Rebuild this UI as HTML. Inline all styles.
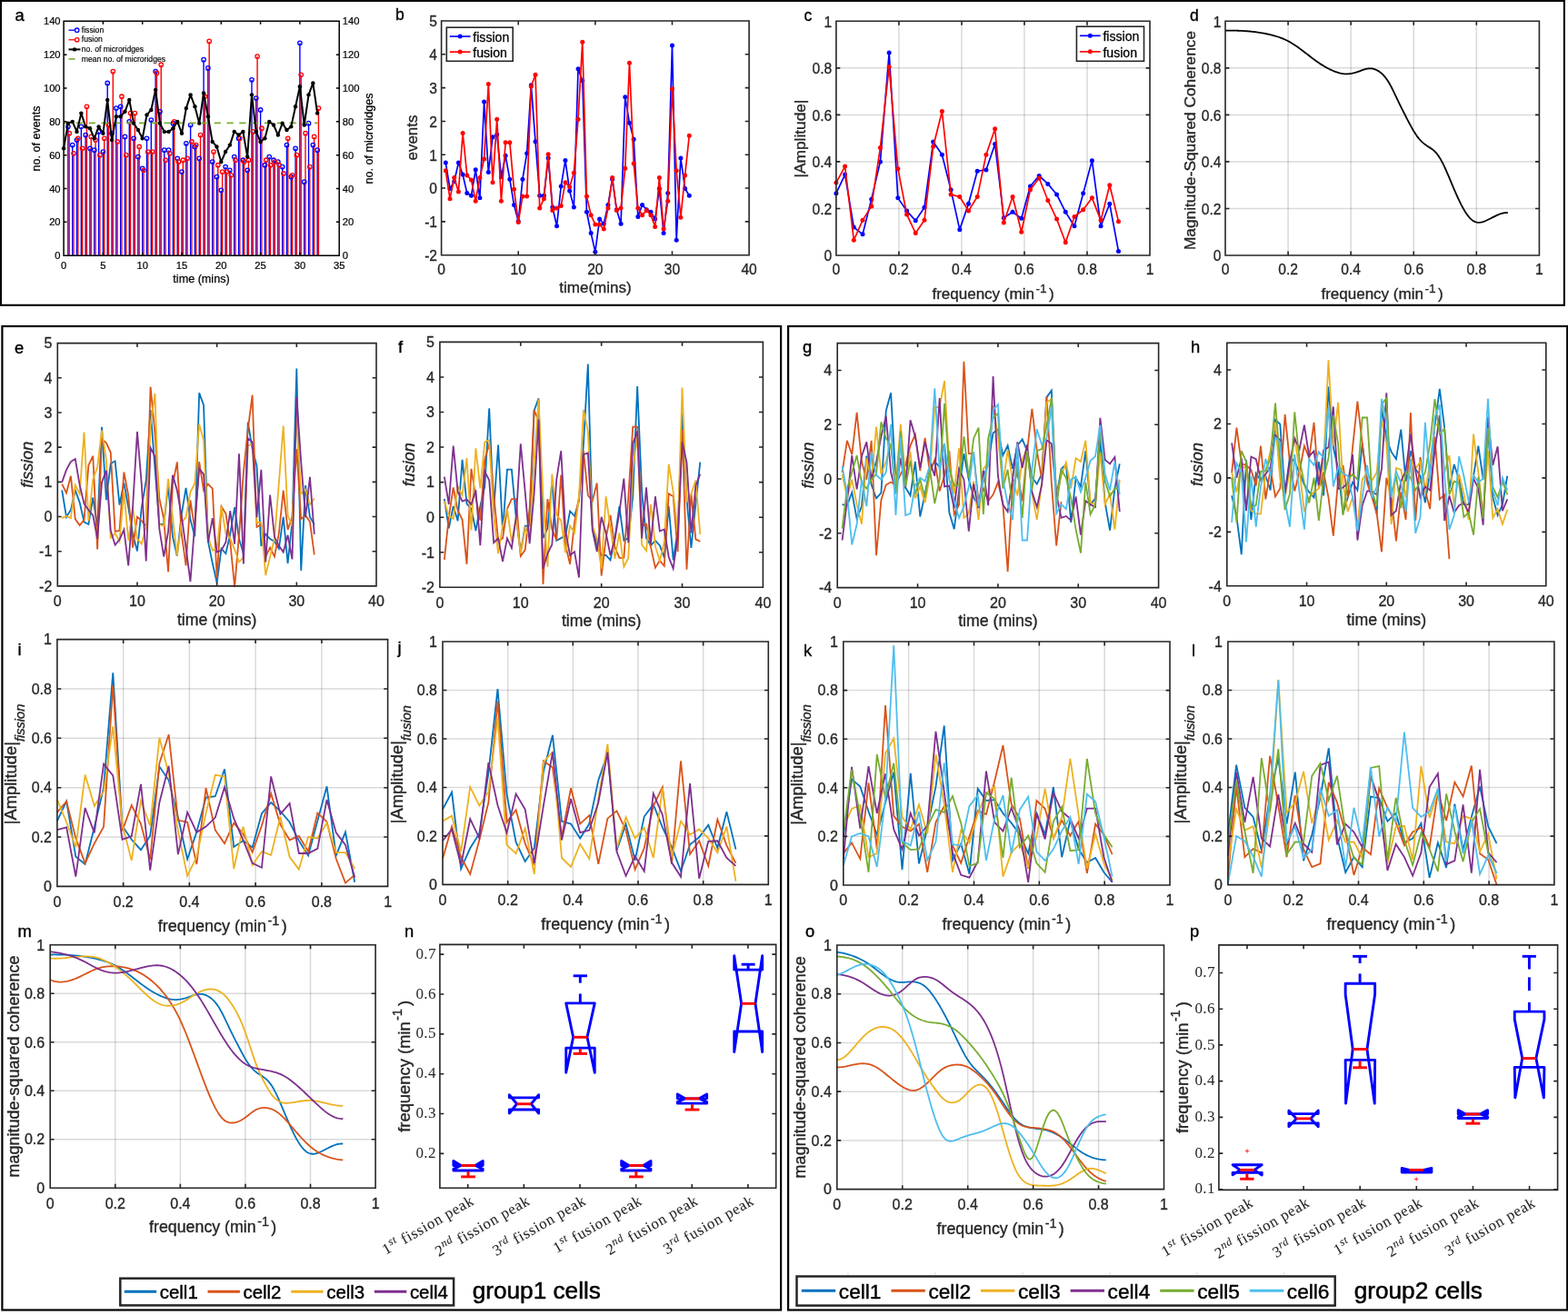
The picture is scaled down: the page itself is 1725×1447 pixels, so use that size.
<!DOCTYPE html>
<html lang="en">
<head>
<meta charset="utf-8">
<title>Figure</title>
<style>
html,body{margin:0;padding:0;background:#fff;}
body{width:1725px;height:1447px;overflow:hidden;}
svg{display:block;}
svg text{stroke-linejoin:round;}
</style>
</head>
<body>
<svg width="1725" height="1447" viewBox="0 0 1725 1447" font-family='"Liberation Sans", sans-serif'>
<rect x="0.95" y="0.9" width="1719.9" height="334.9" fill="none" stroke="#000" stroke-width="2.1"/>
<rect x="2.4" y="359" width="856.7" height="1082.5" fill="none" stroke="#000" stroke-width="2.2"/>
<rect x="867.1" y="359" width="857.1" height="1082.5" fill="none" stroke="#000" stroke-width="2.2"/>
<path d="M74.91 281.2V139.66M79.72 281.2V159.92M84.53 281.2V154.39M89.34 281.2V139.66M94.16 281.2V148.87M98.97 281.2V163.6M103.78 281.2V165.44M108.59 281.2V145.18M113.4 281.2V167.29M118.21 281.2V91.76M123.02 281.2V147.02M127.83 281.2V119.39M132.64 281.2V117.55M137.46 281.2V150.71M142.27 281.2V134.13M147.08 281.2V152.55M151.89 281.2V172.81M156.7 281.2V185.71M161.51 281.2V152.55M166.32 281.2V132.29M171.13 281.2V78.86M175.94 281.2V123.08M180.76 281.2V165.44M185.57 281.2V165.44M190.38 281.2V135.97M195.19 281.2V174.66M200 281.2V189.39M204.81 281.2V158.08M209.62 281.2V137.81M214.43 281.2V161.76M219.24 281.2V174.66M224.06 281.2V65.97M228.87 281.2V75.18M233.68 281.2V178.34M238.49 281.2V194.92M243.3 281.2V209.66M248.11 281.2V183.87M252.92 281.2V187.55M257.73 281.2V172.81M262.54 281.2V152.55M267.36 281.2V176.5M272.17 281.2V187.55M276.98 281.2V88.08M281.79 281.2V108.34M286.6 281.2V121.23M291.41 281.2V182.02M296.22 281.2V172.81M301.03 281.2V176.5M305.84 281.2V178.34M310.66 281.2V183.87M315.47 281.2V159.92M320.28 281.2V194.92M325.09 281.2V163.6M329.9 281.2V47.55M334.71 281.2V200.45M339.52 281.2V135.97M344.33 281.2V159.92M349.14 281.2V165.44" stroke="#0000ff" stroke-width="1.4" fill="none"/>
<path d="M76.21 281.2V147.02M81.02 281.2V169.13M85.83 281.2V152.55M90.64 281.2V163.6M95.46 281.2V117.55M100.27 281.2V150.71M105.08 281.2V154.39M109.89 281.2V170.97M114.7 281.2V152.55M119.51 281.2V137.81M124.32 281.2V78.86M129.13 281.2V156.23M133.94 281.2V106.5M138.76 281.2V170.97M143.57 281.2V124.92M148.38 281.2V124.92M153.19 281.2V161.76M158 281.2V187.55M162.81 281.2V167.29M167.62 281.2V167.29M172.43 281.2V80.71M177.24 281.2V71.5M182.06 281.2V176.5M186.87 281.2V169.13M191.68 281.2V134.13M196.49 281.2V178.34M201.3 281.2V176.5M206.11 281.2V174.66M210.92 281.2V156.23M215.73 281.2V159.92M220.54 281.2V148.87M225.36 281.2V106.5M230.17 281.2V45.71M234.98 281.2V167.29M239.79 281.2V182.02M244.6 281.2V189.39M249.41 281.2V189.39M254.22 281.2V193.08M259.03 281.2V176.5M263.84 281.2V152.55M268.66 281.2V178.34M273.47 281.2V176.5M278.28 281.2V145.18M283.09 281.2V62.29M287.9 281.2V141.5M292.71 281.2V176.5M297.52 281.2V182.02M302.33 281.2V178.34M307.14 281.2V182.02M311.96 281.2V191.24M316.77 281.2V152.55M321.58 281.2V193.08M326.39 281.2V170.97M331.2 281.2V82.55M336.01 281.2V147.02M340.82 281.2V183.87M345.63 281.2V150.71M350.44 281.2V119.39" stroke="#ff0000" stroke-width="1.4" fill="none"/>
<circle cx="74.91" cy="139.35" r="2.2" fill="none" stroke="#0000ff" stroke-width="1.3"/>
<circle cx="79.72" cy="159.62" r="2.2" fill="none" stroke="#0000ff" stroke-width="1.3"/>
<circle cx="84.53" cy="154.09" r="2.2" fill="none" stroke="#0000ff" stroke-width="1.3"/>
<circle cx="89.34" cy="139.35" r="2.2" fill="none" stroke="#0000ff" stroke-width="1.3"/>
<circle cx="94.16" cy="148.57" r="2.2" fill="none" stroke="#0000ff" stroke-width="1.3"/>
<circle cx="98.97" cy="163.3" r="2.2" fill="none" stroke="#0000ff" stroke-width="1.3"/>
<circle cx="103.78" cy="165.14" r="2.2" fill="none" stroke="#0000ff" stroke-width="1.3"/>
<circle cx="108.59" cy="144.88" r="2.2" fill="none" stroke="#0000ff" stroke-width="1.3"/>
<circle cx="113.4" cy="166.99" r="2.2" fill="none" stroke="#0000ff" stroke-width="1.3"/>
<circle cx="118.21" cy="91.46" r="2.2" fill="none" stroke="#0000ff" stroke-width="1.3"/>
<circle cx="123.02" cy="146.72" r="2.2" fill="none" stroke="#0000ff" stroke-width="1.3"/>
<circle cx="127.83" cy="119.09" r="2.2" fill="none" stroke="#0000ff" stroke-width="1.3"/>
<circle cx="132.64" cy="117.25" r="2.2" fill="none" stroke="#0000ff" stroke-width="1.3"/>
<circle cx="137.46" cy="150.41" r="2.2" fill="none" stroke="#0000ff" stroke-width="1.3"/>
<circle cx="142.27" cy="133.83" r="2.2" fill="none" stroke="#0000ff" stroke-width="1.3"/>
<circle cx="147.08" cy="152.25" r="2.2" fill="none" stroke="#0000ff" stroke-width="1.3"/>
<circle cx="151.89" cy="172.51" r="2.2" fill="none" stroke="#0000ff" stroke-width="1.3"/>
<circle cx="156.7" cy="185.41" r="2.2" fill="none" stroke="#0000ff" stroke-width="1.3"/>
<circle cx="161.51" cy="152.25" r="2.2" fill="none" stroke="#0000ff" stroke-width="1.3"/>
<circle cx="166.32" cy="131.99" r="2.2" fill="none" stroke="#0000ff" stroke-width="1.3"/>
<circle cx="171.13" cy="78.56" r="2.2" fill="none" stroke="#0000ff" stroke-width="1.3"/>
<circle cx="175.94" cy="122.78" r="2.2" fill="none" stroke="#0000ff" stroke-width="1.3"/>
<circle cx="180.76" cy="165.14" r="2.2" fill="none" stroke="#0000ff" stroke-width="1.3"/>
<circle cx="185.57" cy="165.14" r="2.2" fill="none" stroke="#0000ff" stroke-width="1.3"/>
<circle cx="190.38" cy="135.67" r="2.2" fill="none" stroke="#0000ff" stroke-width="1.3"/>
<circle cx="195.19" cy="174.36" r="2.2" fill="none" stroke="#0000ff" stroke-width="1.3"/>
<circle cx="200" cy="189.09" r="2.2" fill="none" stroke="#0000ff" stroke-width="1.3"/>
<circle cx="204.81" cy="157.78" r="2.2" fill="none" stroke="#0000ff" stroke-width="1.3"/>
<circle cx="209.62" cy="137.51" r="2.2" fill="none" stroke="#0000ff" stroke-width="1.3"/>
<circle cx="214.43" cy="161.46" r="2.2" fill="none" stroke="#0000ff" stroke-width="1.3"/>
<circle cx="219.24" cy="174.36" r="2.2" fill="none" stroke="#0000ff" stroke-width="1.3"/>
<circle cx="224.06" cy="65.67" r="2.2" fill="none" stroke="#0000ff" stroke-width="1.3"/>
<circle cx="228.87" cy="74.88" r="2.2" fill="none" stroke="#0000ff" stroke-width="1.3"/>
<circle cx="233.68" cy="178.04" r="2.2" fill="none" stroke="#0000ff" stroke-width="1.3"/>
<circle cx="238.49" cy="194.62" r="2.2" fill="none" stroke="#0000ff" stroke-width="1.3"/>
<circle cx="243.3" cy="209.36" r="2.2" fill="none" stroke="#0000ff" stroke-width="1.3"/>
<circle cx="248.11" cy="183.57" r="2.2" fill="none" stroke="#0000ff" stroke-width="1.3"/>
<circle cx="252.92" cy="187.25" r="2.2" fill="none" stroke="#0000ff" stroke-width="1.3"/>
<circle cx="257.73" cy="172.51" r="2.2" fill="none" stroke="#0000ff" stroke-width="1.3"/>
<circle cx="262.54" cy="152.25" r="2.2" fill="none" stroke="#0000ff" stroke-width="1.3"/>
<circle cx="267.36" cy="176.2" r="2.2" fill="none" stroke="#0000ff" stroke-width="1.3"/>
<circle cx="272.17" cy="187.25" r="2.2" fill="none" stroke="#0000ff" stroke-width="1.3"/>
<circle cx="276.98" cy="87.78" r="2.2" fill="none" stroke="#0000ff" stroke-width="1.3"/>
<circle cx="281.79" cy="108.04" r="2.2" fill="none" stroke="#0000ff" stroke-width="1.3"/>
<circle cx="286.6" cy="120.93" r="2.2" fill="none" stroke="#0000ff" stroke-width="1.3"/>
<circle cx="291.41" cy="181.72" r="2.2" fill="none" stroke="#0000ff" stroke-width="1.3"/>
<circle cx="296.22" cy="172.51" r="2.2" fill="none" stroke="#0000ff" stroke-width="1.3"/>
<circle cx="301.03" cy="176.2" r="2.2" fill="none" stroke="#0000ff" stroke-width="1.3"/>
<circle cx="305.84" cy="178.04" r="2.2" fill="none" stroke="#0000ff" stroke-width="1.3"/>
<circle cx="310.66" cy="183.57" r="2.2" fill="none" stroke="#0000ff" stroke-width="1.3"/>
<circle cx="315.47" cy="159.62" r="2.2" fill="none" stroke="#0000ff" stroke-width="1.3"/>
<circle cx="320.28" cy="194.62" r="2.2" fill="none" stroke="#0000ff" stroke-width="1.3"/>
<circle cx="325.09" cy="163.3" r="2.2" fill="none" stroke="#0000ff" stroke-width="1.3"/>
<circle cx="329.9" cy="47.25" r="2.2" fill="none" stroke="#0000ff" stroke-width="1.3"/>
<circle cx="334.71" cy="200.15" r="2.2" fill="none" stroke="#0000ff" stroke-width="1.3"/>
<circle cx="339.52" cy="135.67" r="2.2" fill="none" stroke="#0000ff" stroke-width="1.3"/>
<circle cx="344.33" cy="159.62" r="2.2" fill="none" stroke="#0000ff" stroke-width="1.3"/>
<circle cx="349.14" cy="165.14" r="2.2" fill="none" stroke="#0000ff" stroke-width="1.3"/>
<circle cx="76.21" cy="146.72" r="2.2" fill="none" stroke="#ff0000" stroke-width="1.3"/>
<circle cx="81.02" cy="168.83" r="2.2" fill="none" stroke="#ff0000" stroke-width="1.3"/>
<circle cx="85.83" cy="152.25" r="2.2" fill="none" stroke="#ff0000" stroke-width="1.3"/>
<circle cx="90.64" cy="163.3" r="2.2" fill="none" stroke="#ff0000" stroke-width="1.3"/>
<circle cx="95.46" cy="117.25" r="2.2" fill="none" stroke="#ff0000" stroke-width="1.3"/>
<circle cx="100.27" cy="150.41" r="2.2" fill="none" stroke="#ff0000" stroke-width="1.3"/>
<circle cx="105.08" cy="154.09" r="2.2" fill="none" stroke="#ff0000" stroke-width="1.3"/>
<circle cx="109.89" cy="170.67" r="2.2" fill="none" stroke="#ff0000" stroke-width="1.3"/>
<circle cx="114.7" cy="152.25" r="2.2" fill="none" stroke="#ff0000" stroke-width="1.3"/>
<circle cx="119.51" cy="137.51" r="2.2" fill="none" stroke="#ff0000" stroke-width="1.3"/>
<circle cx="124.32" cy="78.56" r="2.2" fill="none" stroke="#ff0000" stroke-width="1.3"/>
<circle cx="129.13" cy="155.93" r="2.2" fill="none" stroke="#ff0000" stroke-width="1.3"/>
<circle cx="133.94" cy="106.2" r="2.2" fill="none" stroke="#ff0000" stroke-width="1.3"/>
<circle cx="138.76" cy="170.67" r="2.2" fill="none" stroke="#ff0000" stroke-width="1.3"/>
<circle cx="143.57" cy="124.62" r="2.2" fill="none" stroke="#ff0000" stroke-width="1.3"/>
<circle cx="148.38" cy="124.62" r="2.2" fill="none" stroke="#ff0000" stroke-width="1.3"/>
<circle cx="153.19" cy="161.46" r="2.2" fill="none" stroke="#ff0000" stroke-width="1.3"/>
<circle cx="158" cy="187.25" r="2.2" fill="none" stroke="#ff0000" stroke-width="1.3"/>
<circle cx="162.81" cy="166.99" r="2.2" fill="none" stroke="#ff0000" stroke-width="1.3"/>
<circle cx="167.62" cy="166.99" r="2.2" fill="none" stroke="#ff0000" stroke-width="1.3"/>
<circle cx="172.43" cy="80.41" r="2.2" fill="none" stroke="#ff0000" stroke-width="1.3"/>
<circle cx="177.24" cy="71.2" r="2.2" fill="none" stroke="#ff0000" stroke-width="1.3"/>
<circle cx="182.06" cy="176.2" r="2.2" fill="none" stroke="#ff0000" stroke-width="1.3"/>
<circle cx="186.87" cy="168.83" r="2.2" fill="none" stroke="#ff0000" stroke-width="1.3"/>
<circle cx="191.68" cy="133.83" r="2.2" fill="none" stroke="#ff0000" stroke-width="1.3"/>
<circle cx="196.49" cy="178.04" r="2.2" fill="none" stroke="#ff0000" stroke-width="1.3"/>
<circle cx="201.3" cy="176.2" r="2.2" fill="none" stroke="#ff0000" stroke-width="1.3"/>
<circle cx="206.11" cy="174.36" r="2.2" fill="none" stroke="#ff0000" stroke-width="1.3"/>
<circle cx="210.92" cy="155.93" r="2.2" fill="none" stroke="#ff0000" stroke-width="1.3"/>
<circle cx="215.73" cy="159.62" r="2.2" fill="none" stroke="#ff0000" stroke-width="1.3"/>
<circle cx="220.54" cy="148.57" r="2.2" fill="none" stroke="#ff0000" stroke-width="1.3"/>
<circle cx="225.36" cy="106.2" r="2.2" fill="none" stroke="#ff0000" stroke-width="1.3"/>
<circle cx="230.17" cy="45.41" r="2.2" fill="none" stroke="#ff0000" stroke-width="1.3"/>
<circle cx="234.98" cy="166.99" r="2.2" fill="none" stroke="#ff0000" stroke-width="1.3"/>
<circle cx="239.79" cy="181.72" r="2.2" fill="none" stroke="#ff0000" stroke-width="1.3"/>
<circle cx="244.6" cy="189.09" r="2.2" fill="none" stroke="#ff0000" stroke-width="1.3"/>
<circle cx="249.41" cy="189.09" r="2.2" fill="none" stroke="#ff0000" stroke-width="1.3"/>
<circle cx="254.22" cy="192.78" r="2.2" fill="none" stroke="#ff0000" stroke-width="1.3"/>
<circle cx="259.03" cy="176.2" r="2.2" fill="none" stroke="#ff0000" stroke-width="1.3"/>
<circle cx="263.84" cy="152.25" r="2.2" fill="none" stroke="#ff0000" stroke-width="1.3"/>
<circle cx="268.66" cy="178.04" r="2.2" fill="none" stroke="#ff0000" stroke-width="1.3"/>
<circle cx="273.47" cy="176.2" r="2.2" fill="none" stroke="#ff0000" stroke-width="1.3"/>
<circle cx="278.28" cy="144.88" r="2.2" fill="none" stroke="#ff0000" stroke-width="1.3"/>
<circle cx="283.09" cy="61.99" r="2.2" fill="none" stroke="#ff0000" stroke-width="1.3"/>
<circle cx="287.9" cy="141.2" r="2.2" fill="none" stroke="#ff0000" stroke-width="1.3"/>
<circle cx="292.71" cy="176.2" r="2.2" fill="none" stroke="#ff0000" stroke-width="1.3"/>
<circle cx="297.52" cy="181.72" r="2.2" fill="none" stroke="#ff0000" stroke-width="1.3"/>
<circle cx="302.33" cy="178.04" r="2.2" fill="none" stroke="#ff0000" stroke-width="1.3"/>
<circle cx="307.14" cy="181.72" r="2.2" fill="none" stroke="#ff0000" stroke-width="1.3"/>
<circle cx="311.96" cy="190.94" r="2.2" fill="none" stroke="#ff0000" stroke-width="1.3"/>
<circle cx="316.77" cy="152.25" r="2.2" fill="none" stroke="#ff0000" stroke-width="1.3"/>
<circle cx="321.58" cy="192.78" r="2.2" fill="none" stroke="#ff0000" stroke-width="1.3"/>
<circle cx="326.39" cy="170.67" r="2.2" fill="none" stroke="#ff0000" stroke-width="1.3"/>
<circle cx="331.2" cy="82.25" r="2.2" fill="none" stroke="#ff0000" stroke-width="1.3"/>
<circle cx="336.01" cy="146.72" r="2.2" fill="none" stroke="#ff0000" stroke-width="1.3"/>
<circle cx="340.82" cy="183.57" r="2.2" fill="none" stroke="#ff0000" stroke-width="1.3"/>
<circle cx="345.63" cy="150.41" r="2.2" fill="none" stroke="#ff0000" stroke-width="1.3"/>
<circle cx="350.44" cy="119.09" r="2.2" fill="none" stroke="#ff0000" stroke-width="1.3"/>
<polyline points="70.1,135.3 349.82,135.3" fill="none" stroke="#77ac30" stroke-width="1.7" stroke-linejoin="round" stroke-dasharray="7.2 6.6"/>
<polyline points="70.1,163.3 74.91,135.67 79.72,133.83 84.53,144.88 89.34,124.62 94.16,139.35 98.97,141.2 103.78,152.25 108.59,139.35 113.4,146.72 118.21,109.88 123.02,154.09 127.83,128.3 132.64,128.3 137.46,122.78 142.27,109.88 147.08,135.67 151.89,143.04 156.7,152.25 161.51,126.46 166.32,120.93 171.13,98.83 175.94,135.67 180.76,144.88 185.57,144.88 190.38,141.2 195.19,133.83 200,146.72 204.81,119.09 209.62,104.35 214.43,117.25 219.24,135.67 224.06,102.51 228.87,128.3 233.68,155.93 238.49,161.46 243.3,178.04 248.11,166.99 252.92,159.62 257.73,144.88 262.54,148.57 267.36,144.88 272.17,172.51 276.98,104.35 281.79,144.88 286.6,155.93 291.41,152.25 296.22,133.83 301.03,137.51 305.84,148.57 310.66,135.67 315.47,143.04 320.28,139.35 325.09,117.25 329.9,95.14 334.71,137.51 339.52,104.35 344.33,91.46 349.14,124.62" fill="none" stroke="#000" stroke-width="2.0" stroke-linejoin="round"/>
<circle cx="70.1" cy="163.3" r="2.2" fill="#000"/>
<circle cx="74.91" cy="135.67" r="2.2" fill="#000"/>
<circle cx="79.72" cy="133.83" r="2.2" fill="#000"/>
<circle cx="84.53" cy="144.88" r="2.2" fill="#000"/>
<circle cx="89.34" cy="124.62" r="2.2" fill="#000"/>
<circle cx="94.16" cy="139.35" r="2.2" fill="#000"/>
<circle cx="98.97" cy="141.2" r="2.2" fill="#000"/>
<circle cx="103.78" cy="152.25" r="2.2" fill="#000"/>
<circle cx="108.59" cy="139.35" r="2.2" fill="#000"/>
<circle cx="113.4" cy="146.72" r="2.2" fill="#000"/>
<circle cx="118.21" cy="109.88" r="2.2" fill="#000"/>
<circle cx="123.02" cy="154.09" r="2.2" fill="#000"/>
<circle cx="127.83" cy="128.3" r="2.2" fill="#000"/>
<circle cx="132.64" cy="128.3" r="2.2" fill="#000"/>
<circle cx="137.46" cy="122.78" r="2.2" fill="#000"/>
<circle cx="142.27" cy="109.88" r="2.2" fill="#000"/>
<circle cx="147.08" cy="135.67" r="2.2" fill="#000"/>
<circle cx="151.89" cy="143.04" r="2.2" fill="#000"/>
<circle cx="156.7" cy="152.25" r="2.2" fill="#000"/>
<circle cx="161.51" cy="126.46" r="2.2" fill="#000"/>
<circle cx="166.32" cy="120.93" r="2.2" fill="#000"/>
<circle cx="171.13" cy="98.83" r="2.2" fill="#000"/>
<circle cx="175.94" cy="135.67" r="2.2" fill="#000"/>
<circle cx="180.76" cy="144.88" r="2.2" fill="#000"/>
<circle cx="185.57" cy="144.88" r="2.2" fill="#000"/>
<circle cx="190.38" cy="141.2" r="2.2" fill="#000"/>
<circle cx="195.19" cy="133.83" r="2.2" fill="#000"/>
<circle cx="200" cy="146.72" r="2.2" fill="#000"/>
<circle cx="204.81" cy="119.09" r="2.2" fill="#000"/>
<circle cx="209.62" cy="104.35" r="2.2" fill="#000"/>
<circle cx="214.43" cy="117.25" r="2.2" fill="#000"/>
<circle cx="219.24" cy="135.67" r="2.2" fill="#000"/>
<circle cx="224.06" cy="102.51" r="2.2" fill="#000"/>
<circle cx="228.87" cy="128.3" r="2.2" fill="#000"/>
<circle cx="233.68" cy="155.93" r="2.2" fill="#000"/>
<circle cx="238.49" cy="161.46" r="2.2" fill="#000"/>
<circle cx="243.3" cy="178.04" r="2.2" fill="#000"/>
<circle cx="248.11" cy="166.99" r="2.2" fill="#000"/>
<circle cx="252.92" cy="159.62" r="2.2" fill="#000"/>
<circle cx="257.73" cy="144.88" r="2.2" fill="#000"/>
<circle cx="262.54" cy="148.57" r="2.2" fill="#000"/>
<circle cx="267.36" cy="144.88" r="2.2" fill="#000"/>
<circle cx="272.17" cy="172.51" r="2.2" fill="#000"/>
<circle cx="276.98" cy="104.35" r="2.2" fill="#000"/>
<circle cx="281.79" cy="144.88" r="2.2" fill="#000"/>
<circle cx="286.6" cy="155.93" r="2.2" fill="#000"/>
<circle cx="291.41" cy="152.25" r="2.2" fill="#000"/>
<circle cx="296.22" cy="133.83" r="2.2" fill="#000"/>
<circle cx="301.03" cy="137.51" r="2.2" fill="#000"/>
<circle cx="305.84" cy="148.57" r="2.2" fill="#000"/>
<circle cx="310.66" cy="135.67" r="2.2" fill="#000"/>
<circle cx="315.47" cy="143.04" r="2.2" fill="#000"/>
<circle cx="320.28" cy="139.35" r="2.2" fill="#000"/>
<circle cx="325.09" cy="117.25" r="2.2" fill="#000"/>
<circle cx="329.9" cy="95.14" r="2.2" fill="#000"/>
<circle cx="334.71" cy="137.51" r="2.2" fill="#000"/>
<circle cx="339.52" cy="104.35" r="2.2" fill="#000"/>
<circle cx="344.33" cy="91.46" r="2.2" fill="#000"/>
<circle cx="349.14" cy="124.62" r="2.2" fill="#000"/>
<path d="M70.1 23.3H373.2V281.2H70.1ZM70.1 281.2v-3.4M70.1 23.3v3.4M113.4 281.2v-3.4M113.4 23.3v3.4M156.7 281.2v-3.4M156.7 23.3v3.4M200 281.2v-3.4M200 23.3v3.4M243.3 281.2v-3.4M243.3 23.3v3.4M286.6 281.2v-3.4M286.6 23.3v3.4M329.9 281.2v-3.4M329.9 23.3v3.4M373.2 281.2v-3.4M373.2 23.3v3.4M70.1 281.2h3.4M70.1 244.36h3.4M70.1 207.51h3.4M70.1 170.67h3.4M70.1 133.83h3.4M70.1 96.99h3.4M70.1 60.14h3.4M70.1 23.3h3.4M373.2 281.2h-3.4M373.2 244.36h-3.4M373.2 207.51h-3.4M373.2 170.67h-3.4M373.2 133.83h-3.4M373.2 96.99h-3.4M373.2 60.14h-3.4M373.2 23.3h-3.4" stroke="#000" stroke-width="1.5" fill="none" stroke-linejoin="miter"/>
<text x="70.1" y="295.6" font-size="11.2" text-anchor="middle" fill="#000" stroke="#000" stroke-width="0.22">0</text>
<text x="113.4" y="295.6" font-size="11.2" text-anchor="middle" fill="#000" stroke="#000" stroke-width="0.22">5</text>
<text x="156.7" y="295.6" font-size="11.2" text-anchor="middle" fill="#000" stroke="#000" stroke-width="0.22">10</text>
<text x="200" y="295.6" font-size="11.2" text-anchor="middle" fill="#000" stroke="#000" stroke-width="0.22">15</text>
<text x="243.3" y="295.6" font-size="11.2" text-anchor="middle" fill="#000" stroke="#000" stroke-width="0.22">20</text>
<text x="286.6" y="295.6" font-size="11.2" text-anchor="middle" fill="#000" stroke="#000" stroke-width="0.22">25</text>
<text x="329.9" y="295.6" font-size="11.2" text-anchor="middle" fill="#000" stroke="#000" stroke-width="0.22">30</text>
<text x="373.2" y="295.6" font-size="11.2" text-anchor="middle" fill="#000" stroke="#000" stroke-width="0.22">35</text>
<text x="66.6" y="285.23" font-size="11.2" text-anchor="end" fill="#000" stroke="#000" stroke-width="0.22">0</text>
<text x="66.6" y="248.39" font-size="11.2" text-anchor="end" fill="#000" stroke="#000" stroke-width="0.22">20</text>
<text x="66.6" y="211.55" font-size="11.2" text-anchor="end" fill="#000" stroke="#000" stroke-width="0.22">40</text>
<text x="66.6" y="174.7" font-size="11.2" text-anchor="end" fill="#000" stroke="#000" stroke-width="0.22">60</text>
<text x="66.6" y="137.86" font-size="11.2" text-anchor="end" fill="#000" stroke="#000" stroke-width="0.22">80</text>
<text x="66.6" y="101.02" font-size="11.2" text-anchor="end" fill="#000" stroke="#000" stroke-width="0.22">100</text>
<text x="66.6" y="64.17" font-size="11.2" text-anchor="end" fill="#000" stroke="#000" stroke-width="0.22">120</text>
<text x="66.6" y="27.33" font-size="11.2" text-anchor="end" fill="#000" stroke="#000" stroke-width="0.22">140</text>
<text x="376.7" y="285.23" font-size="11.2" text-anchor="start" fill="#000" stroke="#000" stroke-width="0.22">0</text>
<text x="376.7" y="248.39" font-size="11.2" text-anchor="start" fill="#000" stroke="#000" stroke-width="0.22">20</text>
<text x="376.7" y="211.55" font-size="11.2" text-anchor="start" fill="#000" stroke="#000" stroke-width="0.22">40</text>
<text x="376.7" y="174.7" font-size="11.2" text-anchor="start" fill="#000" stroke="#000" stroke-width="0.22">60</text>
<text x="376.7" y="137.86" font-size="11.2" text-anchor="start" fill="#000" stroke="#000" stroke-width="0.22">80</text>
<text x="376.7" y="101.02" font-size="11.2" text-anchor="start" fill="#000" stroke="#000" stroke-width="0.22">100</text>
<text x="376.7" y="64.17" font-size="11.2" text-anchor="start" fill="#000" stroke="#000" stroke-width="0.22">120</text>
<text x="376.7" y="27.33" font-size="11.2" text-anchor="start" fill="#000" stroke="#000" stroke-width="0.22">140</text>
<text x="221.5" y="311" font-size="12.6" text-anchor="middle" fill="#000" stroke="#000" stroke-width="0.25">time (mins)</text>
<text transform="translate(43.5 152.5) rotate(-90)" font-size="12.6" text-anchor="middle" fill="#000" stroke="#000" stroke-width="0.25">no. of events</text>
<text transform="translate(410 152.5) rotate(-90)" font-size="12.6" text-anchor="middle" fill="#000" stroke="#000" stroke-width="0.25">no. of microridges</text>
<text x="16.5" y="22.8" font-size="18.4" text-anchor="start" fill="#000" stroke="#000" stroke-width="0.37">a</text>
<path d="M75.5 33.2H82.5" stroke="#0000ff" stroke-width="1.3"/>
<circle cx="84.7" cy="33.2" r="2.2" fill="none" stroke="#0000ff" stroke-width="1.3"/>
<text x="89.8" y="35.8" font-size="8.6" text-anchor="start" fill="#000" stroke="#000" stroke-width="0.17">fission</text>
<path d="M75.5 43.8H82.5" stroke="#ff0000" stroke-width="1.3"/>
<circle cx="84.7" cy="43.8" r="2.2" fill="none" stroke="#ff0000" stroke-width="1.3"/>
<text x="89.8" y="46.4" font-size="8.6" text-anchor="start" fill="#000" stroke="#000" stroke-width="0.17">fusion</text>
<path d="M75.5 54.4H88.5" stroke="#000" stroke-width="2"/>
<circle cx="82" cy="54.4" r="2.2" fill="#000"/>
<text x="89.8" y="57" font-size="8.6" text-anchor="start" fill="#000" stroke="#000" stroke-width="0.17">no. of microridges</text>
<path d="M75.5 65H82.5" stroke="#77ac30" stroke-width="1.6"/>
<text x="89.8" y="67.6" font-size="8.6" text-anchor="start" fill="#000" stroke="#000" stroke-width="0.17">mean no. of microridges</text>
<polyline points="490.3,179.06 495,207.46 499.7,199.71 504.41,179.06 509.11,191.97 513.81,212.62 518.51,215.2 523.21,186.81 527.91,217.79 532.61,111.94 537.32,189.39 542.02,150.66 546.72,148.08 551.42,194.55 556.12,171.32 560.82,197.13 565.52,225.53 570.23,243.6 574.93,197.13 579.63,168.73 584.33,93.87 589.03,155.83 593.73,215.2 598.43,215.2 603.13,173.9 607.84,228.11 612.54,248.77 617.24,204.88 621.94,176.48 626.64,210.04 631.34,228.11 636.04,75.79 640.75,88.7 645.45,233.28 650.15,256.51 654.85,277.16 659.55,241.02 664.25,246.18 668.95,225.53 673.66,197.13 678.36,230.69 683.06,246.18 687.76,106.77 692.46,135.17 697.16,153.24 701.86,238.44 706.57,225.53 711.27,230.69 715.97,233.28 720.67,241.02 725.37,207.46 730.07,256.51 734.77,212.62 739.48,49.98 744.18,264.25 748.88,173.9 753.58,207.46 758.28,215.2" fill="none" stroke="#0000ff" stroke-width="1.7" stroke-linejoin="round"/>
<circle cx="490.3" cy="179.06" r="2.5" fill="#0000ff"/>
<circle cx="495" cy="207.46" r="2.5" fill="#0000ff"/>
<circle cx="499.7" cy="199.71" r="2.5" fill="#0000ff"/>
<circle cx="504.41" cy="179.06" r="2.5" fill="#0000ff"/>
<circle cx="509.11" cy="191.97" r="2.5" fill="#0000ff"/>
<circle cx="513.81" cy="212.62" r="2.5" fill="#0000ff"/>
<circle cx="518.51" cy="215.2" r="2.5" fill="#0000ff"/>
<circle cx="523.21" cy="186.81" r="2.5" fill="#0000ff"/>
<circle cx="527.91" cy="217.79" r="2.5" fill="#0000ff"/>
<circle cx="532.61" cy="111.94" r="2.5" fill="#0000ff"/>
<circle cx="537.32" cy="189.39" r="2.5" fill="#0000ff"/>
<circle cx="542.02" cy="150.66" r="2.5" fill="#0000ff"/>
<circle cx="546.72" cy="148.08" r="2.5" fill="#0000ff"/>
<circle cx="551.42" cy="194.55" r="2.5" fill="#0000ff"/>
<circle cx="556.12" cy="171.32" r="2.5" fill="#0000ff"/>
<circle cx="560.82" cy="197.13" r="2.5" fill="#0000ff"/>
<circle cx="565.52" cy="225.53" r="2.5" fill="#0000ff"/>
<circle cx="570.23" cy="243.6" r="2.5" fill="#0000ff"/>
<circle cx="574.93" cy="197.13" r="2.5" fill="#0000ff"/>
<circle cx="579.63" cy="168.73" r="2.5" fill="#0000ff"/>
<circle cx="584.33" cy="93.87" r="2.5" fill="#0000ff"/>
<circle cx="589.03" cy="155.83" r="2.5" fill="#0000ff"/>
<circle cx="593.73" cy="215.2" r="2.5" fill="#0000ff"/>
<circle cx="598.43" cy="215.2" r="2.5" fill="#0000ff"/>
<circle cx="603.13" cy="173.9" r="2.5" fill="#0000ff"/>
<circle cx="607.84" cy="228.11" r="2.5" fill="#0000ff"/>
<circle cx="612.54" cy="248.77" r="2.5" fill="#0000ff"/>
<circle cx="617.24" cy="204.88" r="2.5" fill="#0000ff"/>
<circle cx="621.94" cy="176.48" r="2.5" fill="#0000ff"/>
<circle cx="626.64" cy="210.04" r="2.5" fill="#0000ff"/>
<circle cx="631.34" cy="228.11" r="2.5" fill="#0000ff"/>
<circle cx="636.04" cy="75.79" r="2.5" fill="#0000ff"/>
<circle cx="640.75" cy="88.7" r="2.5" fill="#0000ff"/>
<circle cx="645.45" cy="233.28" r="2.5" fill="#0000ff"/>
<circle cx="650.15" cy="256.51" r="2.5" fill="#0000ff"/>
<circle cx="654.85" cy="277.16" r="2.5" fill="#0000ff"/>
<circle cx="659.55" cy="241.02" r="2.5" fill="#0000ff"/>
<circle cx="664.25" cy="246.18" r="2.5" fill="#0000ff"/>
<circle cx="668.95" cy="225.53" r="2.5" fill="#0000ff"/>
<circle cx="673.66" cy="197.13" r="2.5" fill="#0000ff"/>
<circle cx="678.36" cy="230.69" r="2.5" fill="#0000ff"/>
<circle cx="683.06" cy="246.18" r="2.5" fill="#0000ff"/>
<circle cx="687.76" cy="106.77" r="2.5" fill="#0000ff"/>
<circle cx="692.46" cy="135.17" r="2.5" fill="#0000ff"/>
<circle cx="697.16" cy="153.24" r="2.5" fill="#0000ff"/>
<circle cx="701.86" cy="238.44" r="2.5" fill="#0000ff"/>
<circle cx="706.57" cy="225.53" r="2.5" fill="#0000ff"/>
<circle cx="711.27" cy="230.69" r="2.5" fill="#0000ff"/>
<circle cx="715.97" cy="233.28" r="2.5" fill="#0000ff"/>
<circle cx="720.67" cy="241.02" r="2.5" fill="#0000ff"/>
<circle cx="725.37" cy="207.46" r="2.5" fill="#0000ff"/>
<circle cx="730.07" cy="256.51" r="2.5" fill="#0000ff"/>
<circle cx="734.77" cy="212.62" r="2.5" fill="#0000ff"/>
<circle cx="739.48" cy="49.98" r="2.5" fill="#0000ff"/>
<circle cx="744.18" cy="264.25" r="2.5" fill="#0000ff"/>
<circle cx="748.88" cy="173.9" r="2.5" fill="#0000ff"/>
<circle cx="753.58" cy="207.46" r="2.5" fill="#0000ff"/>
<circle cx="758.28" cy="215.2" r="2.5" fill="#0000ff"/>
<polyline points="490.3,187.76 495,218.66 499.7,195.49 504.41,210.93 509.11,146.57 513.81,192.91 518.51,198.06 523.21,221.23 527.91,195.49 532.61,174.89 537.32,92.51 542.02,200.64 546.72,131.13 551.42,221.23 556.12,156.87 560.82,156.87 565.52,208.36 570.23,244.4 574.93,216.08 579.63,216.08 584.33,95.08 589.03,82.21 593.73,228.95 598.43,218.66 603.13,169.74 607.84,231.53 612.54,228.95 617.24,226.38 621.94,200.64 626.64,205.78 631.34,190.34 636.04,131.13 640.75,46.17 645.45,216.08 650.15,236.68 654.85,246.98 659.55,246.98 664.25,252.12 668.95,228.95 673.66,195.49 678.36,231.53 683.06,228.95 687.76,185.19 692.46,69.34 697.16,180.04 701.86,228.95 706.57,236.68 711.27,231.53 715.97,236.68 720.67,249.55 725.37,195.49 730.07,252.12 734.77,221.23 739.48,97.66 744.18,187.76 748.88,239.25 753.58,192.91 758.28,149.15" fill="none" stroke="#ff0000" stroke-width="1.7" stroke-linejoin="round"/>
<circle cx="490.3" cy="187.76" r="2.5" fill="#ff0000"/>
<circle cx="495" cy="218.66" r="2.5" fill="#ff0000"/>
<circle cx="499.7" cy="195.49" r="2.5" fill="#ff0000"/>
<circle cx="504.41" cy="210.93" r="2.5" fill="#ff0000"/>
<circle cx="509.11" cy="146.57" r="2.5" fill="#ff0000"/>
<circle cx="513.81" cy="192.91" r="2.5" fill="#ff0000"/>
<circle cx="518.51" cy="198.06" r="2.5" fill="#ff0000"/>
<circle cx="523.21" cy="221.23" r="2.5" fill="#ff0000"/>
<circle cx="527.91" cy="195.49" r="2.5" fill="#ff0000"/>
<circle cx="532.61" cy="174.89" r="2.5" fill="#ff0000"/>
<circle cx="537.32" cy="92.51" r="2.5" fill="#ff0000"/>
<circle cx="542.02" cy="200.64" r="2.5" fill="#ff0000"/>
<circle cx="546.72" cy="131.13" r="2.5" fill="#ff0000"/>
<circle cx="551.42" cy="221.23" r="2.5" fill="#ff0000"/>
<circle cx="556.12" cy="156.87" r="2.5" fill="#ff0000"/>
<circle cx="560.82" cy="156.87" r="2.5" fill="#ff0000"/>
<circle cx="565.52" cy="208.36" r="2.5" fill="#ff0000"/>
<circle cx="570.23" cy="244.4" r="2.5" fill="#ff0000"/>
<circle cx="574.93" cy="216.08" r="2.5" fill="#ff0000"/>
<circle cx="579.63" cy="216.08" r="2.5" fill="#ff0000"/>
<circle cx="584.33" cy="95.08" r="2.5" fill="#ff0000"/>
<circle cx="589.03" cy="82.21" r="2.5" fill="#ff0000"/>
<circle cx="593.73" cy="228.95" r="2.5" fill="#ff0000"/>
<circle cx="598.43" cy="218.66" r="2.5" fill="#ff0000"/>
<circle cx="603.13" cy="169.74" r="2.5" fill="#ff0000"/>
<circle cx="607.84" cy="231.53" r="2.5" fill="#ff0000"/>
<circle cx="612.54" cy="228.95" r="2.5" fill="#ff0000"/>
<circle cx="617.24" cy="226.38" r="2.5" fill="#ff0000"/>
<circle cx="621.94" cy="200.64" r="2.5" fill="#ff0000"/>
<circle cx="626.64" cy="205.78" r="2.5" fill="#ff0000"/>
<circle cx="631.34" cy="190.34" r="2.5" fill="#ff0000"/>
<circle cx="636.04" cy="131.13" r="2.5" fill="#ff0000"/>
<circle cx="640.75" cy="46.17" r="2.5" fill="#ff0000"/>
<circle cx="645.45" cy="216.08" r="2.5" fill="#ff0000"/>
<circle cx="650.15" cy="236.68" r="2.5" fill="#ff0000"/>
<circle cx="654.85" cy="246.98" r="2.5" fill="#ff0000"/>
<circle cx="659.55" cy="246.98" r="2.5" fill="#ff0000"/>
<circle cx="664.25" cy="252.12" r="2.5" fill="#ff0000"/>
<circle cx="668.95" cy="228.95" r="2.5" fill="#ff0000"/>
<circle cx="673.66" cy="195.49" r="2.5" fill="#ff0000"/>
<circle cx="678.36" cy="231.53" r="2.5" fill="#ff0000"/>
<circle cx="683.06" cy="228.95" r="2.5" fill="#ff0000"/>
<circle cx="687.76" cy="185.19" r="2.5" fill="#ff0000"/>
<circle cx="692.46" cy="69.34" r="2.5" fill="#ff0000"/>
<circle cx="697.16" cy="180.04" r="2.5" fill="#ff0000"/>
<circle cx="701.86" cy="228.95" r="2.5" fill="#ff0000"/>
<circle cx="706.57" cy="236.68" r="2.5" fill="#ff0000"/>
<circle cx="711.27" cy="231.53" r="2.5" fill="#ff0000"/>
<circle cx="715.97" cy="236.68" r="2.5" fill="#ff0000"/>
<circle cx="720.67" cy="249.55" r="2.5" fill="#ff0000"/>
<circle cx="725.37" cy="195.49" r="2.5" fill="#ff0000"/>
<circle cx="730.07" cy="252.12" r="2.5" fill="#ff0000"/>
<circle cx="734.77" cy="221.23" r="2.5" fill="#ff0000"/>
<circle cx="739.48" cy="97.66" r="2.5" fill="#ff0000"/>
<circle cx="744.18" cy="187.76" r="2.5" fill="#ff0000"/>
<circle cx="748.88" cy="239.25" r="2.5" fill="#ff0000"/>
<circle cx="753.58" cy="192.91" r="2.5" fill="#ff0000"/>
<circle cx="758.28" cy="149.15" r="2.5" fill="#ff0000"/>
<path d="M485.6 23H824.1V280.7H485.6ZM485.6 280.7v-4.4M485.6 23v4.4M570.23 280.7v-4.4M570.23 23v4.4M654.85 280.7v-4.4M654.85 23v4.4M739.48 280.7v-4.4M739.48 23v4.4M824.1 280.7v-4.4M824.1 23v4.4M485.6 280.7h4.4M485.6 243.89h4.4M485.6 207.07h4.4M485.6 170.26h4.4M485.6 133.44h4.4M485.6 96.63h4.4M485.6 59.81h4.4M485.6 23h4.4M824.1 280.7h-4.4M824.1 243.89h-4.4M824.1 207.07h-4.4M824.1 170.26h-4.4M824.1 133.44h-4.4M824.1 96.63h-4.4M824.1 59.81h-4.4M824.1 23h-4.4" stroke="#262626" stroke-width="1.6" fill="none" stroke-linejoin="miter"/>
<text x="485.6" y="301.7" font-size="15.6" text-anchor="middle" fill="#262626" stroke="#262626" stroke-width="0.31">0</text>
<text x="570.23" y="301.7" font-size="15.6" text-anchor="middle" fill="#262626" stroke="#262626" stroke-width="0.31">10</text>
<text x="654.85" y="301.7" font-size="15.6" text-anchor="middle" fill="#262626" stroke="#262626" stroke-width="0.31">20</text>
<text x="739.48" y="301.7" font-size="15.6" text-anchor="middle" fill="#262626" stroke="#262626" stroke-width="0.31">30</text>
<text x="824.1" y="301.7" font-size="15.6" text-anchor="middle" fill="#262626" stroke="#262626" stroke-width="0.31">40</text>
<text x="481" y="286.94" font-size="15.6" text-anchor="end" fill="#262626" stroke="#262626" stroke-width="0.31">-2</text>
<text x="481" y="250.13" font-size="15.6" text-anchor="end" fill="#262626" stroke="#262626" stroke-width="0.31">-1</text>
<text x="481" y="213.31" font-size="15.6" text-anchor="end" fill="#262626" stroke="#262626" stroke-width="0.31">0</text>
<text x="481" y="176.5" font-size="15.6" text-anchor="end" fill="#262626" stroke="#262626" stroke-width="0.31">1</text>
<text x="481" y="139.68" font-size="15.6" text-anchor="end" fill="#262626" stroke="#262626" stroke-width="0.31">2</text>
<text x="481" y="102.87" font-size="15.6" text-anchor="end" fill="#262626" stroke="#262626" stroke-width="0.31">3</text>
<text x="481" y="66.05" font-size="15.6" text-anchor="end" fill="#262626" stroke="#262626" stroke-width="0.31">4</text>
<text x="481" y="29.24" font-size="15.6" text-anchor="end" fill="#262626" stroke="#262626" stroke-width="0.31">5</text>
<text x="655" y="322.3" font-size="17.0" text-anchor="middle" fill="#262626" stroke="#262626" stroke-width="0.34">time(mins)</text>
<text transform="translate(459 151.5) rotate(-90)" font-size="17.0" text-anchor="middle" fill="#262626" stroke="#262626" stroke-width="0.34">events</text>
<text x="435.1" y="21.8" font-size="17.6" text-anchor="start" fill="#000" stroke="#000" stroke-width="0.35">b</text>
<rect x="491.3" y="30.2" width="72.9" height="37.1" fill="#fff" stroke="#262626" stroke-width="1.6"/>
<path d="M494.8 40.07H517.6" stroke="#0000ff" stroke-width="1.7"/>
<circle cx="506.2" cy="40.07" r="2.5" fill="#0000ff"/>
<text x="520.3" y="45.81" font-size="14.1" text-anchor="start" fill="#000" stroke="#000" stroke-width="0.28">fission</text>
<path d="M494.8 57.12H517.6" stroke="#ff0000" stroke-width="1.7"/>
<circle cx="506.2" cy="57.12" r="2.5" fill="#ff0000"/>
<text x="520.3" y="62.86" font-size="14.1" text-anchor="start" fill="#000" stroke="#000" stroke-width="0.28">fusion</text>
<path d="M988.92 23.3V281M1057.94 23.3V281M1126.96 23.3V281M1195.98 23.3V281" stroke="#262626" stroke-opacity="0.17" stroke-width="1.5" fill="none"/>
<path d="M919.9 229.46H1265M919.9 177.92H1265M919.9 126.38H1265M919.9 74.84H1265" stroke="#262626" stroke-opacity="0.17" stroke-width="1.5" fill="none"/>
<polyline points="919.9,212.71 929.61,192.09 939.31,250.08 949.02,257.81 958.72,219.15 968.43,177.92 978.14,58.09 987.84,217.86 997.55,232.04 1007.25,242.86 1016.96,228.17 1026.67,156.02 1036.37,170.19 1046.08,208.84 1055.78,252.65 1065.49,224.31 1075.19,188.23 1084.9,186.94 1094.61,158.59 1104.31,239.77 1114.02,233.33 1123.72,240.28 1133.43,204.98 1143.14,193.38 1152.84,202.4 1162.55,214 1172.25,233.33 1181.96,248.79 1191.67,212.71 1201.37,176.63 1211.08,248.79 1220.78,224.31 1230.49,276.62" fill="none" stroke="#0000ff" stroke-width="1.7" stroke-linejoin="round"/>
<circle cx="919.9" cy="212.71" r="2.5" fill="#0000ff"/>
<circle cx="929.61" cy="192.09" r="2.5" fill="#0000ff"/>
<circle cx="939.31" cy="250.08" r="2.5" fill="#0000ff"/>
<circle cx="949.02" cy="257.81" r="2.5" fill="#0000ff"/>
<circle cx="958.72" cy="219.15" r="2.5" fill="#0000ff"/>
<circle cx="968.43" cy="177.92" r="2.5" fill="#0000ff"/>
<circle cx="978.14" cy="58.09" r="2.5" fill="#0000ff"/>
<circle cx="987.84" cy="217.86" r="2.5" fill="#0000ff"/>
<circle cx="997.55" cy="232.04" r="2.5" fill="#0000ff"/>
<circle cx="1007.25" cy="242.86" r="2.5" fill="#0000ff"/>
<circle cx="1016.96" cy="228.17" r="2.5" fill="#0000ff"/>
<circle cx="1026.67" cy="156.02" r="2.5" fill="#0000ff"/>
<circle cx="1036.37" cy="170.19" r="2.5" fill="#0000ff"/>
<circle cx="1046.08" cy="208.84" r="2.5" fill="#0000ff"/>
<circle cx="1055.78" cy="252.65" r="2.5" fill="#0000ff"/>
<circle cx="1065.49" cy="224.31" r="2.5" fill="#0000ff"/>
<circle cx="1075.19" cy="188.23" r="2.5" fill="#0000ff"/>
<circle cx="1084.9" cy="186.94" r="2.5" fill="#0000ff"/>
<circle cx="1094.61" cy="158.59" r="2.5" fill="#0000ff"/>
<circle cx="1104.31" cy="239.77" r="2.5" fill="#0000ff"/>
<circle cx="1114.02" cy="233.33" r="2.5" fill="#0000ff"/>
<circle cx="1123.72" cy="240.28" r="2.5" fill="#0000ff"/>
<circle cx="1133.43" cy="204.98" r="2.5" fill="#0000ff"/>
<circle cx="1143.14" cy="193.38" r="2.5" fill="#0000ff"/>
<circle cx="1152.84" cy="202.4" r="2.5" fill="#0000ff"/>
<circle cx="1162.55" cy="214" r="2.5" fill="#0000ff"/>
<circle cx="1172.25" cy="233.33" r="2.5" fill="#0000ff"/>
<circle cx="1181.96" cy="248.79" r="2.5" fill="#0000ff"/>
<circle cx="1191.67" cy="212.71" r="2.5" fill="#0000ff"/>
<circle cx="1201.37" cy="176.63" r="2.5" fill="#0000ff"/>
<circle cx="1211.08" cy="248.79" r="2.5" fill="#0000ff"/>
<circle cx="1220.78" cy="224.31" r="2.5" fill="#0000ff"/>
<circle cx="1230.49" cy="276.62" r="2.5" fill="#0000ff"/>
<polyline points="919.9,201.11 929.61,183.07 939.31,264.25 949.02,242.34 958.72,226.88 968.43,162.46 978.14,73.55 987.84,185.65 997.55,235.9 1007.25,256.52 1016.96,242.34 1026.67,161.17 1036.37,122.51 1046.08,214 1055.78,216.57 1065.49,232.04 1075.19,216.57 1084.9,170.19 1094.61,141.84 1104.31,244.92 1114.02,216.57 1123.72,255.23 1133.43,208.84 1143.14,195.96 1152.84,220.44 1162.55,241.06 1172.25,266.83 1181.96,238.48 1191.67,230.75 1201.37,217.86 1211.08,242.34 1220.78,203.69 1230.49,243.63" fill="none" stroke="#ff0000" stroke-width="1.7" stroke-linejoin="round"/>
<circle cx="919.9" cy="201.11" r="2.5" fill="#ff0000"/>
<circle cx="929.61" cy="183.07" r="2.5" fill="#ff0000"/>
<circle cx="939.31" cy="264.25" r="2.5" fill="#ff0000"/>
<circle cx="949.02" cy="242.34" r="2.5" fill="#ff0000"/>
<circle cx="958.72" cy="226.88" r="2.5" fill="#ff0000"/>
<circle cx="968.43" cy="162.46" r="2.5" fill="#ff0000"/>
<circle cx="978.14" cy="73.55" r="2.5" fill="#ff0000"/>
<circle cx="987.84" cy="185.65" r="2.5" fill="#ff0000"/>
<circle cx="997.55" cy="235.9" r="2.5" fill="#ff0000"/>
<circle cx="1007.25" cy="256.52" r="2.5" fill="#ff0000"/>
<circle cx="1016.96" cy="242.34" r="2.5" fill="#ff0000"/>
<circle cx="1026.67" cy="161.17" r="2.5" fill="#ff0000"/>
<circle cx="1036.37" cy="122.51" r="2.5" fill="#ff0000"/>
<circle cx="1046.08" cy="214" r="2.5" fill="#ff0000"/>
<circle cx="1055.78" cy="216.57" r="2.5" fill="#ff0000"/>
<circle cx="1065.49" cy="232.04" r="2.5" fill="#ff0000"/>
<circle cx="1075.19" cy="216.57" r="2.5" fill="#ff0000"/>
<circle cx="1084.9" cy="170.19" r="2.5" fill="#ff0000"/>
<circle cx="1094.61" cy="141.84" r="2.5" fill="#ff0000"/>
<circle cx="1104.31" cy="244.92" r="2.5" fill="#ff0000"/>
<circle cx="1114.02" cy="216.57" r="2.5" fill="#ff0000"/>
<circle cx="1123.72" cy="255.23" r="2.5" fill="#ff0000"/>
<circle cx="1133.43" cy="208.84" r="2.5" fill="#ff0000"/>
<circle cx="1143.14" cy="195.96" r="2.5" fill="#ff0000"/>
<circle cx="1152.84" cy="220.44" r="2.5" fill="#ff0000"/>
<circle cx="1162.55" cy="241.06" r="2.5" fill="#ff0000"/>
<circle cx="1172.25" cy="266.83" r="2.5" fill="#ff0000"/>
<circle cx="1181.96" cy="238.48" r="2.5" fill="#ff0000"/>
<circle cx="1191.67" cy="230.75" r="2.5" fill="#ff0000"/>
<circle cx="1201.37" cy="217.86" r="2.5" fill="#ff0000"/>
<circle cx="1211.08" cy="242.34" r="2.5" fill="#ff0000"/>
<circle cx="1220.78" cy="203.69" r="2.5" fill="#ff0000"/>
<circle cx="1230.49" cy="243.63" r="2.5" fill="#ff0000"/>
<path d="M919.9 23.3H1265V281H919.9ZM919.9 281v-4.4M919.9 23.3v4.4M988.92 281v-4.4M988.92 23.3v4.4M1057.94 281v-4.4M1057.94 23.3v4.4M1126.96 281v-4.4M1126.96 23.3v4.4M1195.98 281v-4.4M1195.98 23.3v4.4M1265 281v-4.4M1265 23.3v4.4M919.9 281h4.4M919.9 229.46h4.4M919.9 177.92h4.4M919.9 126.38h4.4M919.9 74.84h4.4M919.9 23.3h4.4M1265 281h-4.4M1265 229.46h-4.4M1265 177.92h-4.4M1265 126.38h-4.4M1265 74.84h-4.4M1265 23.3h-4.4" stroke="#262626" stroke-width="1.6" fill="none" stroke-linejoin="miter"/>
<text x="919.9" y="302" font-size="15.6" text-anchor="middle" fill="#262626" stroke="#262626" stroke-width="0.31">0</text>
<text x="988.92" y="302" font-size="15.6" text-anchor="middle" fill="#262626" stroke="#262626" stroke-width="0.31">0.2</text>
<text x="1057.94" y="302" font-size="15.6" text-anchor="middle" fill="#262626" stroke="#262626" stroke-width="0.31">0.4</text>
<text x="1126.96" y="302" font-size="15.6" text-anchor="middle" fill="#262626" stroke="#262626" stroke-width="0.31">0.6</text>
<text x="1195.98" y="302" font-size="15.6" text-anchor="middle" fill="#262626" stroke="#262626" stroke-width="0.31">0.8</text>
<text x="1265" y="302" font-size="15.6" text-anchor="middle" fill="#262626" stroke="#262626" stroke-width="0.31">1</text>
<text x="915.3" y="287.24" font-size="15.6" text-anchor="end" fill="#262626" stroke="#262626" stroke-width="0.31">0</text>
<text x="915.3" y="235.7" font-size="15.6" text-anchor="end" fill="#262626" stroke="#262626" stroke-width="0.31">0.2</text>
<text x="915.3" y="184.16" font-size="15.6" text-anchor="end" fill="#262626" stroke="#262626" stroke-width="0.31">0.4</text>
<text x="915.3" y="132.62" font-size="15.6" text-anchor="end" fill="#262626" stroke="#262626" stroke-width="0.31">0.6</text>
<text x="915.3" y="81.08" font-size="15.6" text-anchor="end" fill="#262626" stroke="#262626" stroke-width="0.31">0.8</text>
<text x="915.3" y="29.54" font-size="15.6" text-anchor="end" fill="#262626" stroke="#262626" stroke-width="0.31">1</text>
<text x="1092.5" y="328.5" font-size="17.0" text-anchor="middle" fill="#262626" stroke="#262626" stroke-width="0.34">frequency (min<tspan dx="1.5" dy="-7" font-size="13.6">-1</tspan><tspan dx="2.4" dy="7">)</tspan></text>
<text transform="translate(885.7 152.5) rotate(-90)" font-size="17.3" text-anchor="middle" fill="#262626" stroke="#262626" stroke-width="0.35">|Amplitude|</text>
<text x="884.5" y="22.5" font-size="17.6" text-anchor="start" fill="#000" stroke="#000" stroke-width="0.35">c</text>
<rect x="1184.4" y="29.2" width="74.1" height="38.1" fill="#fff" stroke="#262626" stroke-width="1.6"/>
<path d="M1187.9 39.32H1210.7" stroke="#0000ff" stroke-width="1.7"/>
<circle cx="1199.3" cy="39.32" r="2.5" fill="#0000ff"/>
<text x="1213.4" y="45.06" font-size="14.1" text-anchor="start" fill="#000" stroke="#000" stroke-width="0.28">fission</text>
<path d="M1187.9 56.87H1210.7" stroke="#ff0000" stroke-width="1.7"/>
<circle cx="1199.3" cy="56.87" r="2.5" fill="#ff0000"/>
<text x="1213.4" y="62.61" font-size="14.1" text-anchor="start" fill="#000" stroke="#000" stroke-width="0.28">fusion</text>
<path d="M1417.08 23.3V281M1486.16 23.3V281M1555.24 23.3V281M1624.32 23.3V281" stroke="#262626" stroke-opacity="0.17" stroke-width="1.5" fill="none"/>
<path d="M1348 229.46H1693.4M1348 177.92H1693.4M1348 126.38H1693.4M1348 74.84H1693.4" stroke="#262626" stroke-opacity="0.17" stroke-width="1.5" fill="none"/>
<polyline points="1348,33.61 1349.56,33.59 1351.12,33.58 1352.69,33.58 1354.25,33.58 1355.81,33.59 1357.37,33.62 1358.93,33.65 1360.5,33.69 1362.06,33.73 1363.62,33.79 1365.18,33.86 1366.75,33.94 1368.31,34.03 1369.87,34.13 1371.43,34.25 1372.99,34.37 1374.56,34.51 1376.12,34.66 1377.68,34.82 1379.24,35 1380.8,35.18 1382.37,35.39 1383.93,35.61 1385.49,35.84 1387.05,36.09 1388.61,36.35 1390.18,36.63 1391.74,36.93 1393.3,37.25 1394.86,37.58 1396.43,37.93 1397.99,38.3 1399.55,38.69 1401.11,39.11 1402.67,39.54 1404.24,40 1405.8,40.5 1407.36,41.02 1408.92,41.58 1410.48,42.18 1412.05,42.82 1413.61,43.5 1415.17,44.24 1416.73,45.02 1418.29,45.86 1419.86,46.75 1421.42,47.69 1422.98,48.68 1424.54,49.7 1426.11,50.76 1427.67,51.85 1429.23,52.98 1430.79,54.12 1432.35,55.29 1433.92,56.47 1435.48,57.67 1437.04,58.87 1438.6,60.08 1440.16,61.28 1441.73,62.48 1443.29,63.68 1444.85,64.85 1446.41,66.01 1447.98,67.15 1449.54,68.26 1451.1,69.33 1452.66,70.38 1454.22,71.38 1455.79,72.34 1457.35,73.27 1458.91,74.16 1460.47,75 1462.03,75.81 1463.6,76.57 1465.16,77.29 1466.72,77.97 1468.28,78.61 1469.84,79.19 1471.41,79.71 1472.97,80.17 1474.53,80.57 1476.09,80.88 1477.66,81.12 1479.22,81.28 1480.78,81.35 1482.34,81.33 1483.9,81.23 1485.47,81.05 1487.03,80.8 1488.59,80.48 1490.15,80.1 1491.71,79.65 1493.28,79.15 1494.84,78.6 1496.4,78.03 1497.96,77.46 1499.52,76.91 1501.09,76.41 1502.65,75.97 1504.21,75.64 1505.77,75.42 1507.34,75.35 1508.9,75.44 1510.46,75.69 1512.02,76.1 1513.58,76.69 1515.15,77.43 1516.71,78.35 1518.27,79.44 1519.83,80.71 1521.39,82.17 1522.96,83.86 1524.52,85.77 1526.08,87.93 1527.64,90.36 1529.2,93.06 1530.77,95.98 1532.33,99.08 1533.89,102.3 1535.45,105.6 1537.02,108.91 1538.58,112.18 1540.14,115.4 1541.7,118.56 1543.26,121.67 1544.83,124.74 1546.39,127.78 1547.95,130.8 1549.51,133.8 1551.07,136.76 1552.64,139.65 1554.2,142.44 1555.76,145.09 1557.32,147.57 1558.88,149.84 1560.45,151.88 1562.01,153.72 1563.57,155.36 1565.13,156.82 1566.7,158.14 1568.26,159.32 1569.82,160.39 1571.38,161.39 1572.94,162.37 1574.51,163.4 1576.07,164.54 1577.63,165.84 1579.19,167.37 1580.75,169.18 1582.32,171.27 1583.88,173.65 1585.44,176.3 1587,179.22 1588.57,182.38 1590.13,185.75 1591.69,189.27 1593.25,192.91 1594.81,196.63 1596.38,200.37 1597.94,204.09 1599.5,207.78 1601.06,211.4 1602.62,214.94 1604.19,218.37 1605.75,221.67 1607.31,224.82 1608.87,227.8 1610.43,230.59 1612,233.18 1613.56,235.54 1615.12,237.65 1616.68,239.51 1618.25,241.09 1619.81,242.39 1621.37,243.42 1622.93,244.17 1624.49,244.67 1626.06,244.92 1627.62,244.93 1629.18,244.73 1630.74,244.36 1632.3,243.84 1633.87,243.22 1635.43,242.52 1636.99,241.78 1638.55,241 1640.11,240.2 1641.68,239.4 1643.24,238.6 1644.8,237.82 1646.36,237.08 1647.93,236.39 1649.49,235.77 1651.05,235.21 1652.61,234.75 1654.17,234.4 1655.74,234.16 1657.3,234.06 1658.86,234.1" fill="none" stroke="#000" stroke-width="1.8" stroke-linejoin="round"/>
<path d="M1348 23.3H1693.4V281H1348ZM1348 281v-4.4M1348 23.3v4.4M1417.08 281v-4.4M1417.08 23.3v4.4M1486.16 281v-4.4M1486.16 23.3v4.4M1555.24 281v-4.4M1555.24 23.3v4.4M1624.32 281v-4.4M1624.32 23.3v4.4M1693.4 281v-4.4M1693.4 23.3v4.4M1348 281h4.4M1348 229.46h4.4M1348 177.92h4.4M1348 126.38h4.4M1348 74.84h4.4M1348 23.3h4.4M1693.4 281h-4.4M1693.4 229.46h-4.4M1693.4 177.92h-4.4M1693.4 126.38h-4.4M1693.4 74.84h-4.4M1693.4 23.3h-4.4" stroke="#262626" stroke-width="1.6" fill="none" stroke-linejoin="miter"/>
<text x="1348" y="302" font-size="15.6" text-anchor="middle" fill="#262626" stroke="#262626" stroke-width="0.31">0</text>
<text x="1417.08" y="302" font-size="15.6" text-anchor="middle" fill="#262626" stroke="#262626" stroke-width="0.31">0.2</text>
<text x="1486.16" y="302" font-size="15.6" text-anchor="middle" fill="#262626" stroke="#262626" stroke-width="0.31">0.4</text>
<text x="1555.24" y="302" font-size="15.6" text-anchor="middle" fill="#262626" stroke="#262626" stroke-width="0.31">0.6</text>
<text x="1624.32" y="302" font-size="15.6" text-anchor="middle" fill="#262626" stroke="#262626" stroke-width="0.31">0.8</text>
<text x="1693.4" y="302" font-size="15.6" text-anchor="middle" fill="#262626" stroke="#262626" stroke-width="0.31">1</text>
<text x="1343.4" y="287.24" font-size="15.6" text-anchor="end" fill="#262626" stroke="#262626" stroke-width="0.31">0</text>
<text x="1343.4" y="235.7" font-size="15.6" text-anchor="end" fill="#262626" stroke="#262626" stroke-width="0.31">0.2</text>
<text x="1343.4" y="184.16" font-size="15.6" text-anchor="end" fill="#262626" stroke="#262626" stroke-width="0.31">0.4</text>
<text x="1343.4" y="132.62" font-size="15.6" text-anchor="end" fill="#262626" stroke="#262626" stroke-width="0.31">0.6</text>
<text x="1343.4" y="81.08" font-size="15.6" text-anchor="end" fill="#262626" stroke="#262626" stroke-width="0.31">0.8</text>
<text x="1343.4" y="29.54" font-size="15.6" text-anchor="end" fill="#262626" stroke="#262626" stroke-width="0.31">1</text>
<text x="1520.5" y="328.5" font-size="17.0" text-anchor="middle" fill="#262626" stroke="#262626" stroke-width="0.34">frequency (min<tspan dx="1.5" dy="-7" font-size="13.6">-1</tspan><tspan dx="2.4" dy="7">)</tspan></text>
<text transform="translate(1314.5 154.5) rotate(-90)" font-size="17.3" text-anchor="middle" fill="#262626" stroke="#262626" stroke-width="0.35">Magnitude-Squared Coherence</text>
<text x="1309" y="22.5" font-size="17.6" text-anchor="start" fill="#000" stroke="#000" stroke-width="0.35">d</text>
<polyline points="68.17,539.47 73.04,568.93 77.91,560.9 82.78,539.47 87.65,552.86 92.53,574.29 97.4,576.96 102.27,547.51 107.14,579.64 112.01,469.85 116.88,550.19 121.75,510.02 126.62,507.34 131.49,555.54 136.36,531.44 141.23,558.22 146.1,587.67 150.97,606.42 155.85,558.22 160.72,528.76 165.59,451.11 170.46,515.37 175.33,576.96 180.2,576.96 185.07,534.12 189.94,590.35 194.81,611.78 199.68,566.25 204.55,536.8 209.43,571.61 214.3,590.35 219.17,432.36 224.04,445.75 228.91,595.71 233.78,619.81 238.65,641.23 243.52,603.74 248.39,609.1 253.26,587.67 258.13,558.22 263,593.03 267.88,609.1 272.75,464.5 277.62,493.95 282.49,512.7 287.36,601.06 292.23,587.67 297.1,593.03 301.97,595.71 306.84,603.74 311.71,568.93 316.58,619.81 321.45,574.29 326.32,405.58 331.2,627.84 336.07,534.12 340.94,568.93 345.81,576.96" fill="none" stroke="#0072bd" stroke-width="1.8" stroke-linejoin="miter"/>
<polyline points="68.17,532.67 73.04,542.52 77.91,523.81 82.78,571.09 87.65,578 92.53,572.08 97.4,511.98 102.27,501.74 107.14,604.58 112.01,483.41 116.88,487.35 121.75,497.81 126.62,584.87 131.49,583.88 136.36,519.46 141.23,545.46 146.1,602.63 150.97,568.72 155.85,573.07 160.72,578.95 165.59,425.68 170.46,476.5 175.33,548.44 180.2,571.09 185.07,629.21 189.94,533.67 194.81,508.42 199.68,586.86 204.55,622.33 209.43,550.39 214.3,582.92 219.17,508.04 224.04,539.55 228.91,532.67 233.78,537.6 238.65,636.12 243.52,557.3 248.39,565.17 253.26,596.71 258.13,645.97 263,588.81 267.88,519.84 272.75,472.57 277.62,434.73 282.49,579.95 287.36,577.01 292.23,612.48 297.1,602.63 301.97,612.48 306.84,586.86 311.71,539.55 316.58,582.92 321.45,569.1 326.32,494.26 331.2,571.09 336.07,567.15 340.94,574.03 345.81,610.49" fill="none" stroke="#d95319" stroke-width="1.8" stroke-linejoin="miter"/>
<polyline points="68.17,570.09 73.04,567.73 77.91,570.09 82.78,533.67 87.65,543.52 92.53,475.51 97.4,573.07 102.27,527.75 107.14,513.96 112.01,473.56 116.88,506.06 121.75,591.78 126.62,586.86 131.49,595.72 136.36,541.53 141.23,594.72 146.1,559.25 150.97,592.78 155.85,598.66 160.72,578.95 165.59,468.63 170.46,432.78 175.33,577.01 180.2,578.95 185.07,526.75 189.94,569.1 194.81,611.49 199.68,575.02 204.55,569.1 209.43,541.53 214.3,531.68 219.17,466.65 224.04,484.41 228.91,590.79 233.78,605.57 238.65,603.58 243.52,557.3 248.39,586.86 253.26,592.78 258.13,604.58 263,618.36 267.88,613.43 272.75,490.29 277.62,488.34 282.49,575.02 287.36,575.02 292.23,633.14 297.1,612.48 301.97,592.78 306.84,531.68 311.71,468.63 316.58,567.15 321.45,578.95 326.32,460.77 331.2,543.52 336.07,538.59 340.94,555.32 345.81,548.44" fill="none" stroke="#edb120" stroke-width="1.8" stroke-linejoin="miter"/>
<polyline points="68.17,530.69 73.04,516.9 77.91,508.04 82.78,505.06 87.65,533.67 92.53,554.32 97.4,561.24 102.27,567.15 107.14,592.78 112.01,530.69 116.88,517.89 121.75,583.88 126.62,599.65 131.49,593.73 136.36,582.92 141.23,622.33 146.1,557.3 150.97,474.94 155.85,533.67 160.72,617.41 165.59,492.65 170.46,502.12 175.33,581.93 180.2,612.48 185.07,584.87 189.94,522.82 194.81,539.55 199.68,567.15 204.55,602.63 209.43,640.05 214.3,575.02 219.17,515.91 224.04,521.83 228.91,596.71 233.78,570.09 238.65,607.55 243.52,605.57 248.39,596.71 253.26,562.23 258.13,598.66 263,499.18 267.88,620.35 272.75,482.42 277.62,486.35 282.49,569.1 287.36,516.9 292.23,618.36 297.1,544.47 301.97,590.79 306.84,600.64 311.71,607.55 316.58,588.81 321.45,615.42 326.32,437.09 331.2,508.04 336.07,569.1 340.94,524.77 345.81,587.85" fill="none" stroke="#7e2f8e" stroke-width="1.8" stroke-linejoin="miter"/>
<path d="M63.3 377.6H414V644.9H63.3ZM63.3 644.9v-4.4M63.3 377.6v4.4M150.97 644.9v-4.4M150.97 377.6v4.4M238.65 644.9v-4.4M238.65 377.6v4.4M326.32 644.9v-4.4M326.32 377.6v4.4M414 644.9v-4.4M414 377.6v4.4M63.3 644.9h4.4M63.3 606.71h4.4M63.3 568.53h4.4M63.3 530.34h4.4M63.3 492.16h4.4M63.3 453.97h4.4M63.3 415.79h4.4M63.3 377.6h4.4M414 644.9h-4.4M414 606.71h-4.4M414 568.53h-4.4M414 530.34h-4.4M414 492.16h-4.4M414 453.97h-4.4M414 415.79h-4.4M414 377.6h-4.4" stroke="#262626" stroke-width="1.6" fill="none" stroke-linejoin="miter"/>
<text x="63.3" y="667.3" font-size="16.0" text-anchor="middle" fill="#262626" stroke="#262626" stroke-width="0.32">0</text>
<text x="150.97" y="667.3" font-size="16.0" text-anchor="middle" fill="#262626" stroke="#262626" stroke-width="0.32">10</text>
<text x="238.65" y="667.3" font-size="16.0" text-anchor="middle" fill="#262626" stroke="#262626" stroke-width="0.32">20</text>
<text x="326.32" y="667.3" font-size="16.0" text-anchor="middle" fill="#262626" stroke="#262626" stroke-width="0.32">30</text>
<text x="414" y="667.3" font-size="16.0" text-anchor="middle" fill="#262626" stroke="#262626" stroke-width="0.32">40</text>
<text x="57.3" y="650.66" font-size="16.0" text-anchor="end" fill="#262626" stroke="#262626" stroke-width="0.32">-2</text>
<text x="57.3" y="612.47" font-size="16.0" text-anchor="end" fill="#262626" stroke="#262626" stroke-width="0.32">-1</text>
<text x="57.3" y="574.29" font-size="16.0" text-anchor="end" fill="#262626" stroke="#262626" stroke-width="0.32">0</text>
<text x="57.3" y="536.1" font-size="16.0" text-anchor="end" fill="#262626" stroke="#262626" stroke-width="0.32">1</text>
<text x="57.3" y="497.92" font-size="16.0" text-anchor="end" fill="#262626" stroke="#262626" stroke-width="0.32">2</text>
<text x="57.3" y="459.73" font-size="16.0" text-anchor="end" fill="#262626" stroke="#262626" stroke-width="0.32">3</text>
<text x="57.3" y="421.55" font-size="16.0" text-anchor="end" fill="#262626" stroke="#262626" stroke-width="0.32">4</text>
<text x="57.3" y="383.36" font-size="16.0" text-anchor="end" fill="#262626" stroke="#262626" stroke-width="0.32">5</text>
<text x="238.65" y="687.6" font-size="17.7" text-anchor="middle" fill="#262626" stroke="#262626" stroke-width="0.35">time (mins)</text>
<text transform="translate(36 511.25) rotate(-90)" font-size="18.0" text-anchor="middle" fill="#262626" font-style="italic" stroke="#262626" stroke-width="0.36">fission</text>
<text x="16" y="389" font-size="18.4" text-anchor="start" fill="#000" stroke="#000" stroke-width="0.37">e</text>
<polyline points="488.84,548.96 493.77,581.32 498.71,557.05 503.65,573.23 508.59,505.82 513.52,554.36 518.46,559.75 523.4,584.02 528.34,557.05 533.27,535.48 538.21,449.2 543.15,562.44 548.09,489.64 553.02,584.02 557.96,516.61 562.9,516.61 567.84,570.53 572.77,608.28 577.71,578.62 582.65,578.62 587.59,451.9 592.52,438.41 597.46,592.1 602.4,581.32 607.34,530.09 612.27,594.8 617.21,592.1 622.15,589.41 627.09,562.44 632.02,567.84 636.96,551.66 641.9,489.64 646.84,400.67 651.77,578.62 656.71,600.19 661.65,610.98 666.59,610.98 671.52,616.37 676.46,592.1 681.4,557.05 686.34,594.8 691.27,592.1 696.21,546.27 701.15,424.93 706.09,540.87 711.02,592.1 715.96,600.19 720.9,594.8 725.84,600.19 730.77,613.67 735.71,557.05 740.65,616.37 745.59,584.02 750.52,454.59 755.46,548.96 760.4,602.89 765.34,554.36 770.27,508.52" fill="none" stroke="#0072bd" stroke-width="1.8" stroke-linejoin="miter"/>
<polyline points="488.84,615.92 493.77,568.8 498.71,536.41 503.65,561.94 508.59,571.73 513.52,620.81 518.46,515.78 523.4,547.21 528.34,572.73 533.27,505.95 538.21,488.29 543.15,543.28 548.09,595.29 553.02,592.36 557.96,559.97 562.9,549.17 567.84,549.17 572.77,611.98 577.71,605.12 582.65,558.97 587.59,451.39 592.52,462.77 597.46,642.98 602.4,549.17 607.34,582.53 612.27,594.32 617.21,522.65 622.15,600.19 627.09,620.81 632.02,574.7 636.96,547.21 641.9,496.16 646.84,545.24 651.77,551.14 656.71,531.48 661.65,633.58 666.59,592.36 671.52,566.83 676.46,602.15 681.4,613.95 686.34,613.95 691.27,547.21 696.21,469.67 701.15,469.67 706.09,578.59 711.02,576.63 715.96,602.15 720.9,624.75 725.84,616.88 730.77,622.78 735.71,543.28 740.65,546.21 745.59,607.09 750.52,472.6 755.46,626.71 760.4,543.28 765.34,593.32 770.27,595.87" fill="none" stroke="#d95319" stroke-width="1.8" stroke-linejoin="miter"/>
<polyline points="488.84,551.14 493.77,567.8 498.71,570.77 503.65,535.41 508.59,545.24 513.52,504.02 518.46,583.53 523.4,493.23 528.34,537.38 533.27,486.33 538.21,484.36 543.15,566.83 548.09,609.05 553.02,578.59 557.96,559.97 562.9,596.29 567.84,568.8 572.77,609.05 577.71,581.56 582.65,592.36 587.59,507.92 592.52,439.21 597.46,547.21 602.4,623.74 607.34,521.68 612.27,566.83 617.21,572.73 622.15,608.05 627.09,578.59 632.02,586.46 636.96,547.21 641.9,451.01 646.84,474.57 651.77,578.59 656.71,592.36 661.65,625.71 666.59,546.21 671.52,580.56 676.46,614.91 681.4,586.46 686.34,623.74 691.27,613.95 696.21,515.78 701.15,480.47 706.09,599.22 711.02,606.08 715.96,555.04 720.9,601.19 725.84,616.88 730.77,596.29 735.71,510.89 740.65,541.31 745.59,586.46 750.52,426.45 755.46,551.14 760.4,543.28 765.34,528.55 770.27,588.04" fill="none" stroke="#edb120" stroke-width="1.8" stroke-linejoin="miter"/>
<polyline points="488.84,524.61 493.77,555.04 498.71,490.64 503.65,541.31 508.59,551.53 513.52,549.56 518.46,555.04 523.4,539.34 528.34,600.19 533.27,518.71 538.21,528.55 543.15,597.26 548.09,592.36 553.02,617.88 557.96,592.36 562.9,603.15 567.84,568.8 572.77,488.29 577.71,541.31 582.65,598.26 587.59,543.28 592.52,461.8 597.46,625.71 602.4,609.05 607.34,599.22 612.27,527.58 617.21,496.16 622.15,584.49 627.09,611.02 632.02,607.09 636.96,635.54 641.9,500.09 646.84,498.51 651.77,583.53 656.71,607.09 661.65,568.8 666.59,586.46 671.52,611.02 676.46,593.32 681.4,563.9 686.34,526.58 691.27,597.26 696.21,488.29 701.15,474.57 706.09,592.36 711.02,536.41 715.96,598.26 720.9,546.21 725.84,584.49 730.77,582.53 735.71,612.95 740.65,625.71 745.59,590.39 750.52,486.33 755.46,508.92 760.4,586.46 765.34,534.45 770.27,521.68" fill="none" stroke="#7e2f8e" stroke-width="1.8" stroke-linejoin="miter"/>
<path d="M483.9 376.4H839.4V646.3H483.9ZM483.9 646.3v-4.4M483.9 376.4v4.4M572.77 646.3v-4.4M572.77 376.4v4.4M661.65 646.3v-4.4M661.65 376.4v4.4M750.52 646.3v-4.4M750.52 376.4v4.4M839.4 646.3v-4.4M839.4 376.4v4.4M483.9 646.3h4.4M483.9 607.74h4.4M483.9 569.19h4.4M483.9 530.63h4.4M483.9 492.07h4.4M483.9 453.51h4.4M483.9 414.96h4.4M483.9 376.4h4.4M839.4 646.3h-4.4M839.4 607.74h-4.4M839.4 569.19h-4.4M839.4 530.63h-4.4M839.4 492.07h-4.4M839.4 453.51h-4.4M839.4 414.96h-4.4M839.4 376.4h-4.4" stroke="#262626" stroke-width="1.6" fill="none" stroke-linejoin="miter"/>
<text x="483.9" y="668.7" font-size="16.0" text-anchor="middle" fill="#262626" stroke="#262626" stroke-width="0.32">0</text>
<text x="572.77" y="668.7" font-size="16.0" text-anchor="middle" fill="#262626" stroke="#262626" stroke-width="0.32">10</text>
<text x="661.65" y="668.7" font-size="16.0" text-anchor="middle" fill="#262626" stroke="#262626" stroke-width="0.32">20</text>
<text x="750.52" y="668.7" font-size="16.0" text-anchor="middle" fill="#262626" stroke="#262626" stroke-width="0.32">30</text>
<text x="839.4" y="668.7" font-size="16.0" text-anchor="middle" fill="#262626" stroke="#262626" stroke-width="0.32">40</text>
<text x="477.9" y="652.06" font-size="16.0" text-anchor="end" fill="#262626" stroke="#262626" stroke-width="0.32">-2</text>
<text x="477.9" y="613.5" font-size="16.0" text-anchor="end" fill="#262626" stroke="#262626" stroke-width="0.32">-1</text>
<text x="477.9" y="574.95" font-size="16.0" text-anchor="end" fill="#262626" stroke="#262626" stroke-width="0.32">0</text>
<text x="477.9" y="536.39" font-size="16.0" text-anchor="end" fill="#262626" stroke="#262626" stroke-width="0.32">1</text>
<text x="477.9" y="497.83" font-size="16.0" text-anchor="end" fill="#262626" stroke="#262626" stroke-width="0.32">2</text>
<text x="477.9" y="459.27" font-size="16.0" text-anchor="end" fill="#262626" stroke="#262626" stroke-width="0.32">3</text>
<text x="477.9" y="420.72" font-size="16.0" text-anchor="end" fill="#262626" stroke="#262626" stroke-width="0.32">4</text>
<text x="477.9" y="382.16" font-size="16.0" text-anchor="end" fill="#262626" stroke="#262626" stroke-width="0.32">5</text>
<text x="661.65" y="689" font-size="17.7" text-anchor="middle" fill="#262626" stroke="#262626" stroke-width="0.35">time (mins)</text>
<text transform="translate(456 511.35) rotate(-90)" font-size="18.0" text-anchor="middle" fill="#262626" font-style="italic" stroke="#262626" stroke-width="0.36">fusion</text>
<text x="438" y="388" font-size="18.4" text-anchor="start" fill="#000" stroke="#000" stroke-width="0.37">f</text>
<polyline points="926.55,555.17 931.91,556.16 937.26,541.78 942.62,570.89 947.97,557.14 953.33,501.67 958.68,533.53 964.04,548.3 969.39,542.38 974.75,451.93 980.1,432.27 985.45,529.61 990.81,488.31 996.16,536.49 1001.52,545.34 1006.87,507.98 1012.23,568.53 1017.58,543.36 1022.94,515.84 1028.29,507.98 1033.65,513.86 1039,488.31 1044.35,564.02 1049.71,582.31 1055.06,539.42 1060.42,499.13 1065.77,527.64 1071.13,547.31 1076.48,557.14 1081.84,527.64 1087.19,507.98 1092.55,476.5 1097.9,472.59 1103.25,501.1 1108.61,490.28 1113.96,515.84 1119.32,490.28 1124.67,483.38 1130.03,496.17 1135.38,525.67 1140.74,532.54 1146.09,521.72 1151.45,437.17 1156.8,429.7 1162.15,547.31 1167.51,515.84 1172.86,510.93 1178.22,574.84 1183.57,525.67 1188.93,535.5 1194.28,496.17 1199.64,555.17 1204.99,548.3 1210.35,484.36 1215.7,553.2 1221.05,583.68 1226.41,537.48 1231.76,510.34" fill="none" stroke="#0072bd" stroke-width="1.8" stroke-linejoin="miter"/>
<polyline points="926.55,519.78 931.91,484.78 937.26,500.11 942.62,453.91 947.97,507.98 953.33,527.64 958.68,484.78 964.04,611.21 969.39,550.24 974.75,533.53 980.1,530.57 985.45,533.53 990.81,521.72 996.16,511.89 1001.52,490.28 1006.87,478.09 1012.23,517.81 1017.58,481.82 1022.94,519.78 1028.29,506 1033.65,540.4 1039,523.7 1044.35,496.17 1049.71,565.99 1055.06,555.17 1060.42,397.86 1065.77,499.13 1071.13,499.13 1076.48,551.22 1081.84,537.48 1087.19,551.22 1092.55,544.35 1097.9,530.57 1103.25,553.2 1108.61,628.91 1113.96,533.53 1119.32,520.74 1124.67,551.22 1130.03,496.17 1135.38,449.96 1140.74,496.17 1146.09,527.64 1151.45,436.21 1156.8,531.56 1162.15,600.39 1167.51,552.21" fill="none" stroke="#d95319" stroke-width="1.8" stroke-linejoin="miter"/>
<polyline points="926.55,521.72 931.91,547.31 937.26,527.64 942.62,555.17 947.97,576.78 953.33,504.03 958.68,527.64 964.04,469.63 969.39,521.72 974.75,507.98 980.1,488.31 985.45,533.53 990.81,466.67 996.16,525.67 1001.52,497.16 1006.87,548.3 1012.23,535.5 1017.58,553.2 1022.94,523.7 1028.29,447.99 1033.65,447.99 1039,419.09 1044.35,511.89 1049.71,543.36 1055.06,493.21 1060.42,569.91 1065.77,565 1071.13,529.61 1076.48,571.88 1081.84,515.84 1087.19,509.95 1092.55,446.02 1097.9,480.45 1103.25,533.53 1108.61,495.18 1113.96,527.64 1119.32,545.34 1124.67,506 1130.03,492.25 1135.38,543.36 1140.74,571.88 1146.09,531.56 1151.45,443.09 1156.8,439.14 1162.15,547.31 1167.51,523.7 1172.86,508.96 1178.22,537.48 1183.57,504.03 1188.93,507.98 1194.28,484.78 1199.64,553.2 1204.99,555.17 1210.35,498.14 1215.7,555.17 1221.05,543.36 1226.41,582.7 1231.76,527.64" fill="none" stroke="#edb120" stroke-width="1.8" stroke-linejoin="miter"/>
<polyline points="926.55,594.5 931.91,551.22 937.26,501.1 942.62,538.46 947.97,502.06 953.33,486.34 958.68,527.64 964.04,507.98 969.39,480.45 974.75,457.82 980.1,519.78 985.45,541.39 990.81,504.03 996.16,537.48 1001.52,462.36 1006.87,480.45 1012.23,514.85 1017.58,486.34 1022.94,507.98 1028.29,523.7 1033.65,438.15 1039,535.5 1044.35,534.52 1049.71,559.09 1055.06,515.84 1060.42,527.64 1065.77,584.67 1071.13,532.54 1076.48,559.09 1081.84,517.81 1087.19,556.16 1092.55,413.97 1097.9,523.7 1103.25,555.17 1108.61,563.03 1113.96,527.64 1119.32,486.34 1124.67,514.85 1130.03,489.29 1135.38,541.39 1140.74,558.1 1146.09,533.53 1151.45,484.36 1156.8,488.31 1162.15,543.36 1167.51,569.91 1172.86,567.93 1178.22,572.86 1183.57,546.32 1188.93,588.59 1194.28,551.22 1199.64,555.17 1204.99,558.1 1210.35,459.79 1215.7,506 1221.05,510.34 1226.41,503.04 1231.76,563.03" fill="none" stroke="#7e2f8e" stroke-width="1.8" stroke-linejoin="miter"/>
<polyline points="926.55,581.71 931.91,537.48 937.26,519.78 942.62,501.1 947.97,531.56 953.33,537.48 958.68,527.64 964.04,521.72 969.39,464.31 974.75,482.42 980.1,490.28 985.45,543.36 990.81,474.53 996.16,535.5 1001.52,506.99 1006.87,543.36 1012.23,527.64 1017.58,547.31 1022.94,515.84 1028.29,554.18 1033.65,527.64 1039,444.07 1044.35,515.84 1049.71,534.52 1055.06,533.53 1060.42,480.45 1065.77,525.67 1071.13,482.42 1076.48,470.61 1081.84,565.99 1087.19,482.42 1092.55,459.79 1097.9,454.89 1103.25,537.48 1108.61,516.82 1113.96,557.14 1119.32,507.98 1124.67,569.91 1130.03,496.17 1135.38,539.42 1140.74,496.17 1146.09,494.2 1151.45,468.64 1156.8,438.15 1162.15,559.09 1167.51,516.82 1172.86,525.67 1178.22,548.3 1183.57,582.7 1188.93,608.64 1194.28,530.57 1199.64,565.99 1204.99,555.17 1210.35,472.59 1215.7,529.61 1221.05,546.32 1226.41,537.48 1231.76,537.48" fill="none" stroke="#77ac30" stroke-width="1.8" stroke-linejoin="miter"/>
<polyline points="926.55,512.88 931.91,543.36 937.26,599.41 942.62,576.78 947.97,527.64 953.33,557.14 958.68,497.16 964.04,522.71 969.39,527.64 974.75,519.78 980.1,467.06 985.45,566.98 990.81,481.43 996.16,566.98 1001.52,565 1006.87,533.53 1012.23,525.67 1017.58,529.61 1022.94,511.89 1028.29,427.34 1033.65,517.81 1039,488.31 1044.35,527.64 1049.71,551.22 1055.06,569.91 1060.42,557.14 1065.77,535.5 1071.13,497.16 1076.48,557.14 1081.84,527.64 1087.19,511.89 1092.55,450.95 1097.9,445.06 1103.25,527.64 1108.61,554.18 1113.96,571.88 1119.32,488.31 1124.67,594.5 1130.03,594.5 1135.38,515.84 1140.74,472.17 1146.09,489.29 1151.45,482.42 1156.8,447 1162.15,565 1167.51,555.17 1172.86,560.07 1178.22,527.64 1183.57,524.68 1188.93,541.39 1194.28,525.67 1199.64,506.99 1204.99,502.06 1210.35,467.66 1215.7,521.72 1221.05,539.42 1226.41,507.98 1231.76,544.35" fill="none" stroke="#4dbeee" stroke-width="1.8" stroke-linejoin="miter"/>
<path d="M921.2 377.6H1274.6V646.6H921.2ZM921.2 646.6v-4.4M921.2 377.6v4.4M1009.55 646.6v-4.4M1009.55 377.6v4.4M1097.9 646.6v-4.4M1097.9 377.6v4.4M1186.25 646.6v-4.4M1186.25 377.6v4.4M1274.6 646.6v-4.4M1274.6 377.6v4.4M921.2 646.6h4.4M921.2 586.82h4.4M921.2 527.04h4.4M921.2 467.27h4.4M921.2 407.49h4.4M1274.6 646.6h-4.4M1274.6 586.82h-4.4M1274.6 527.04h-4.4M1274.6 467.27h-4.4M1274.6 407.49h-4.4" stroke="#262626" stroke-width="1.6" fill="none" stroke-linejoin="miter"/>
<text x="921.2" y="669" font-size="16.0" text-anchor="middle" fill="#262626" stroke="#262626" stroke-width="0.32">0</text>
<text x="1009.55" y="669" font-size="16.0" text-anchor="middle" fill="#262626" stroke="#262626" stroke-width="0.32">10</text>
<text x="1097.9" y="669" font-size="16.0" text-anchor="middle" fill="#262626" stroke="#262626" stroke-width="0.32">20</text>
<text x="1186.25" y="669" font-size="16.0" text-anchor="middle" fill="#262626" stroke="#262626" stroke-width="0.32">30</text>
<text x="1274.6" y="669" font-size="16.0" text-anchor="middle" fill="#262626" stroke="#262626" stroke-width="0.32">40</text>
<text x="915.2" y="652.36" font-size="16.0" text-anchor="end" fill="#262626" stroke="#262626" stroke-width="0.32">-4</text>
<text x="915.2" y="592.58" font-size="16.0" text-anchor="end" fill="#262626" stroke="#262626" stroke-width="0.32">-2</text>
<text x="915.2" y="532.8" font-size="16.0" text-anchor="end" fill="#262626" stroke="#262626" stroke-width="0.32">0</text>
<text x="915.2" y="473.03" font-size="16.0" text-anchor="end" fill="#262626" stroke="#262626" stroke-width="0.32">2</text>
<text x="915.2" y="413.25" font-size="16.0" text-anchor="end" fill="#262626" stroke="#262626" stroke-width="0.32">4</text>
<text x="1097.9" y="689.3" font-size="17.7" text-anchor="middle" fill="#262626" stroke="#262626" stroke-width="0.35">time (mins)</text>
<text transform="translate(894.5 512.1) rotate(-90)" font-size="18.0" text-anchor="middle" fill="#262626" font-style="italic" stroke="#262626" stroke-width="0.36">fission</text>
<text x="883" y="388" font-size="18.4" text-anchor="start" fill="#000" stroke="#000" stroke-width="0.37">g</text>
<polyline points="1355.12,545.38 1360.44,568.95 1365.75,610.23 1371.07,506.06 1376.39,571.92 1381.71,520.8 1387.03,528.68 1392.35,523.74 1397.66,539.46 1402.98,461.83 1408.3,466.73 1413.62,543.42 1418.94,503.11 1424.25,508.02 1429.57,519.82 1434.89,533.58 1440.21,541.43 1445.53,547.34 1450.85,508.02 1456.16,545.38 1461.48,425.45 1466.8,492.3 1472.12,515.89 1477.44,565.03 1482.75,547.34 1488.07,530.64 1493.39,539.46 1498.71,488.37 1504.03,527.69 1509.35,541.43 1514.66,566.01 1519.98,449.05 1525.3,482.46 1530.62,497.2 1535.94,505.08 1541.25,472.65 1546.57,529.66 1551.89,496.22 1557.21,515.89 1562.53,523.74 1567.85,553.23 1573.16,519.82 1578.48,468.7 1583.8,427.83 1589.12,470.69 1594.44,537.5 1599.75,510.96 1605.07,527.69 1610.39,555.19 1615.71,555.19 1621.03,523.74 1626.35,490.72 1631.66,527.69 1636.98,472.65 1642.3,547.34 1647.62,566.99 1652.94,555.19 1658.25,523.74" fill="none" stroke="#0072bd" stroke-width="1.8" stroke-linejoin="miter"/>
<polyline points="1355.12,519.82 1360.44,470.69 1365.75,509.98 1371.07,511.94 1376.39,516.88 1381.71,534.56 1387.03,490.72 1392.35,549.3 1397.66,515.89 1402.98,546.36 1408.3,537.5 1413.62,455.94 1418.94,508.02 1424.25,540.45 1429.57,518.84 1434.89,490.72 1440.21,504.09 1445.53,464.77 1450.85,537.5 1456.16,519.82 1461.48,547.34 1466.8,589.61 1472.12,527.69 1477.44,511.94 1482.75,547.34 1488.07,492.3 1493.39,441.59 1498.71,488.37 1504.03,531.62 1509.35,547.34 1514.66,565.03 1519.98,607.29 1525.3,525.7 1530.62,547.34 1535.94,595.49 1541.25,541.43 1546.57,571.92 1551.89,453.95 1557.21,572.9 1562.53,503.11 1567.85,539.46 1573.16,560.12 1578.48,480.5 1583.8,549.3 1589.12,544.4 1594.44,615.17" fill="none" stroke="#d95319" stroke-width="1.8" stroke-linejoin="miter"/>
<polyline points="1355.12,519.82 1360.44,541.43 1365.75,511.94 1371.07,515.89 1376.39,562.08 1381.71,565.41 1387.03,565.41 1392.35,519.82 1397.66,496.22 1402.98,464.77 1408.3,527.69 1413.62,547.34 1418.94,517.86 1424.25,480.5 1429.57,517.86 1434.89,563.06 1440.21,547.34 1445.53,541.43 1450.85,537.5 1456.16,508.02 1461.48,396.38 1466.8,490.33 1472.12,442.75 1477.44,531.62 1482.75,563.06 1488.07,547.34 1493.39,578.79 1498.71,527.69 1504.03,519.82 1509.35,528.68 1514.66,519.82 1519.98,462.81 1525.3,488.37 1530.62,576.83 1535.94,514.91 1541.25,516.88 1546.57,547.34 1551.89,506.06 1557.21,515.89 1562.53,508.02 1567.85,542.44 1573.16,508.02 1578.48,468.7 1583.8,464.77 1589.12,519.82 1594.44,501.15 1599.75,557.18 1605.07,521.78 1610.39,543.42 1615.71,571.92 1621.03,477.55 1626.35,519.82 1631.66,566.99 1636.98,496.22 1642.3,569.93 1647.62,560.12 1652.94,576.83 1658.25,560.72" fill="none" stroke="#edb120" stroke-width="1.8" stroke-linejoin="miter"/>
<polyline points="1355.12,487.39 1360.44,525.7 1365.75,504.09 1371.07,562.08 1376.39,502.52 1381.71,505.08 1387.03,527.69 1392.35,521.78 1397.66,513.93 1402.98,478.92 1408.3,484.42 1413.62,543.42 1418.94,508.02 1424.25,482.46 1429.57,494.26 1434.89,467.71 1440.21,502.13 1445.53,496.22 1450.85,533.58 1456.16,495.24 1461.48,492.3 1466.8,447.47 1472.12,537.89 1477.44,536.52 1482.75,531.62 1488.07,500.17 1493.39,594.51 1498.71,556.2 1504.03,540.45 1509.35,540.45 1514.66,544.4 1519.98,515.89 1525.3,432.35 1530.62,566.99 1535.94,562.08 1541.25,529.66 1546.57,517.86 1551.89,477.55 1557.21,517.86 1562.53,547.34 1567.85,535.54 1573.16,539.46 1578.48,496.22 1583.8,456.93 1589.12,572.9 1594.44,545.38 1599.75,564.04 1605.07,556.2 1610.39,553.23 1615.71,564.04 1621.03,526.68 1626.35,537.5 1631.66,577.81 1636.98,458.89 1642.3,511.94 1647.62,491.31 1652.94,562.08 1658.25,549.3" fill="none" stroke="#7e2f8e" stroke-width="1.8" stroke-linejoin="miter"/>
<polyline points="1355.12,525.7 1360.44,574.86 1365.75,496.22 1371.07,508.02 1376.39,558.16 1381.71,556.2 1387.03,518.84 1392.35,517.86 1397.66,504.09 1402.98,443.55 1408.3,508.02 1413.62,561.1 1418.94,543.42 1424.25,453.39 1429.57,506.06 1434.89,531.62 1440.21,553.23 1445.53,525.7 1450.85,572.9 1456.16,525.7 1461.48,504.09 1466.8,456.93 1472.12,488.37 1477.44,566.99 1482.75,527.69 1488.07,521.78 1493.39,527.69 1498.71,459.48 1504.03,459.48 1509.35,541.43 1514.66,556.2 1519.98,445.13 1525.3,438.23 1530.62,543.42 1535.94,523.74 1541.25,559.14 1546.57,519.82 1551.89,525.7 1557.21,539.46 1562.53,529.66 1567.85,519.82 1573.16,488.37 1578.48,439.21 1583.8,477.55 1589.12,471.67 1594.44,544.4 1599.75,529.66 1605.07,531.62 1610.39,568.95 1615.71,564.04 1621.03,588.62 1626.35,524.72 1631.66,570.94 1636.98,470.69 1642.3,535.54 1647.62,547.34 1652.94,529.66 1658.25,544.4" fill="none" stroke="#77ac30" stroke-width="1.8" stroke-linejoin="miter"/>
<polyline points="1355.12,574.86 1360.44,509.59 1365.75,519.82 1371.07,596.47 1376.39,523.74 1381.71,579.77 1387.03,535.54 1392.35,505.08 1397.66,523.74 1402.98,481.48 1408.3,486.41 1413.62,551.26 1418.94,579.77 1424.25,500.17 1429.57,541.43 1434.89,582.71 1440.21,505.08 1445.53,511.94 1450.85,497.2 1456.16,504.09 1461.48,448.07 1466.8,535.54 1472.12,513.93 1477.44,520.8 1482.75,523.74 1488.07,547.34 1493.39,584.7 1498.71,547.34 1504.03,511.94 1509.35,547.34 1514.66,535.54 1519.98,438.82 1525.3,464.77 1530.62,547.34 1535.94,518.84 1541.25,531.62 1546.57,563.06 1551.89,505.08 1557.21,586.66 1562.53,568.95 1567.85,464.77 1573.16,527.69 1578.48,458.89 1583.8,445.13 1589.12,523.74 1594.44,582.71 1599.75,566.99 1605.07,502.13 1610.39,523.74 1615.71,552.25 1621.03,522.76 1626.35,530.64 1631.66,526.68 1636.98,438.82 1642.3,539.46 1647.62,556.2 1652.94,525.7 1658.25,539.46" fill="none" stroke="#4dbeee" stroke-width="1.8" stroke-linejoin="miter"/>
<path d="M1349.8 377.3H1700.8V644.8H1349.8ZM1349.8 644.8v-4.4M1349.8 377.3v4.4M1437.55 644.8v-4.4M1437.55 377.3v4.4M1525.3 644.8v-4.4M1525.3 377.3v4.4M1613.05 644.8v-4.4M1613.05 377.3v4.4M1700.8 644.8v-4.4M1700.8 377.3v4.4M1349.8 644.8h4.4M1349.8 585.36h4.4M1349.8 525.91h4.4M1349.8 466.47h4.4M1349.8 407.02h4.4M1700.8 644.8h-4.4M1700.8 585.36h-4.4M1700.8 525.91h-4.4M1700.8 466.47h-4.4M1700.8 407.02h-4.4" stroke="#262626" stroke-width="1.6" fill="none" stroke-linejoin="miter"/>
<text x="1349.8" y="667.2" font-size="16.0" text-anchor="middle" fill="#262626" stroke="#262626" stroke-width="0.32">0</text>
<text x="1437.55" y="667.2" font-size="16.0" text-anchor="middle" fill="#262626" stroke="#262626" stroke-width="0.32">10</text>
<text x="1525.3" y="667.2" font-size="16.0" text-anchor="middle" fill="#262626" stroke="#262626" stroke-width="0.32">20</text>
<text x="1613.05" y="667.2" font-size="16.0" text-anchor="middle" fill="#262626" stroke="#262626" stroke-width="0.32">30</text>
<text x="1700.8" y="667.2" font-size="16.0" text-anchor="middle" fill="#262626" stroke="#262626" stroke-width="0.32">40</text>
<text x="1343.8" y="650.56" font-size="16.0" text-anchor="end" fill="#262626" stroke="#262626" stroke-width="0.32">-4</text>
<text x="1343.8" y="591.12" font-size="16.0" text-anchor="end" fill="#262626" stroke="#262626" stroke-width="0.32">-2</text>
<text x="1343.8" y="531.67" font-size="16.0" text-anchor="end" fill="#262626" stroke="#262626" stroke-width="0.32">0</text>
<text x="1343.8" y="472.23" font-size="16.0" text-anchor="end" fill="#262626" stroke="#262626" stroke-width="0.32">2</text>
<text x="1343.8" y="412.78" font-size="16.0" text-anchor="end" fill="#262626" stroke="#262626" stroke-width="0.32">4</text>
<text x="1525.3" y="687.5" font-size="17.7" text-anchor="middle" fill="#262626" stroke="#262626" stroke-width="0.35">time (mins)</text>
<text transform="translate(1323 511.05) rotate(-90)" font-size="18.0" text-anchor="middle" fill="#262626" font-style="italic" stroke="#262626" stroke-width="0.36">fusion</text>
<text x="1310" y="388" font-size="18.4" text-anchor="start" fill="#000" stroke="#000" stroke-width="0.37">h</text>
<path d="M135.64 703.6V975.4M208.38 703.6V975.4M281.12 703.6V975.4M353.86 703.6V975.4" stroke="#262626" stroke-opacity="0.17" stroke-width="1.5" fill="none"/>
<path d="M62.9 921.04H426.6M62.9 866.68H426.6M62.9 812.32H426.6M62.9 757.96H426.6" stroke="#262626" stroke-opacity="0.17" stroke-width="1.5" fill="none"/>
<polyline points="62.9,903.37 73.13,881.63 83.36,942.78 93.59,950.94 103.82,910.17 114.05,866.68 124.27,740.29 134.5,908.81 144.73,923.76 154.96,935.17 165.19,919.68 175.42,843.58 185.65,858.53 195.88,899.3 206.11,945.5 216.34,915.6 226.57,877.55 236.79,876.19 247.02,846.3 257.25,931.91 267.48,925.12 277.71,932.46 287.94,895.22 298.17,882.99 308.4,892.5 318.63,904.73 328.86,925.12 339.08,941.42 349.31,903.37 359.54,865.32 369.77,941.42 380,915.6 390.23,970.78" fill="none" stroke="#0072bd" stroke-width="1.8" stroke-linejoin="miter"/>
<polyline points="62.9,893.86 73.13,881.9 83.36,922.4 93.59,949.85 103.82,928.11 114.05,909.62 124.27,754.15 134.5,914.52 144.73,885.98 154.96,906.63 165.19,945.77 175.42,839.77 185.65,808.24 195.88,902.56 206.11,904.73 216.34,950.94 226.57,867.22 236.79,913.43 247.02,928.11 257.25,905.55 267.48,917.51 277.71,937.62 287.94,908.54 298.17,873.2 308.4,907.45 318.63,924.3 328.86,919.95 339.08,937.08 349.31,894.68 359.54,904.19 369.77,944.96 380,971.59 390.23,962.63" fill="none" stroke="#d95319" stroke-width="1.8" stroke-linejoin="miter"/>
<polyline points="62.9,880 73.13,904.73 83.36,932.18 93.59,852.55 103.82,886.79 114.05,871.03 124.27,799.27 134.5,906.63 144.73,946.86 154.96,881.09 165.19,908.54 175.42,811.78 185.65,851.46 195.88,914.52 206.11,963.71 216.34,943.06 226.57,894.68 236.79,852.82 247.02,854.45 257.25,955.83 267.48,909.62 277.71,951.75 287.94,937.08 298.17,940.88 308.4,898.75 318.63,943.06 328.86,956.65 339.08,920.77 349.31,922.4 359.54,905.55 369.77,938.16 380,938.16 390.23,955.83" fill="none" stroke="#edb120" stroke-width="1.8" stroke-linejoin="miter"/>
<polyline points="62.9,913.16 73.13,910.44 83.36,964.53 93.59,888.97 103.82,916.42 114.05,840.59 124.27,853.36 134.5,923.76 144.73,920.22 154.96,862.87 165.19,957.73 175.42,882.99 185.65,842.76 195.88,940.07 206.11,893.86 216.34,915.88 226.57,909.62 236.79,899.57 247.02,866.14 257.25,900.65 267.48,924.3 277.71,949.85 287.94,954.74 298.17,854.45 308.4,895.76 318.63,884.08 328.86,938.98 339.08,938.98 349.31,933.81 359.54,880 369.77,916.42 380,929.74 390.23,965.62" fill="none" stroke="#7e2f8e" stroke-width="1.8" stroke-linejoin="miter"/>
<path d="M62.9 703.6H426.6V975.4H62.9ZM62.9 975.4v-4.4M62.9 703.6v4.4M135.64 975.4v-4.4M135.64 703.6v4.4M208.38 975.4v-4.4M208.38 703.6v4.4M281.12 975.4v-4.4M281.12 703.6v4.4M353.86 975.4v-4.4M353.86 703.6v4.4M426.6 975.4v-4.4M426.6 703.6v4.4M62.9 975.4h4.4M62.9 921.04h4.4M62.9 866.68h4.4M62.9 812.32h4.4M62.9 757.96h4.4M62.9 703.6h4.4M426.6 975.4h-4.4M426.6 921.04h-4.4M426.6 866.68h-4.4M426.6 812.32h-4.4M426.6 757.96h-4.4M426.6 703.6h-4.4" stroke="#262626" stroke-width="1.6" fill="none" stroke-linejoin="miter"/>
<text x="62.9" y="997.8" font-size="16.0" text-anchor="middle" fill="#262626" stroke="#262626" stroke-width="0.32">0</text>
<text x="135.64" y="997.8" font-size="16.0" text-anchor="middle" fill="#262626" stroke="#262626" stroke-width="0.32">0.2</text>
<text x="208.38" y="997.8" font-size="16.0" text-anchor="middle" fill="#262626" stroke="#262626" stroke-width="0.32">0.4</text>
<text x="281.12" y="997.8" font-size="16.0" text-anchor="middle" fill="#262626" stroke="#262626" stroke-width="0.32">0.6</text>
<text x="353.86" y="997.8" font-size="16.0" text-anchor="middle" fill="#262626" stroke="#262626" stroke-width="0.32">0.8</text>
<text x="426.6" y="997.8" font-size="16.0" text-anchor="middle" fill="#262626" stroke="#262626" stroke-width="0.32">1</text>
<text x="56.9" y="981.16" font-size="16.0" text-anchor="end" fill="#262626" stroke="#262626" stroke-width="0.32">0</text>
<text x="56.9" y="926.8" font-size="16.0" text-anchor="end" fill="#262626" stroke="#262626" stroke-width="0.32">0.2</text>
<text x="56.9" y="872.44" font-size="16.0" text-anchor="end" fill="#262626" stroke="#262626" stroke-width="0.32">0.4</text>
<text x="56.9" y="818.08" font-size="16.0" text-anchor="end" fill="#262626" stroke="#262626" stroke-width="0.32">0.6</text>
<text x="56.9" y="763.72" font-size="16.0" text-anchor="end" fill="#262626" stroke="#262626" stroke-width="0.32">0.8</text>
<text x="56.9" y="709.36" font-size="16.0" text-anchor="end" fill="#262626" stroke="#262626" stroke-width="0.32">1</text>
<text x="244.75" y="1024.7" font-size="18.0" text-anchor="middle" fill="#262626" stroke="#262626" stroke-width="0.36">frequency (min<tspan dx="1.5" dy="-7" font-size="14.4">-1</tspan><tspan dx="2.4" dy="7">)</tspan></text>
<text transform="translate(17.9 841) rotate(-90)" font-size="18.4" text-anchor="middle" fill="#262626" stroke="#262626" stroke-width="0.37">|Amplitude|<tspan dy="8.6" font-size="14.6" font-style="italic">fission</tspan></text>
<text x="19.5" y="721" font-size="18.4" text-anchor="start" fill="#000" stroke="#000" stroke-width="0.37">i</text>
<path d="M558.66 706V973.4M630.32 706V973.4M701.98 706V973.4M773.64 706V973.4" stroke="#262626" stroke-opacity="0.17" stroke-width="1.5" fill="none"/>
<path d="M487 919.92H845.3M487 866.44H845.3M487 812.96H845.3M487 759.48H845.3" stroke="#262626" stroke-opacity="0.17" stroke-width="1.5" fill="none"/>
<polyline points="487,890.51 497.08,871.79 507.15,956.02 517.23,933.29 527.31,917.25 537.39,850.4 547.46,758.14 557.54,874.46 567.62,926.61 577.69,948 587.77,933.29 597.85,849.06 607.93,808.95 618,903.88 628.08,906.55 638.16,922.59 648.24,906.55 658.31,858.42 668.39,829 678.47,935.96 688.54,906.55 698.62,946.66 708.7,898.53 718.78,885.16 728.85,910.56 738.93,931.95 749.01,958.69 759.08,929.28 769.16,921.26 779.24,907.89 789.32,933.29 799.39,893.18 809.47,934.63" fill="none" stroke="#0072bd" stroke-width="1.8" stroke-linejoin="miter"/>
<polyline points="487,945.06 497.08,909.49 507.15,943.18 517.23,961.9 527.31,924.47 537.39,883.02 547.46,771.51 557.54,904.68 567.62,891.31 577.69,928.21 587.77,952.01 597.85,837.29 607.93,844.51 618,920.45 628.08,867.24 638.16,906.55 648.24,897.19 658.31,950.94 668.39,900.67 678.47,892.38 688.54,913.5 698.62,956.82 708.7,933.29 718.78,886.76 728.85,866.17 738.93,950.94 749.01,837.29 759.08,939.98 769.16,925.27 779.24,952.81 789.32,901.74 799.39,930.35 809.47,949.87" fill="none" stroke="#d95319" stroke-width="1.8" stroke-linejoin="miter"/>
<polyline points="487,903.61 497.08,897.73 507.15,937.03 517.23,865.91 527.31,886.5 537.39,871.25 547.46,790.23 557.54,929.81 567.62,939.17 577.69,911.63 587.77,961.9 597.85,838.63 607.93,827.4 618,943.99 628.08,953.88 638.16,928.74 648.24,945.06 658.31,879.01 668.39,818.84 678.47,934.09 688.54,899.06 698.62,922.33 708.7,910.83 718.78,943.99 728.85,867.24 738.93,943.18 749.01,903.61 759.08,918.32 769.16,912.43 779.24,922.33 789.32,938.1 799.39,909.49 809.47,969.66" fill="none" stroke="#edb120" stroke-width="1.8" stroke-linejoin="miter"/>
<polyline points="487,925.27 497.08,912.43 507.15,952.01 517.23,901.2 527.31,922.33 537.39,839.17 547.46,885.96 557.54,916.44 567.62,873.66 577.69,890.51 587.77,949.87 597.85,886.76 607.93,827.67 618,924.47 628.08,879.01 638.16,916.18 648.24,913.5 658.31,883.02 668.39,827.67 678.47,937.03 688.54,963.77 698.62,942.11 708.7,958.69 718.78,873.12 728.85,896.66 738.93,949.07 749.01,964.84 759.08,862.16 769.16,966.72 779.24,925.8 789.32,925.27 799.39,943.99 809.47,952.81" fill="none" stroke="#7e2f8e" stroke-width="1.8" stroke-linejoin="miter"/>
<path d="M487 706H845.3V973.4H487ZM487 973.4v-4.4M487 706v4.4M558.66 973.4v-4.4M558.66 706v4.4M630.32 973.4v-4.4M630.32 706v4.4M701.98 973.4v-4.4M701.98 706v4.4M773.64 973.4v-4.4M773.64 706v4.4M845.3 973.4v-4.4M845.3 706v4.4M487 973.4h4.4M487 919.92h4.4M487 866.44h4.4M487 812.96h4.4M487 759.48h4.4M487 706h4.4M845.3 973.4h-4.4M845.3 919.92h-4.4M845.3 866.44h-4.4M845.3 812.96h-4.4M845.3 759.48h-4.4M845.3 706h-4.4" stroke="#262626" stroke-width="1.6" fill="none" stroke-linejoin="miter"/>
<text x="487" y="995.8" font-size="16.0" text-anchor="middle" fill="#262626" stroke="#262626" stroke-width="0.32">0</text>
<text x="558.66" y="995.8" font-size="16.0" text-anchor="middle" fill="#262626" stroke="#262626" stroke-width="0.32">0.2</text>
<text x="630.32" y="995.8" font-size="16.0" text-anchor="middle" fill="#262626" stroke="#262626" stroke-width="0.32">0.4</text>
<text x="701.98" y="995.8" font-size="16.0" text-anchor="middle" fill="#262626" stroke="#262626" stroke-width="0.32">0.6</text>
<text x="773.64" y="995.8" font-size="16.0" text-anchor="middle" fill="#262626" stroke="#262626" stroke-width="0.32">0.8</text>
<text x="845.3" y="995.8" font-size="16.0" text-anchor="middle" fill="#262626" stroke="#262626" stroke-width="0.32">1</text>
<text x="481" y="979.16" font-size="16.0" text-anchor="end" fill="#262626" stroke="#262626" stroke-width="0.32">0</text>
<text x="481" y="925.68" font-size="16.0" text-anchor="end" fill="#262626" stroke="#262626" stroke-width="0.32">0.2</text>
<text x="481" y="872.2" font-size="16.0" text-anchor="end" fill="#262626" stroke="#262626" stroke-width="0.32">0.4</text>
<text x="481" y="818.72" font-size="16.0" text-anchor="end" fill="#262626" stroke="#262626" stroke-width="0.32">0.6</text>
<text x="481" y="765.24" font-size="16.0" text-anchor="end" fill="#262626" stroke="#262626" stroke-width="0.32">0.8</text>
<text x="481" y="711.76" font-size="16.0" text-anchor="end" fill="#262626" stroke="#262626" stroke-width="0.32">1</text>
<text x="666.15" y="1022.7" font-size="18.0" text-anchor="middle" fill="#262626" stroke="#262626" stroke-width="0.36">frequency (min<tspan dx="1.5" dy="-7" font-size="14.4">-1</tspan><tspan dx="2.4" dy="7">)</tspan></text>
<text transform="translate(442.9 841.2) rotate(-90)" font-size="18.4" text-anchor="middle" fill="#262626" stroke="#262626" stroke-width="0.37">|Amplitude|<tspan dy="8.6" font-size="14.6" font-style="italic">fusion</tspan></text>
<text x="437.5" y="719" font-size="18.4" text-anchor="start" fill="#000" stroke="#000" stroke-width="0.37">j</text>
<path d="M999.64 706V974M1071.48 706V974M1143.32 706V974M1215.16 706V974" stroke="#262626" stroke-opacity="0.17" stroke-width="1.5" fill="none"/>
<path d="M927.8 920.4H1287M927.8 866.8H1287M927.8 813.2H1287M927.8 759.6H1287" stroke="#262626" stroke-opacity="0.17" stroke-width="1.5" fill="none"/>
<polyline points="927.8,920.4 937.04,857.42 946.29,865.46 955.53,893.06 964.78,918.52 974.02,883.15 983.26,849.65 992.51,956.85 1001.75,850.72 1010.99,950.42 1020.24,910.75 1029.48,865.46 1038.73,798.46 1047.97,946.93 1057.21,928.44 1066.46,961.67 1075.7,867.87 1084.94,881 1094.19,880.2 1103.43,894.94 1112.68,905.66 1121.92,918.52 1131.16,939.16 1140.41,894.94 1149.65,918.52 1158.89,866 1168.14,943.18 1177.38,902.71 1186.63,934.34 1195.87,949.08 1205.11,943.98 1214.36,959.8 1223.6,970.78" fill="none" stroke="#0072bd" stroke-width="1.8" stroke-linejoin="miter"/>
<polyline points="927.8,939.16 937.04,927.37 946.29,945.06 955.53,861.44 964.78,934.34 974.02,775.95 983.26,897.89 992.51,909.68 1001.75,914.5 1010.99,906.73 1020.24,959.8 1029.48,904.86 1038.73,886.9 1047.97,930.32 1057.21,949.88 1066.46,920.4 1075.7,891.99 1084.94,896.01 1094.19,859.56 1103.43,820.17 1112.68,885.02 1121.92,900.84 1131.16,955.78 1140.41,881 1149.65,889.85 1158.89,922.54 1168.14,902.71 1177.38,919.6 1186.63,903.78 1195.87,960.87 1205.11,906.73 1214.36,918.52 1223.6,940.23" fill="none" stroke="#d95319" stroke-width="1.8" stroke-linejoin="miter"/>
<polyline points="927.8,910.75 937.04,889.85 946.29,886.1 955.53,943.18 964.78,939.16 974.02,829.01 983.26,812.66 992.51,898.96 1001.75,912.63 1010.99,885.56 1020.24,917.45 1029.48,830.08 1038.73,885.02 1047.97,959.8 1057.21,913.7 1066.46,927.37 1075.7,894.94 1084.94,873.23 1094.19,865.46 1103.43,964.62 1112.68,938.09 1121.92,928.44 1131.16,953.9 1140.41,920.4 1149.65,867.87 1158.89,922.54 1168.14,898.96 1177.38,834.91 1186.63,896.82 1195.87,955.78 1205.11,917.45 1214.36,949.88 1223.6,967.84" fill="none" stroke="#edb120" stroke-width="1.8" stroke-linejoin="miter"/>
<polyline points="927.8,946.13 937.04,843.75 946.29,911.56 955.53,843.22 964.78,894.94 974.02,851.52 983.26,912.63 992.51,934.34 1001.75,894.94 1010.99,919.6 1020.24,908.61 1029.48,804.89 1038.73,871.36 1047.97,938.09 1057.21,962.74 1066.46,965.69 1075.7,948 1084.94,848.58 1094.19,904.86 1103.43,914.5 1112.68,889.04 1121.92,914.5 1131.16,970.78 1140.41,894.94 1149.65,923.35 1158.89,872.16 1168.14,893.06 1177.38,900.84 1186.63,922.54 1195.87,889.58 1205.11,889.58 1214.36,943.18 1223.6,970.78" fill="none" stroke="#7e2f8e" stroke-width="1.8" stroke-linejoin="miter"/>
<polyline points="927.8,916.65 937.04,846.7 946.29,898.96 955.53,959.8 964.78,830.08 974.02,878.06 983.26,839.73 992.51,927.37 1001.75,935.14 1010.99,934.34 1020.24,909.68 1029.48,890.92 1038.73,893.87 1047.97,876.18 1057.21,905.66 1066.46,952.83 1075.7,949.88 1084.94,872.16 1094.19,879.13 1103.43,943.98 1112.68,855.54 1121.92,932.19 1131.16,919.6 1140.41,949.88 1149.65,959.8 1158.89,903.78 1168.14,887.97 1177.38,936.21 1186.63,935.14 1195.87,834.91 1205.11,894.94 1214.36,918.52 1223.6,932.19" fill="none" stroke="#77ac30" stroke-width="1.8" stroke-linejoin="miter"/>
<polyline points="927.8,952.02 937.04,920.4 946.29,916.92 955.53,920.4 964.78,953.9 974.02,879.13 983.26,710.02 992.51,925.49 1001.75,930.32 1010.99,893.06 1020.24,946.4 1029.48,926.3 1038.73,839.46 1047.97,929.24 1057.21,930.32 1066.46,886.9 1075.7,875.11 1084.94,946.93 1094.19,900.84 1103.43,875.11 1112.68,939.16 1121.92,890.92 1131.16,876.72 1140.41,937.28 1149.65,946.93 1158.89,934.34 1168.14,914.5 1177.38,898.96 1186.63,950.95 1195.87,873.77 1205.11,882.08 1214.36,920.4 1223.6,964.62" fill="none" stroke="#4dbeee" stroke-width="1.8" stroke-linejoin="miter"/>
<path d="M927.8 706H1287V974H927.8ZM927.8 974v-4.4M927.8 706v4.4M999.64 974v-4.4M999.64 706v4.4M1071.48 974v-4.4M1071.48 706v4.4M1143.32 974v-4.4M1143.32 706v4.4M1215.16 974v-4.4M1215.16 706v4.4M1287 974v-4.4M1287 706v4.4M927.8 974h4.4M927.8 920.4h4.4M927.8 866.8h4.4M927.8 813.2h4.4M927.8 759.6h4.4M927.8 706h4.4M1287 974h-4.4M1287 920.4h-4.4M1287 866.8h-4.4M1287 813.2h-4.4M1287 759.6h-4.4M1287 706h-4.4" stroke="#262626" stroke-width="1.6" fill="none" stroke-linejoin="miter"/>
<text x="927.8" y="996.4" font-size="16.0" text-anchor="middle" fill="#262626" stroke="#262626" stroke-width="0.32">0</text>
<text x="999.64" y="996.4" font-size="16.0" text-anchor="middle" fill="#262626" stroke="#262626" stroke-width="0.32">0.2</text>
<text x="1071.48" y="996.4" font-size="16.0" text-anchor="middle" fill="#262626" stroke="#262626" stroke-width="0.32">0.4</text>
<text x="1143.32" y="996.4" font-size="16.0" text-anchor="middle" fill="#262626" stroke="#262626" stroke-width="0.32">0.6</text>
<text x="1215.16" y="996.4" font-size="16.0" text-anchor="middle" fill="#262626" stroke="#262626" stroke-width="0.32">0.8</text>
<text x="1287" y="996.4" font-size="16.0" text-anchor="middle" fill="#262626" stroke="#262626" stroke-width="0.32">1</text>
<text x="921.8" y="979.76" font-size="16.0" text-anchor="end" fill="#262626" stroke="#262626" stroke-width="0.32">0</text>
<text x="921.8" y="926.16" font-size="16.0" text-anchor="end" fill="#262626" stroke="#262626" stroke-width="0.32">0.2</text>
<text x="921.8" y="872.56" font-size="16.0" text-anchor="end" fill="#262626" stroke="#262626" stroke-width="0.32">0.4</text>
<text x="921.8" y="818.96" font-size="16.0" text-anchor="end" fill="#262626" stroke="#262626" stroke-width="0.32">0.6</text>
<text x="921.8" y="765.36" font-size="16.0" text-anchor="end" fill="#262626" stroke="#262626" stroke-width="0.32">0.8</text>
<text x="921.8" y="711.76" font-size="16.0" text-anchor="end" fill="#262626" stroke="#262626" stroke-width="0.32">1</text>
<text x="1107.4" y="1023.3" font-size="18.0" text-anchor="middle" fill="#262626" stroke="#262626" stroke-width="0.36">frequency (min<tspan dx="1.5" dy="-7" font-size="14.4">-1</tspan><tspan dx="2.4" dy="7">)</tspan></text>
<text transform="translate(882.9 841.5) rotate(-90)" font-size="18.4" text-anchor="middle" fill="#262626" stroke="#262626" stroke-width="0.37">|Amplitude|<tspan dy="8.6" font-size="14.6" font-style="italic">fission</tspan></text>
<text x="884" y="722" font-size="18.4" text-anchor="start" fill="#000" stroke="#000" stroke-width="0.37">k</text>
<path d="M1422.7 706V973.6M1494.5 706V973.6M1566.3 706V973.6M1638.1 706V973.6" stroke="#262626" stroke-opacity="0.17" stroke-width="1.5" fill="none"/>
<path d="M1350.9 920.08H1709.9M1350.9 866.56H1709.9M1350.9 813.04H1709.9M1350.9 759.52H1709.9" stroke="#262626" stroke-opacity="0.17" stroke-width="1.5" fill="none"/>
<polyline points="1350.9,918.47 1360.14,841.67 1369.38,888.77 1378.62,898.94 1387.85,936.14 1397.09,875.39 1406.33,834.18 1415.57,906.7 1424.81,849.7 1434.05,947.11 1443.29,918.47 1452.53,877.26 1461.76,823.21 1471,920.62 1480.24,959.95 1489.48,943.09 1498.72,954.07 1507.96,876.46 1517.2,878.33 1526.43,903.76 1535.67,894.93 1544.91,927.31 1554.15,922.49 1563.39,905.9 1572.63,965.84 1581.87,927.31 1591.1,954.87 1600.34,884.76 1609.58,935.33 1618.82,898.94 1628.06,865.49 1637.3,909.64 1646.54,928.11" fill="none" stroke="#0072bd" stroke-width="1.8" stroke-linejoin="miter"/>
<polyline points="1350.9,965.84 1360.14,865.49 1369.38,943.09 1378.62,934 1387.85,938.28 1397.09,831.77 1406.33,887.17 1415.57,943.09 1424.81,875.39 1434.05,934.26 1443.29,954.07 1452.53,950.32 1461.76,860.94 1471,883.15 1480.24,916.6 1489.48,962.9 1498.72,932.39 1507.96,940.15 1517.2,867.63 1526.43,889.04 1535.67,904.83 1544.91,930.25 1554.15,915.53 1563.39,910.71 1572.63,932.39 1581.87,871.38 1591.1,902.95 1600.34,860.67 1609.58,876.46 1618.82,842.48 1628.06,939.35 1637.3,946.04 1646.54,973.6" fill="none" stroke="#d95319" stroke-width="1.8" stroke-linejoin="miter"/>
<polyline points="1350.9,951.12 1360.14,890.11 1369.38,913.66 1378.62,909.38 1387.85,954.87 1397.09,893.05 1406.33,747.75 1415.57,894.12 1424.81,883.15 1434.05,848.9 1443.29,905.9 1452.53,873.52 1461.76,924.36 1471,902.95 1480.24,926.5 1489.48,926.5 1498.72,944.16 1507.96,855.59 1517.2,881.28 1526.43,950.05 1535.67,909.64 1544.91,908.84 1554.15,946.04 1563.39,843.01 1572.63,900.01 1581.87,871.38 1591.1,926.5 1600.34,928.11 1609.58,897.87 1618.82,900.81 1628.06,937.21 1637.3,917.67 1646.54,967.71" fill="none" stroke="#edb120" stroke-width="1.8" stroke-linejoin="miter"/>
<polyline points="1350.9,942.29 1360.14,849.7 1369.38,904.83 1378.62,854.79 1387.85,922.49 1397.09,931.32 1406.33,874.05 1415.57,929.45 1424.81,905.9 1434.05,928.38 1443.29,937.74 1452.53,841.94 1461.76,838.46 1471,929.45 1480.24,906.7 1489.48,915.53 1498.72,932.39 1507.96,853.72 1517.2,881.28 1526.43,957.81 1535.67,928.91 1544.91,943.09 1554.15,963.7 1563.39,938.28 1572.63,866.02 1581.87,851.31 1591.1,951.12 1600.34,947.11 1609.58,885.29 1618.82,960.76 1628.06,846.76 1637.3,938.28 1646.54,948.98" fill="none" stroke="#7e2f8e" stroke-width="1.8" stroke-linejoin="miter"/>
<polyline points="1350.9,927.31 1360.14,859.6 1369.38,914.73 1378.62,960.76 1387.85,834.18 1397.09,893.05 1406.33,824.01 1415.57,940.15 1424.81,926.5 1434.05,926.5 1443.29,853.72 1452.53,840.07 1461.76,880.21 1471,853.72 1480.24,914.73 1489.48,944.16 1498.72,951.12 1507.96,844.88 1517.2,843.01 1526.43,946.04 1535.67,877.8 1544.91,924.36 1554.15,951.92 1563.39,916.6 1572.63,934.26 1581.87,958.88 1591.1,873.52 1600.34,914.73 1609.58,948.18 1618.82,904.83 1628.06,890.11 1637.3,939.35 1646.54,960.76" fill="none" stroke="#77ac30" stroke-width="1.8" stroke-linejoin="miter"/>
<polyline points="1350.9,972.53 1360.14,920.08 1369.38,925.43 1378.62,942.29 1387.85,964.77 1397.09,875.39 1406.33,748.55 1415.57,926.5 1424.81,909.64 1434.05,944.16 1443.29,934.26 1452.53,867.1 1461.76,897.87 1471,891.18 1480.24,954.07 1489.48,888.77 1498.72,928.38 1507.96,843.81 1517.2,920.62 1526.43,888.24 1535.67,903.76 1544.91,805.55 1554.15,889.04 1563.39,898.94 1572.63,893.05 1581.87,867.63 1591.1,948.18 1600.34,887.17 1609.58,939.35 1618.82,902.95 1628.06,961.83 1637.3,941.22 1646.54,960.76" fill="none" stroke="#4dbeee" stroke-width="1.8" stroke-linejoin="miter"/>
<path d="M1350.9 706H1709.9V973.6H1350.9ZM1350.9 973.6v-4.4M1350.9 706v4.4M1422.7 973.6v-4.4M1422.7 706v4.4M1494.5 973.6v-4.4M1494.5 706v4.4M1566.3 973.6v-4.4M1566.3 706v4.4M1638.1 973.6v-4.4M1638.1 706v4.4M1709.9 973.6v-4.4M1709.9 706v4.4M1350.9 973.6h4.4M1350.9 920.08h4.4M1350.9 866.56h4.4M1350.9 813.04h4.4M1350.9 759.52h4.4M1350.9 706h4.4M1709.9 973.6h-4.4M1709.9 920.08h-4.4M1709.9 866.56h-4.4M1709.9 813.04h-4.4M1709.9 759.52h-4.4M1709.9 706h-4.4" stroke="#262626" stroke-width="1.6" fill="none" stroke-linejoin="miter"/>
<text x="1350.9" y="996" font-size="16.0" text-anchor="middle" fill="#262626" stroke="#262626" stroke-width="0.32">0</text>
<text x="1422.7" y="996" font-size="16.0" text-anchor="middle" fill="#262626" stroke="#262626" stroke-width="0.32">0.2</text>
<text x="1494.5" y="996" font-size="16.0" text-anchor="middle" fill="#262626" stroke="#262626" stroke-width="0.32">0.4</text>
<text x="1566.3" y="996" font-size="16.0" text-anchor="middle" fill="#262626" stroke="#262626" stroke-width="0.32">0.6</text>
<text x="1638.1" y="996" font-size="16.0" text-anchor="middle" fill="#262626" stroke="#262626" stroke-width="0.32">0.8</text>
<text x="1709.9" y="996" font-size="16.0" text-anchor="middle" fill="#262626" stroke="#262626" stroke-width="0.32">1</text>
<text x="1344.9" y="979.36" font-size="16.0" text-anchor="end" fill="#262626" stroke="#262626" stroke-width="0.32">0</text>
<text x="1344.9" y="925.84" font-size="16.0" text-anchor="end" fill="#262626" stroke="#262626" stroke-width="0.32">0.2</text>
<text x="1344.9" y="872.32" font-size="16.0" text-anchor="end" fill="#262626" stroke="#262626" stroke-width="0.32">0.4</text>
<text x="1344.9" y="818.8" font-size="16.0" text-anchor="end" fill="#262626" stroke="#262626" stroke-width="0.32">0.6</text>
<text x="1344.9" y="765.28" font-size="16.0" text-anchor="end" fill="#262626" stroke="#262626" stroke-width="0.32">0.8</text>
<text x="1344.9" y="711.76" font-size="16.0" text-anchor="end" fill="#262626" stroke="#262626" stroke-width="0.32">1</text>
<text x="1530.4" y="1022.9" font-size="18.0" text-anchor="middle" fill="#262626" stroke="#262626" stroke-width="0.36">frequency (min<tspan dx="1.5" dy="-7" font-size="14.4">-1</tspan><tspan dx="2.4" dy="7">)</tspan></text>
<text transform="translate(1305.4 841.3) rotate(-90)" font-size="18.4" text-anchor="middle" fill="#262626" stroke="#262626" stroke-width="0.37">|Amplitude|<tspan dy="8.6" font-size="14.6" font-style="italic">fusion</tspan></text>
<text x="1311" y="722" font-size="18.4" text-anchor="start" fill="#000" stroke="#000" stroke-width="0.37">l</text>
<path d="M126.78 1039.8V1307.2M198.36 1039.8V1307.2M269.94 1039.8V1307.2M341.52 1039.8V1307.2" stroke="#262626" stroke-opacity="0.17" stroke-width="1.5" fill="none"/>
<path d="M55.2 1253.72H413.1M55.2 1200.24H413.1M55.2 1146.76H413.1M55.2 1093.28H413.1" stroke="#262626" stroke-opacity="0.17" stroke-width="1.5" fill="none"/>
<polyline points="55.2,1050.5 56.82,1050.48 58.44,1050.47 60.06,1050.46 61.67,1050.47 63.29,1050.48 64.91,1050.5 66.53,1050.54 68.15,1050.58 69.77,1050.63 71.39,1050.69 73.01,1050.76 74.62,1050.84 76.24,1050.93 77.86,1051.04 79.48,1051.16 81.1,1051.29 82.72,1051.43 84.34,1051.58 85.95,1051.75 87.57,1051.94 89.19,1052.13 90.81,1052.34 92.43,1052.57 94.05,1052.81 95.67,1053.07 97.28,1053.34 98.9,1053.63 100.52,1053.94 102.14,1054.27 103.76,1054.62 105.38,1054.98 107,1055.37 108.62,1055.77 110.23,1056.2 111.85,1056.65 113.47,1057.13 115.09,1057.64 116.71,1058.19 118.33,1058.77 119.95,1059.39 121.56,1060.05 123.18,1060.76 124.8,1061.53 126.42,1062.34 128.04,1063.21 129.66,1064.14 131.28,1065.11 132.89,1066.13 134.51,1067.19 136.13,1068.3 137.75,1069.43 139.37,1070.59 140.99,1071.78 142.61,1072.99 144.23,1074.22 145.84,1075.46 147.46,1076.71 149.08,1077.96 150.7,1079.21 152.32,1080.46 153.94,1081.69 155.56,1082.92 157.17,1084.12 158.79,1085.3 160.41,1086.45 162.03,1087.57 163.65,1088.65 165.27,1089.69 166.89,1090.69 168.51,1091.65 170.12,1092.57 171.74,1093.45 173.36,1094.28 174.98,1095.08 176.6,1095.83 178.22,1096.53 179.84,1097.19 181.45,1097.79 183.07,1098.33 184.69,1098.81 186.31,1099.22 187.93,1099.55 189.55,1099.8 191.17,1099.96 192.78,1100.03 194.4,1100.01 196.02,1099.91 197.64,1099.72 199.26,1099.46 200.88,1099.13 202.5,1098.73 204.12,1098.27 205.73,1097.75 207.35,1097.19 208.97,1096.59 210.59,1096 212.21,1095.43 213.83,1094.9 215.45,1094.46 217.06,1094.11 218.68,1093.88 220.3,1093.81 221.92,1093.9 223.54,1094.16 225.16,1094.59 226.78,1095.2 228.39,1095.97 230.01,1096.92 231.63,1098.05 233.25,1099.37 234.87,1100.89 236.49,1102.63 238.11,1104.62 239.73,1106.86 241.34,1109.38 242.96,1112.18 244.58,1115.22 246.2,1118.43 247.82,1121.78 249.44,1125.2 251.06,1128.63 252.67,1132.03 254.29,1135.37 255.91,1138.64 257.53,1141.87 259.15,1145.06 260.77,1148.21 262.39,1151.35 264,1154.46 265.62,1157.53 267.24,1160.53 268.86,1163.43 270.48,1166.17 272.1,1168.74 273.72,1171.1 275.34,1173.22 276.95,1175.13 278.57,1176.83 280.19,1178.35 281.81,1179.71 283.43,1180.94 285.05,1182.05 286.67,1183.09 288.28,1184.11 289.9,1185.18 291.52,1186.36 293.14,1187.71 294.76,1189.29 296.38,1191.17 298,1193.34 299.62,1195.81 301.23,1198.56 302.85,1201.59 304.47,1204.87 306.09,1208.36 307.71,1212.02 309.33,1215.8 310.95,1219.65 312.56,1223.53 314.18,1227.4 315.8,1231.22 317.42,1234.98 319.04,1238.65 320.66,1242.21 322.28,1245.64 323.89,1248.91 325.51,1252 327.13,1254.89 328.75,1257.58 330.37,1260.02 331.99,1262.22 333.61,1264.15 335.23,1265.79 336.84,1267.14 338.46,1268.2 340.08,1268.99 341.7,1269.51 343.32,1269.76 344.94,1269.77 346.56,1269.57 348.17,1269.18 349.79,1268.64 351.41,1267.99 353.03,1267.27 354.65,1266.5 356.27,1265.69 357.89,1264.87 359.5,1264.03 361.12,1263.2 362.74,1262.4 364.36,1261.63 365.98,1260.91 367.6,1260.26 369.22,1259.69 370.84,1259.21 372.45,1258.84 374.07,1258.6 375.69,1258.49 377.31,1258.53" fill="none" stroke="#0072bd" stroke-width="1.8" stroke-linejoin="round"/>
<polyline points="55.2,1078.04 56.82,1078.73 58.44,1079.3 60.06,1079.76 61.67,1080.11 63.29,1080.36 64.91,1080.51 66.53,1080.56 68.15,1080.52 69.77,1080.4 71.39,1080.2 73.01,1079.93 74.62,1079.58 76.24,1079.17 77.86,1078.7 79.48,1078.17 81.1,1077.59 82.72,1076.97 84.34,1076.3 85.95,1075.6 87.57,1074.86 89.19,1074.1 90.81,1073.31 92.43,1072.51 94.05,1071.7 95.67,1070.89 97.28,1070.08 98.9,1069.29 100.52,1068.52 102.14,1067.78 103.76,1067.08 105.38,1066.42 107,1065.82 108.62,1065.29 110.23,1064.82 111.85,1064.42 113.47,1064.08 115.09,1063.81 116.71,1063.6 118.33,1063.43 119.95,1063.32 121.56,1063.26 123.18,1063.24 124.8,1063.26 126.42,1063.31 128.04,1063.4 129.66,1063.52 131.28,1063.68 132.89,1063.87 134.51,1064.1 136.13,1064.37 137.75,1064.68 139.37,1065.04 140.99,1065.44 142.61,1065.89 144.23,1066.39 145.84,1066.94 147.46,1067.55 149.08,1068.2 150.7,1068.91 152.32,1069.68 153.94,1070.5 155.56,1071.39 157.17,1072.33 158.79,1073.33 160.41,1074.39 162.03,1075.51 163.65,1076.7 165.27,1077.95 166.89,1079.27 168.51,1080.65 170.12,1082.11 171.74,1083.65 173.36,1085.26 174.98,1086.95 176.6,1088.71 178.22,1090.57 179.84,1092.5 181.45,1094.53 183.07,1096.65 184.69,1098.86 186.31,1101.19 187.93,1103.64 189.55,1106.2 191.17,1108.9 192.78,1111.74 194.4,1114.73 196.02,1117.87 197.64,1121.17 199.26,1124.64 200.88,1128.28 202.5,1132.07 204.12,1136 205.73,1140.04 207.35,1144.18 208.97,1148.42 210.59,1152.72 212.21,1157.09 213.83,1161.5 215.45,1165.93 217.06,1170.37 218.68,1174.81 220.3,1179.23 221.92,1183.61 223.54,1187.93 225.16,1192.18 226.78,1196.33 228.39,1200.37 230.01,1204.29 231.63,1208.07 233.25,1211.68 234.87,1215.11 236.49,1218.35 238.11,1221.36 239.73,1224.12 241.34,1226.61 242.96,1228.8 244.58,1230.68 246.2,1232.21 247.82,1233.41 249.44,1234.31 251.06,1234.95 252.67,1235.34 254.29,1235.52 255.91,1235.52 257.53,1235.37 259.15,1235.06 260.77,1234.6 262.39,1234.01 264,1233.3 265.62,1232.45 267.24,1231.49 268.86,1230.42 270.48,1229.25 272.1,1228 273.72,1226.7 275.34,1225.4 276.95,1224.15 278.57,1222.97 280.19,1221.92 281.81,1221.03 283.43,1220.31 285.05,1219.75 286.67,1219.35 288.28,1219.09 289.9,1218.96 291.52,1218.96 293.14,1219.08 294.76,1219.32 296.38,1219.68 298,1220.16 299.62,1220.78 301.23,1221.52 302.85,1222.4 304.47,1223.42 306.09,1224.58 307.71,1225.87 309.33,1227.29 310.95,1228.82 312.56,1230.45 314.18,1232.16 315.8,1233.94 317.42,1235.77 319.04,1237.64 320.66,1239.53 322.28,1241.44 323.89,1243.34 325.51,1245.23 327.13,1247.09 328.75,1248.93 330.37,1250.73 331.99,1252.49 333.61,1254.21 335.23,1255.87 336.84,1257.48 338.46,1259.02 340.08,1260.5 341.7,1261.89 343.32,1263.21 344.94,1264.45 346.56,1265.61 348.17,1266.7 349.79,1267.72 351.41,1268.67 353.03,1269.56 354.65,1270.37 356.27,1271.13 357.89,1271.83 359.5,1272.47 361.12,1273.06 362.74,1273.59 364.36,1274.08 365.98,1274.52 367.6,1274.91 369.22,1275.26 370.84,1275.57 372.45,1275.84 374.07,1276.07 375.69,1276.28 377.31,1276.45" fill="none" stroke="#d95319" stroke-width="1.8" stroke-linejoin="round"/>
<polyline points="55.2,1054.51 56.82,1054.63 58.44,1054.7 60.06,1054.74 61.67,1054.74 63.29,1054.7 64.91,1054.64 66.53,1054.54 68.15,1054.43 69.77,1054.3 71.39,1054.14 73.01,1053.98 74.62,1053.81 76.24,1053.63 77.86,1053.45 79.48,1053.28 81.1,1053.1 82.72,1052.94 84.34,1052.79 85.95,1052.65 87.57,1052.53 89.19,1052.44 90.81,1052.37 92.43,1052.34 94.05,1052.33 95.67,1052.37 97.28,1052.44 98.9,1052.56 100.52,1052.73 102.14,1052.95 103.76,1053.22 105.38,1053.56 107,1053.96 108.62,1054.42 110.23,1054.96 111.85,1055.56 113.47,1056.23 115.09,1056.97 116.71,1057.76 118.33,1058.61 119.95,1059.52 121.56,1060.47 123.18,1061.48 124.8,1062.53 126.42,1063.62 128.04,1064.75 129.66,1065.92 131.28,1067.12 132.89,1068.37 134.51,1069.65 136.13,1070.97 137.75,1072.33 139.37,1073.73 140.99,1075.16 142.61,1076.64 144.23,1078.15 145.84,1079.69 147.46,1081.27 149.08,1082.88 150.7,1084.49 152.32,1086.12 153.94,1087.74 155.56,1089.34 157.17,1090.93 158.79,1092.49 160.41,1094 162.03,1095.48 163.65,1096.89 165.27,1098.24 166.89,1099.52 168.51,1100.72 170.12,1101.83 171.74,1102.84 173.36,1103.75 174.98,1104.54 176.6,1105.21 178.22,1105.75 179.84,1106.16 181.45,1106.46 183.07,1106.64 184.69,1106.73 186.31,1106.72 187.93,1106.63 189.55,1106.45 191.17,1106.2 192.78,1105.86 194.4,1105.43 196.02,1104.9 197.64,1104.28 199.26,1103.56 200.88,1102.75 202.5,1101.86 204.12,1100.91 205.73,1099.91 207.35,1098.87 208.97,1097.82 210.59,1096.77 212.21,1095.73 213.83,1094.72 215.45,1093.74 217.06,1092.83 218.68,1091.99 220.3,1091.22 221.92,1090.53 223.54,1089.92 225.16,1089.42 226.78,1089 228.39,1088.7 230.01,1088.51 231.63,1088.43 233.25,1088.48 234.87,1088.66 236.49,1088.99 238.11,1089.46 239.73,1090.1 241.34,1090.9 242.96,1091.88 244.58,1093.04 246.2,1094.39 247.82,1095.94 249.44,1097.67 251.06,1099.59 252.67,1101.7 254.29,1103.98 255.91,1106.45 257.53,1109.09 259.15,1111.9 260.77,1114.89 262.39,1118.07 264,1121.46 265.62,1125.09 267.24,1128.97 268.86,1133.13 270.48,1137.58 272.1,1142.31 273.72,1147.22 275.34,1152.22 276.95,1157.21 278.57,1162.1 280.19,1166.8 281.81,1171.2 283.43,1175.31 285.05,1179.15 286.67,1182.75 288.28,1186.14 289.9,1189.35 291.52,1192.42 293.14,1195.36 294.76,1198.15 296.38,1200.77 298,1203.19 299.62,1205.37 301.23,1207.3 302.85,1208.93 304.47,1210.28 306.09,1211.36 307.71,1212.2 309.33,1212.83 310.95,1213.28 312.56,1213.57 314.18,1213.73 315.8,1213.77 317.42,1213.72 319.04,1213.59 320.66,1213.4 322.28,1213.15 323.89,1212.88 325.51,1212.58 327.13,1212.29 328.75,1212 330.37,1211.74 331.99,1211.5 333.61,1211.3 335.23,1211.13 336.84,1211.01 338.46,1210.93 340.08,1210.91 341.7,1210.94 343.32,1211.04 344.94,1211.2 346.56,1211.41 348.17,1211.66 349.79,1211.95 351.41,1212.27 353.03,1212.63 354.65,1213 356.27,1213.38 357.89,1213.77 359.5,1214.17 361.12,1214.56 362.74,1214.93 364.36,1215.3 365.98,1215.63 367.6,1215.94 369.22,1216.21 370.84,1216.44 372.45,1216.62 374.07,1216.75 375.69,1216.82 377.31,1216.82" fill="none" stroke="#edb120" stroke-width="1.8" stroke-linejoin="round"/>
<polyline points="55.2,1047.29 56.82,1047.47 58.44,1047.68 60.06,1047.9 61.67,1048.14 63.29,1048.4 64.91,1048.69 66.53,1048.99 68.15,1049.33 69.77,1049.68 71.39,1050.06 73.01,1050.47 74.62,1050.91 76.24,1051.38 77.86,1051.87 79.48,1052.4 81.1,1052.97 82.72,1053.56 84.34,1054.19 85.95,1054.86 87.57,1055.57 89.19,1056.31 90.81,1057.09 92.43,1057.91 94.05,1058.77 95.67,1059.65 97.28,1060.54 98.9,1061.44 100.52,1062.33 102.14,1063.21 103.76,1064.07 105.38,1064.9 107,1065.68 108.62,1066.42 110.23,1067.1 111.85,1067.72 113.47,1068.28 115.09,1068.78 116.71,1069.22 118.33,1069.6 119.95,1069.91 121.56,1070.16 123.18,1070.35 124.8,1070.48 126.42,1070.55 128.04,1070.55 129.66,1070.49 131.28,1070.38 132.89,1070.21 134.51,1070 136.13,1069.75 137.75,1069.46 139.37,1069.13 140.99,1068.77 142.61,1068.39 144.23,1067.99 145.84,1067.57 147.46,1067.14 149.08,1066.7 150.7,1066.26 152.32,1065.82 153.94,1065.39 155.56,1064.96 157.17,1064.55 158.79,1064.15 160.41,1063.78 162.03,1063.44 163.65,1063.13 165.27,1062.85 166.89,1062.62 168.51,1062.44 170.12,1062.31 171.74,1062.25 173.36,1062.25 174.98,1062.33 176.6,1062.49 178.22,1062.74 179.84,1063.07 181.45,1063.5 183.07,1064.01 184.69,1064.61 186.31,1065.29 187.93,1066.06 189.55,1066.92 191.17,1067.86 192.78,1068.88 194.4,1069.99 196.02,1071.18 197.64,1072.46 199.26,1073.82 200.88,1075.27 202.5,1076.81 204.12,1078.43 205.73,1080.14 207.35,1081.94 208.97,1083.82 210.59,1085.79 212.21,1087.84 213.83,1089.98 215.45,1092.2 217.06,1094.5 218.68,1096.88 220.3,1099.35 221.92,1101.89 223.54,1104.5 225.16,1107.18 226.78,1109.9 228.39,1112.66 230.01,1115.46 231.63,1118.28 233.25,1121.12 234.87,1123.96 236.49,1126.79 238.11,1129.62 239.73,1132.42 241.34,1135.19 242.96,1137.93 244.58,1140.61 246.2,1143.24 247.82,1145.8 249.44,1148.28 251.06,1150.69 252.67,1152.99 254.29,1155.2 255.91,1157.31 257.53,1159.31 259.15,1161.2 260.77,1162.98 262.39,1164.65 264,1166.19 265.62,1167.62 267.24,1168.93 268.86,1170.11 270.48,1171.16 272.1,1172.09 273.72,1172.9 275.34,1173.61 276.95,1174.22 278.57,1174.76 280.19,1175.23 281.81,1175.64 283.43,1176 285.05,1176.33 286.67,1176.64 288.28,1176.93 289.9,1177.21 291.52,1177.49 293.14,1177.77 294.76,1178.06 296.38,1178.38 298,1178.72 299.62,1179.09 301.23,1179.51 302.85,1179.97 304.47,1180.48 306.09,1181.05 307.71,1181.69 309.33,1182.39 310.95,1183.16 312.56,1184.02 314.18,1184.95 315.8,1185.97 317.42,1187.07 319.04,1188.23 320.66,1189.45 322.28,1190.73 323.89,1192.06 325.51,1193.43 327.13,1194.83 328.75,1196.26 330.37,1197.72 331.99,1199.2 333.61,1200.7 335.23,1202.22 336.84,1203.76 338.46,1205.31 340.08,1206.87 341.7,1208.44 343.32,1210.01 344.94,1211.58 346.56,1213.14 348.17,1214.68 349.79,1216.2 351.41,1217.69 353.03,1219.13 354.65,1220.53 356.27,1221.88 357.89,1223.16 359.5,1224.37 361.12,1225.51 362.74,1226.56 364.36,1227.52 365.98,1228.38 367.6,1229.13 369.22,1229.77 370.84,1230.29 372.45,1230.68 374.07,1230.93 375.69,1231.04 377.31,1230.99" fill="none" stroke="#7e2f8e" stroke-width="1.8" stroke-linejoin="round"/>
<path d="M55.2 1039.8H413.1V1307.2H55.2ZM55.2 1307.2v-4.4M55.2 1039.8v4.4M126.78 1307.2v-4.4M126.78 1039.8v4.4M198.36 1307.2v-4.4M198.36 1039.8v4.4M269.94 1307.2v-4.4M269.94 1039.8v4.4M341.52 1307.2v-4.4M341.52 1039.8v4.4M413.1 1307.2v-4.4M413.1 1039.8v4.4M55.2 1307.2h4.4M55.2 1253.72h4.4M55.2 1200.24h4.4M55.2 1146.76h4.4M55.2 1093.28h4.4M55.2 1039.8h4.4M413.1 1307.2h-4.4M413.1 1253.72h-4.4M413.1 1200.24h-4.4M413.1 1146.76h-4.4M413.1 1093.28h-4.4M413.1 1039.8h-4.4" stroke="#262626" stroke-width="1.6" fill="none" stroke-linejoin="miter"/>
<text x="55.2" y="1329.6" font-size="16.0" text-anchor="middle" fill="#262626" stroke="#262626" stroke-width="0.32">0</text>
<text x="126.78" y="1329.6" font-size="16.0" text-anchor="middle" fill="#262626" stroke="#262626" stroke-width="0.32">0.2</text>
<text x="198.36" y="1329.6" font-size="16.0" text-anchor="middle" fill="#262626" stroke="#262626" stroke-width="0.32">0.4</text>
<text x="269.94" y="1329.6" font-size="16.0" text-anchor="middle" fill="#262626" stroke="#262626" stroke-width="0.32">0.6</text>
<text x="341.52" y="1329.6" font-size="16.0" text-anchor="middle" fill="#262626" stroke="#262626" stroke-width="0.32">0.8</text>
<text x="413.1" y="1329.6" font-size="16.0" text-anchor="middle" fill="#262626" stroke="#262626" stroke-width="0.32">1</text>
<text x="49.2" y="1312.96" font-size="16.0" text-anchor="end" fill="#262626" stroke="#262626" stroke-width="0.32">0</text>
<text x="49.2" y="1259.48" font-size="16.0" text-anchor="end" fill="#262626" stroke="#262626" stroke-width="0.32">0.2</text>
<text x="49.2" y="1206" font-size="16.0" text-anchor="end" fill="#262626" stroke="#262626" stroke-width="0.32">0.4</text>
<text x="49.2" y="1152.52" font-size="16.0" text-anchor="end" fill="#262626" stroke="#262626" stroke-width="0.32">0.6</text>
<text x="49.2" y="1099.04" font-size="16.0" text-anchor="end" fill="#262626" stroke="#262626" stroke-width="0.32">0.8</text>
<text x="49.2" y="1045.56" font-size="16.0" text-anchor="end" fill="#262626" stroke="#262626" stroke-width="0.32">1</text>
<text x="234.15" y="1355.5" font-size="17.8" text-anchor="middle" fill="#262626" stroke="#262626" stroke-width="0.36">frequency (min<tspan dx="1.5" dy="-7" font-size="14.24">-1</tspan><tspan dx="2.4" dy="7">)</tspan></text>
<text transform="translate(21 1173.5) rotate(-90)" font-size="18.0" text-anchor="middle" fill="#262626" stroke="#262626" stroke-width="0.36">magnitude-squared coherence</text>
<text x="19.5" y="1031" font-size="18.4" text-anchor="start" fill="#000" stroke="#000" stroke-width="0.37">m</text>
<path d="M992.74 1040V1308.6M1064.68 1040V1308.6M1136.62 1040V1308.6M1208.56 1040V1308.6" stroke="#262626" stroke-opacity="0.17" stroke-width="1.5" fill="none"/>
<path d="M920.8 1254.88H1280.5M920.8 1201.16H1280.5M920.8 1147.44H1280.5M920.8 1093.72H1280.5" stroke="#262626" stroke-opacity="0.17" stroke-width="1.5" fill="none"/>
<polyline points="920.8,1047.52 922.29,1047.77 923.78,1048.03 925.26,1048.32 926.75,1048.63 928.24,1048.96 929.73,1049.32 931.21,1049.7 932.7,1050.11 934.19,1050.54 935.68,1051.01 937.16,1051.51 938.65,1052.04 940.14,1052.6 941.63,1053.2 943.11,1053.83 944.6,1054.5 946.09,1055.2 947.58,1055.95 949.06,1056.73 950.55,1057.56 952.04,1058.43 953.53,1059.34 955.01,1060.3 956.5,1061.3 957.99,1062.35 959.48,1063.44 960.97,1064.57 962.45,1065.71 963.94,1066.87 965.43,1068.04 966.92,1069.2 968.4,1070.35 969.89,1071.48 971.38,1072.58 972.87,1073.64 974.35,1074.65 975.84,1075.61 977.33,1076.51 978.82,1077.34 980.3,1078.1 981.79,1078.78 983.28,1079.38 984.77,1079.89 986.25,1080.3 987.74,1080.62 989.23,1080.84 990.72,1080.95 992.2,1080.97 993.69,1080.93 995.18,1080.83 996.67,1080.71 998.16,1080.57 999.64,1080.45 1001.13,1080.35 1002.62,1080.29 1004.11,1080.3 1005.59,1080.4 1007.08,1080.58 1008.57,1080.87 1010.06,1081.27 1011.54,1081.79 1013.03,1082.44 1014.52,1083.24 1016.01,1084.19 1017.49,1085.31 1018.98,1086.6 1020.47,1088.06 1021.96,1089.68 1023.44,1091.45 1024.93,1093.36 1026.42,1095.39 1027.91,1097.54 1029.4,1099.79 1030.88,1102.14 1032.37,1104.57 1033.86,1107.07 1035.35,1109.65 1036.83,1112.29 1038.32,1114.99 1039.81,1117.76 1041.3,1120.59 1042.78,1123.48 1044.27,1126.42 1045.76,1129.41 1047.25,1132.46 1048.73,1135.55 1050.22,1138.66 1051.71,1141.77 1053.2,1144.87 1054.68,1147.93 1056.17,1150.95 1057.66,1153.89 1059.15,1156.74 1060.63,1159.49 1062.12,1162.1 1063.61,1164.57 1065.1,1166.87 1066.59,1169 1068.07,1170.98 1069.56,1172.82 1071.05,1174.55 1072.54,1176.19 1074.02,1177.75 1075.51,1179.25 1077,1180.73 1078.49,1182.19 1079.97,1183.65 1081.46,1185.15 1082.95,1186.68 1084.44,1188.28 1085.92,1189.94 1087.41,1191.66 1088.9,1193.43 1090.39,1195.26 1091.87,1197.14 1093.36,1199.07 1094.85,1201.05 1096.34,1203.08 1097.82,1205.16 1099.31,1207.28 1100.8,1209.44 1102.29,1211.64 1103.78,1213.85 1105.26,1216.08 1106.75,1218.29 1108.24,1220.47 1109.73,1222.6 1111.21,1224.66 1112.7,1226.65 1114.19,1228.53 1115.68,1230.3 1117.16,1231.93 1118.65,1233.41 1120.14,1234.72 1121.63,1235.88 1123.11,1236.89 1124.6,1237.77 1126.09,1238.53 1127.58,1239.17 1129.06,1239.72 1130.55,1240.19 1132.04,1240.58 1133.53,1240.91 1135.01,1241.19 1136.5,1241.43 1137.99,1241.65 1139.48,1241.85 1140.97,1242.03 1142.45,1242.22 1143.94,1242.41 1145.43,1242.62 1146.92,1242.85 1148.4,1243.1 1149.89,1243.4 1151.38,1243.74 1152.87,1244.13 1154.35,1244.59 1155.84,1245.11 1157.33,1245.7 1158.82,1246.36 1160.3,1247.07 1161.79,1247.85 1163.28,1248.68 1164.77,1249.55 1166.25,1250.48 1167.74,1251.45 1169.23,1252.46 1170.72,1253.51 1172.2,1254.59 1173.69,1255.71 1175.18,1256.85 1176.67,1258 1178.16,1259.17 1179.64,1260.34 1181.13,1261.5 1182.62,1262.65 1184.11,1263.79 1185.59,1264.89 1187.08,1265.97 1188.57,1267 1190.06,1267.98 1191.54,1268.91 1193.03,1269.78 1194.52,1270.59 1196.01,1271.34 1197.49,1272.04 1198.98,1272.69 1200.47,1273.28 1201.96,1273.81 1203.44,1274.3 1204.93,1274.73 1206.42,1275.11 1207.91,1275.43 1209.4,1275.71 1210.88,1275.94 1212.37,1276.12 1213.86,1276.25 1215.35,1276.33 1216.83,1276.37" fill="none" stroke="#0072bd" stroke-width="1.8" stroke-linejoin="round"/>
<polyline points="920.8,1174.3 922.29,1174.34 923.78,1174.3 925.26,1174.2 926.75,1174.04 928.24,1173.82 929.73,1173.57 931.21,1173.28 932.7,1172.97 934.19,1172.65 935.68,1172.31 937.16,1171.97 938.65,1171.64 940.14,1171.33 941.63,1171.04 943.11,1170.79 944.6,1170.58 946.09,1170.41 947.58,1170.31 949.06,1170.27 950.55,1170.3 952.04,1170.41 953.53,1170.61 955.01,1170.88 956.5,1171.23 957.99,1171.67 959.48,1172.19 960.97,1172.8 962.45,1173.5 963.94,1174.29 965.43,1175.16 966.92,1176.12 968.4,1177.14 969.89,1178.23 971.38,1179.36 972.87,1180.54 974.35,1181.74 975.84,1182.96 977.33,1184.2 978.82,1185.43 980.3,1186.65 981.79,1187.86 983.28,1189.05 984.77,1190.21 986.25,1191.34 987.74,1192.44 989.23,1193.49 990.72,1194.5 992.2,1195.46 993.69,1196.36 995.18,1197.19 996.67,1197.94 998.16,1198.6 999.64,1199.15 1001.13,1199.58 1002.62,1199.88 1004.11,1200.03 1005.59,1200.01 1007.08,1199.83 1008.57,1199.45 1010.06,1198.91 1011.54,1198.2 1013.03,1197.35 1014.52,1196.36 1016.01,1195.26 1017.49,1194.06 1018.98,1192.77 1020.47,1191.41 1021.96,1189.99 1023.44,1188.53 1024.93,1187.04 1026.42,1185.54 1027.91,1184.05 1029.4,1182.6 1030.88,1181.18 1032.37,1179.83 1033.86,1178.57 1035.35,1177.4 1036.83,1176.34 1038.32,1175.41 1039.81,1174.59 1041.3,1173.88 1042.78,1173.27 1044.27,1172.76 1045.76,1172.35 1047.25,1172.02 1048.73,1171.78 1050.22,1171.62 1051.71,1171.53 1053.2,1171.52 1054.68,1171.58 1056.17,1171.73 1057.66,1171.97 1059.15,1172.29 1060.63,1172.7 1062.12,1173.2 1063.61,1173.81 1065.1,1174.51 1066.59,1175.31 1068.07,1176.2 1069.56,1177.19 1071.05,1178.25 1072.54,1179.38 1074.02,1180.58 1075.51,1181.84 1077,1183.15 1078.49,1184.5 1079.97,1185.9 1081.46,1187.33 1082.95,1188.81 1084.44,1190.34 1085.92,1191.94 1087.41,1193.59 1088.9,1195.33 1090.39,1197.14 1091.87,1199.04 1093.36,1201.03 1094.85,1203.12 1096.34,1205.29 1097.82,1207.52 1099.31,1209.8 1100.8,1212.09 1102.29,1214.39 1103.78,1216.67 1105.26,1218.91 1106.75,1221.09 1108.24,1223.2 1109.73,1225.21 1111.21,1227.11 1112.7,1228.91 1114.19,1230.6 1115.68,1232.16 1117.16,1233.59 1118.65,1234.89 1120.14,1236.05 1121.63,1237.06 1123.11,1237.91 1124.6,1238.61 1126.09,1239.19 1127.58,1239.64 1129.06,1240 1130.55,1240.28 1132.04,1240.49 1133.53,1240.66 1135.01,1240.79 1136.5,1240.9 1137.99,1241.02 1139.48,1241.14 1140.97,1241.28 1142.45,1241.43 1143.94,1241.59 1145.43,1241.79 1146.92,1242.01 1148.4,1242.26 1149.89,1242.55 1151.38,1242.88 1152.87,1243.26 1154.35,1243.69 1155.84,1244.18 1157.33,1244.75 1158.82,1245.41 1160.3,1246.15 1161.79,1246.99 1163.28,1247.95 1164.77,1249.02 1166.25,1250.22 1167.74,1251.54 1169.23,1252.98 1170.72,1254.52 1172.2,1256.16 1173.69,1257.89 1175.18,1259.69 1176.67,1261.55 1178.16,1263.47 1179.64,1265.44 1181.13,1267.43 1182.62,1269.46 1184.11,1271.49 1185.59,1273.51 1187.08,1275.52 1188.57,1277.49 1190.06,1279.42 1191.54,1281.3 1193.03,1283.1 1194.52,1284.82 1196.01,1286.44 1197.49,1287.98 1198.98,1289.41 1200.47,1290.76 1201.96,1292.02 1203.44,1293.18 1204.93,1294.26 1206.42,1295.25 1207.91,1296.15 1209.4,1296.96 1210.88,1297.68 1212.37,1298.32 1213.86,1298.88 1215.35,1299.35 1216.83,1299.74" fill="none" stroke="#d95319" stroke-width="1.8" stroke-linejoin="round"/>
<polyline points="920.8,1166.24 922.29,1166.17 923.78,1165.86 925.26,1165.31 926.75,1164.55 928.24,1163.6 929.73,1162.48 931.21,1161.21 932.7,1159.81 934.19,1158.3 935.68,1156.7 937.16,1155.03 938.65,1153.31 940.14,1151.56 941.63,1149.79 943.11,1148.04 944.6,1146.31 946.09,1144.63 947.58,1143.02 949.06,1141.48 950.55,1140.01 952.04,1138.63 953.53,1137.34 955.01,1136.14 956.5,1135.04 957.99,1134.04 959.48,1133.15 960.97,1132.37 962.45,1131.7 963.94,1131.15 965.43,1130.71 966.92,1130.37 968.4,1130.14 969.89,1130.01 971.38,1129.98 972.87,1130.05 974.35,1130.22 975.84,1130.5 977.33,1130.89 978.82,1131.41 980.3,1132.04 981.79,1132.81 983.28,1133.71 984.77,1134.75 986.25,1135.94 987.74,1137.27 989.23,1138.74 990.72,1140.34 992.2,1142.07 993.69,1143.92 995.18,1145.88 996.67,1147.94 998.16,1150.1 999.64,1152.36 1001.13,1154.7 1002.62,1157.12 1004.11,1159.59 1005.59,1162.1 1007.08,1164.65 1008.57,1167.21 1010.06,1169.77 1011.54,1172.32 1013.03,1174.84 1014.52,1177.31 1016.01,1179.73 1017.49,1182.1 1018.98,1184.42 1020.47,1186.69 1021.96,1188.91 1023.44,1191.09 1024.93,1193.22 1026.42,1195.32 1027.91,1197.38 1029.4,1199.4 1030.88,1201.38 1032.37,1203.28 1033.86,1205.09 1035.35,1206.77 1036.83,1208.29 1038.32,1209.64 1039.81,1210.78 1041.3,1211.7 1042.78,1212.4 1044.27,1212.89 1045.76,1213.19 1047.25,1213.3 1048.73,1213.22 1050.22,1212.98 1051.71,1212.55 1053.2,1211.95 1054.68,1211.18 1056.17,1210.22 1057.66,1209.08 1059.15,1207.76 1060.63,1206.31 1062.12,1204.78 1063.61,1203.2 1065.1,1201.62 1066.59,1200.09 1068.07,1198.66 1069.56,1197.37 1071.05,1196.23 1072.54,1195.28 1074.02,1194.52 1075.51,1193.98 1077,1193.67 1078.49,1193.61 1079.97,1193.83 1081.46,1194.36 1082.95,1195.22 1084.44,1196.44 1085.92,1198.05 1087.41,1200.08 1088.9,1202.51 1090.39,1205.35 1091.87,1208.58 1093.36,1212.18 1094.85,1216.14 1096.34,1220.45 1097.82,1225.1 1099.31,1230.03 1100.8,1235.19 1102.29,1240.48 1103.78,1245.84 1105.26,1251.2 1106.75,1256.47 1108.24,1261.59 1109.73,1266.49 1111.21,1271.15 1112.7,1275.53 1114.19,1279.62 1115.68,1283.38 1117.16,1286.8 1118.65,1289.83 1120.14,1292.47 1121.63,1294.74 1123.11,1296.67 1124.6,1298.3 1126.09,1299.65 1127.58,1300.77 1129.06,1301.69 1130.55,1302.43 1132.04,1303.03 1133.53,1303.5 1135.01,1303.85 1136.5,1304.11 1137.99,1304.29 1139.48,1304.4 1140.97,1304.48 1142.45,1304.53 1143.94,1304.57 1145.43,1304.62 1146.92,1304.68 1148.4,1304.73 1149.89,1304.77 1151.38,1304.79 1152.87,1304.8 1154.35,1304.78 1155.84,1304.73 1157.33,1304.64 1158.82,1304.51 1160.3,1304.33 1161.79,1304.11 1163.28,1303.82 1164.77,1303.48 1166.25,1303.07 1167.74,1302.6 1169.23,1302.06 1170.72,1301.44 1172.2,1300.74 1173.69,1299.96 1175.18,1299.1 1176.67,1298.18 1178.16,1297.21 1179.64,1296.21 1181.13,1295.18 1182.62,1294.14 1184.11,1293.1 1185.59,1292.07 1187.08,1291.07 1188.57,1290.11 1190.06,1289.2 1191.54,1288.37 1193.03,1287.62 1194.52,1286.97 1196.01,1286.45 1197.49,1286.06 1198.98,1285.82 1200.47,1285.74 1201.96,1285.83 1203.44,1286.06 1204.93,1286.41 1206.42,1286.86 1207.91,1287.4 1209.4,1287.99 1210.88,1288.62 1212.37,1289.27 1213.86,1289.92 1215.35,1290.55 1216.83,1291.14" fill="none" stroke="#edb120" stroke-width="1.8" stroke-linejoin="round"/>
<polyline points="920.8,1072.23 922.29,1072.33 923.78,1072.47 925.26,1072.65 926.75,1072.88 928.24,1073.14 929.73,1073.44 931.21,1073.79 932.7,1074.18 934.19,1074.61 935.68,1075.08 937.16,1075.59 938.65,1076.15 940.14,1076.76 941.63,1077.4 943.11,1078.1 944.6,1078.83 946.09,1079.62 947.58,1080.45 949.06,1081.32 950.55,1082.24 952.04,1083.2 953.53,1084.19 955.01,1085.2 956.5,1086.22 957.99,1087.23 959.48,1088.22 960.97,1089.2 962.45,1090.13 963.94,1091.02 965.43,1091.85 966.92,1092.62 968.4,1093.32 969.89,1093.93 971.38,1094.46 972.87,1094.9 974.35,1095.24 975.84,1095.47 977.33,1095.59 978.82,1095.59 980.3,1095.46 981.79,1095.2 983.28,1094.83 984.77,1094.33 986.25,1093.72 987.74,1092.99 989.23,1092.14 990.72,1091.18 992.2,1090.1 993.69,1088.92 995.18,1087.65 996.67,1086.31 998.16,1084.94 999.64,1083.56 1001.13,1082.21 1002.62,1080.92 1004.11,1079.7 1005.59,1078.6 1007.08,1077.63 1008.57,1076.83 1010.06,1076.19 1011.54,1075.69 1013.03,1075.32 1014.52,1075.08 1016.01,1074.95 1017.49,1074.91 1018.98,1074.96 1020.47,1075.1 1021.96,1075.32 1023.44,1075.64 1024.93,1076.06 1026.42,1076.58 1027.91,1077.22 1029.4,1077.96 1030.88,1078.82 1032.37,1079.77 1033.86,1080.81 1035.35,1081.91 1036.83,1083.07 1038.32,1084.26 1039.81,1085.48 1041.3,1086.71 1042.78,1087.94 1044.27,1089.15 1045.76,1090.32 1047.25,1091.45 1048.73,1092.52 1050.22,1093.55 1051.71,1094.54 1053.2,1095.51 1054.68,1096.47 1056.17,1097.41 1057.66,1098.36 1059.15,1099.32 1060.63,1100.29 1062.12,1101.3 1063.61,1102.34 1065.1,1103.43 1066.59,1104.58 1068.07,1105.79 1069.56,1107.09 1071.05,1108.47 1072.54,1109.95 1074.02,1111.54 1075.51,1113.25 1077,1115.09 1078.49,1117.08 1079.97,1119.21 1081.46,1121.51 1082.95,1123.99 1084.44,1126.65 1085.92,1129.51 1087.41,1132.58 1088.9,1135.87 1090.39,1139.39 1091.87,1143.16 1093.36,1147.18 1094.85,1151.46 1096.34,1156.02 1097.82,1160.86 1099.31,1165.97 1100.8,1171.38 1102.29,1177.08 1103.78,1183.08 1105.26,1189.38 1106.75,1195.93 1108.24,1202.65 1109.73,1209.47 1111.21,1216.31 1112.7,1223.08 1114.19,1229.7 1115.68,1236.11 1117.16,1242.24 1118.65,1248.06 1120.14,1253.55 1121.63,1258.68 1123.11,1263.42 1124.6,1267.75 1126.09,1271.64 1127.58,1275.08 1129.06,1278.11 1130.55,1280.76 1132.04,1283.06 1133.53,1285.07 1135.01,1286.82 1136.5,1288.34 1137.99,1289.68 1139.48,1290.84 1140.97,1291.84 1142.45,1292.67 1143.94,1293.35 1145.43,1293.88 1146.92,1294.27 1148.4,1294.52 1149.89,1294.63 1151.38,1294.59 1152.87,1294.41 1154.35,1294.08 1155.84,1293.59 1157.33,1292.94 1158.82,1292.13 1160.3,1291.14 1161.79,1289.97 1163.28,1288.63 1164.77,1287.11 1166.25,1285.39 1167.74,1283.49 1169.23,1281.39 1170.72,1279.11 1172.2,1276.66 1173.69,1274.09 1175.18,1271.42 1176.67,1268.7 1178.16,1265.94 1179.64,1263.2 1181.13,1260.49 1182.62,1257.84 1184.11,1255.27 1185.59,1252.8 1187.08,1250.44 1188.57,1248.22 1190.06,1246.16 1191.54,1244.27 1193.03,1242.55 1194.52,1241.01 1196.01,1239.64 1197.49,1238.44 1198.98,1237.41 1200.47,1236.53 1201.96,1235.81 1203.44,1235.24 1204.93,1234.8 1206.42,1234.48 1207.91,1234.27 1209.4,1234.13 1210.88,1234.07 1212.37,1234.06 1213.86,1234.09 1215.35,1234.14 1216.83,1234.2" fill="none" stroke="#7e2f8e" stroke-width="1.8" stroke-linejoin="round"/>
<polyline points="920.8,1052.62 922.29,1052.68 923.78,1052.76 925.26,1052.89 926.75,1053.05 928.24,1053.25 929.73,1053.49 931.21,1053.78 932.7,1054.11 934.19,1054.49 935.68,1054.92 937.16,1055.39 938.65,1055.92 940.14,1056.5 941.63,1057.13 943.11,1057.82 944.6,1058.56 946.09,1059.37 947.58,1060.23 949.06,1061.16 950.55,1062.14 952.04,1063.19 953.53,1064.3 955.01,1065.47 956.5,1066.69 957.99,1067.97 959.48,1069.29 960.97,1070.67 962.45,1072.09 963.94,1073.55 965.43,1075.06 966.92,1076.6 968.4,1078.19 969.89,1079.81 971.38,1081.47 972.87,1083.16 974.35,1084.89 975.84,1086.65 977.33,1088.44 978.82,1090.26 980.3,1092.11 981.79,1093.98 983.28,1095.85 984.77,1097.71 986.25,1099.56 987.74,1101.38 989.23,1103.16 990.72,1104.89 992.2,1106.57 993.69,1108.17 995.18,1109.7 996.67,1111.15 998.16,1112.53 999.64,1113.83 1001.13,1115.06 1002.62,1116.21 1004.11,1117.28 1005.59,1118.28 1007.08,1119.21 1008.57,1120.06 1010.06,1120.83 1011.54,1121.54 1013.03,1122.17 1014.52,1122.74 1016.01,1123.25 1017.49,1123.69 1018.98,1124.08 1020.47,1124.41 1021.96,1124.69 1023.44,1124.92 1024.93,1125.11 1026.42,1125.28 1027.91,1125.43 1029.4,1125.58 1030.88,1125.74 1032.37,1125.92 1033.86,1126.13 1035.35,1126.38 1036.83,1126.69 1038.32,1127.05 1039.81,1127.49 1041.3,1127.98 1042.78,1128.56 1044.27,1129.2 1045.76,1129.93 1047.25,1130.74 1048.73,1131.63 1050.22,1132.62 1051.71,1133.7 1053.2,1134.86 1054.68,1136.11 1056.17,1137.43 1057.66,1138.82 1059.15,1140.27 1060.63,1141.78 1062.12,1143.33 1063.61,1144.93 1065.1,1146.56 1066.59,1148.22 1068.07,1149.91 1069.56,1151.63 1071.05,1153.39 1072.54,1155.19 1074.02,1157.02 1075.51,1158.9 1077,1160.82 1078.49,1162.78 1079.97,1164.78 1081.46,1166.84 1082.95,1168.93 1084.44,1171.08 1085.92,1173.27 1087.41,1175.5 1088.9,1177.78 1090.39,1180.11 1091.87,1182.48 1093.36,1184.89 1094.85,1187.35 1096.34,1189.88 1097.82,1192.48 1099.31,1195.2 1100.8,1198.03 1102.29,1201.01 1103.78,1204.15 1105.26,1207.48 1106.75,1210.99 1108.24,1214.67 1109.73,1218.51 1111.21,1222.51 1112.7,1226.64 1114.19,1230.9 1115.68,1235.28 1117.16,1239.76 1118.65,1244.28 1120.14,1248.79 1121.63,1253.26 1123.11,1257.63 1124.6,1261.85 1126.09,1265.83 1127.58,1269.37 1129.06,1272.28 1130.55,1274.39 1132.04,1275.5 1133.53,1275.55 1135.01,1274.55 1136.5,1272.54 1137.99,1269.57 1139.48,1265.8 1140.97,1261.44 1142.45,1256.7 1143.94,1251.77 1145.43,1246.85 1146.92,1242.07 1148.4,1237.57 1149.89,1233.46 1151.38,1229.87 1152.87,1226.9 1154.35,1224.57 1155.84,1222.9 1157.33,1221.91 1158.82,1221.6 1160.3,1221.98 1161.79,1223 1163.28,1224.65 1164.77,1226.89 1166.25,1229.72 1167.74,1233.02 1169.23,1236.67 1170.72,1240.53 1172.2,1244.47 1173.69,1248.34 1175.18,1252.12 1176.67,1255.78 1178.16,1259.35 1179.64,1262.8 1181.13,1266.15 1182.62,1269.38 1184.11,1272.5 1185.59,1275.5 1187.08,1278.37 1188.57,1281.09 1190.06,1283.66 1191.54,1286.04 1193.03,1288.25 1194.52,1290.25 1196.01,1292.04 1197.49,1293.64 1198.98,1295.06 1200.47,1296.31 1201.96,1297.41 1203.44,1298.36 1204.93,1299.18 1206.42,1299.89 1207.91,1300.5 1209.4,1301.01 1210.88,1301.45 1212.37,1301.82 1213.86,1302.14 1215.35,1302.43 1216.83,1302.69" fill="none" stroke="#77ac30" stroke-width="1.8" stroke-linejoin="round"/>
<polyline points="920.8,1072.77 922.29,1072.37 923.78,1071.87 925.26,1071.3 926.75,1070.65 928.24,1069.94 929.73,1069.19 931.21,1068.41 932.7,1067.6 934.19,1066.8 935.68,1066 937.16,1065.22 938.65,1064.47 940.14,1063.77 941.63,1063.13 943.11,1062.56 944.6,1062.07 946.09,1061.66 947.58,1061.34 949.06,1061.11 950.55,1060.97 952.04,1060.92 953.53,1060.97 955.01,1061.12 956.5,1061.37 957.99,1061.72 959.48,1062.18 960.97,1062.73 962.45,1063.39 963.94,1064.16 965.43,1065.03 966.92,1066.02 968.4,1067.14 969.89,1068.39 971.38,1069.79 972.87,1071.35 974.35,1073.08 975.84,1074.98 977.33,1077.06 978.82,1079.29 980.3,1081.67 981.79,1084.18 983.28,1086.82 984.77,1089.56 986.25,1092.4 987.74,1095.33 989.23,1098.38 990.72,1101.57 992.2,1104.92 993.69,1108.44 995.18,1112.17 996.67,1116.1 998.16,1120.27 999.64,1124.67 1001.13,1129.29 1002.62,1134.13 1004.11,1139.19 1005.59,1144.46 1007.08,1149.95 1008.57,1155.64 1010.06,1161.48 1011.54,1167.44 1013.03,1173.47 1014.52,1179.51 1016.01,1185.51 1017.49,1191.43 1018.98,1197.23 1020.47,1202.87 1021.96,1208.34 1023.44,1213.63 1024.93,1218.73 1026.42,1223.62 1027.91,1228.28 1029.4,1232.72 1030.88,1236.88 1032.37,1240.71 1033.86,1244.16 1035.35,1247.16 1036.83,1249.67 1038.32,1251.68 1039.81,1253.23 1041.3,1254.37 1042.78,1255.14 1044.27,1255.59 1045.76,1255.75 1047.25,1255.66 1048.73,1255.38 1050.22,1254.95 1051.71,1254.42 1053.2,1253.82 1054.68,1253.21 1056.17,1252.6 1057.66,1252.01 1059.15,1251.44 1060.63,1250.88 1062.12,1250.35 1063.61,1249.85 1065.1,1249.38 1066.59,1248.95 1068.07,1248.54 1069.56,1248.15 1071.05,1247.77 1072.54,1247.38 1074.02,1246.99 1075.51,1246.58 1077,1246.15 1078.49,1245.67 1079.97,1245.16 1081.46,1244.6 1082.95,1244.01 1084.44,1243.38 1085.92,1242.74 1087.41,1242.07 1088.9,1241.39 1090.39,1240.7 1091.87,1240.02 1093.36,1239.34 1094.85,1238.68 1096.34,1238.05 1097.82,1237.48 1099.31,1236.97 1100.8,1236.56 1102.29,1236.26 1103.78,1236.1 1105.26,1236.09 1106.75,1236.23 1108.24,1236.54 1109.73,1237.02 1111.21,1237.66 1112.7,1238.48 1114.19,1239.47 1115.68,1240.63 1117.16,1241.96 1118.65,1243.44 1120.14,1245.06 1121.63,1246.79 1123.11,1248.63 1124.6,1250.56 1126.09,1252.55 1127.58,1254.59 1129.06,1256.7 1130.55,1258.86 1132.04,1261.08 1133.53,1263.36 1135.01,1265.71 1136.5,1268.12 1137.99,1270.59 1139.48,1273.1 1140.97,1275.61 1142.45,1278.1 1143.94,1280.52 1145.43,1282.86 1146.92,1285.07 1148.4,1287.12 1149.89,1289 1151.38,1290.69 1152.87,1292.19 1154.35,1293.47 1155.84,1294.52 1157.33,1295.34 1158.82,1295.91 1160.3,1296.22 1161.79,1296.26 1163.28,1296.02 1164.77,1295.48 1166.25,1294.65 1167.74,1293.53 1169.23,1292.1 1170.72,1290.4 1172.2,1288.4 1173.69,1286.14 1175.18,1283.6 1176.67,1280.81 1178.16,1277.77 1179.64,1274.54 1181.13,1271.17 1182.62,1267.72 1184.11,1264.22 1185.59,1260.75 1187.08,1257.33 1188.57,1254.03 1190.06,1250.87 1191.54,1247.86 1193.03,1245.02 1194.52,1242.39 1196.01,1239.97 1197.49,1237.8 1198.98,1235.87 1200.47,1234.2 1201.96,1232.75 1203.44,1231.51 1204.93,1230.46 1206.42,1229.58 1207.91,1228.84 1209.4,1228.23 1210.88,1227.73 1212.37,1227.32 1213.86,1226.97 1215.35,1226.68 1216.83,1226.41" fill="none" stroke="#4dbeee" stroke-width="1.8" stroke-linejoin="round"/>
<path d="M920.8 1040H1280.5V1308.6H920.8ZM920.8 1308.6v-4.4M920.8 1040v4.4M992.74 1308.6v-4.4M992.74 1040v4.4M1064.68 1308.6v-4.4M1064.68 1040v4.4M1136.62 1308.6v-4.4M1136.62 1040v4.4M1208.56 1308.6v-4.4M1208.56 1040v4.4M1280.5 1308.6v-4.4M1280.5 1040v4.4M920.8 1308.6h4.4M920.8 1254.88h4.4M920.8 1201.16h4.4M920.8 1147.44h4.4M920.8 1093.72h4.4M920.8 1040h4.4M1280.5 1308.6h-4.4M1280.5 1254.88h-4.4M1280.5 1201.16h-4.4M1280.5 1147.44h-4.4M1280.5 1093.72h-4.4M1280.5 1040h-4.4" stroke="#262626" stroke-width="1.6" fill="none" stroke-linejoin="miter"/>
<text x="920.8" y="1331" font-size="16.0" text-anchor="middle" fill="#262626" stroke="#262626" stroke-width="0.32">0</text>
<text x="992.74" y="1331" font-size="16.0" text-anchor="middle" fill="#262626" stroke="#262626" stroke-width="0.32">0.2</text>
<text x="1064.68" y="1331" font-size="16.0" text-anchor="middle" fill="#262626" stroke="#262626" stroke-width="0.32">0.4</text>
<text x="1136.62" y="1331" font-size="16.0" text-anchor="middle" fill="#262626" stroke="#262626" stroke-width="0.32">0.6</text>
<text x="1208.56" y="1331" font-size="16.0" text-anchor="middle" fill="#262626" stroke="#262626" stroke-width="0.32">0.8</text>
<text x="1280.5" y="1331" font-size="16.0" text-anchor="middle" fill="#262626" stroke="#262626" stroke-width="0.32">1</text>
<text x="914.8" y="1314.36" font-size="16.0" text-anchor="end" fill="#262626" stroke="#262626" stroke-width="0.32">0</text>
<text x="914.8" y="1260.64" font-size="16.0" text-anchor="end" fill="#262626" stroke="#262626" stroke-width="0.32">0.2</text>
<text x="914.8" y="1206.92" font-size="16.0" text-anchor="end" fill="#262626" stroke="#262626" stroke-width="0.32">0.4</text>
<text x="914.8" y="1153.2" font-size="16.0" text-anchor="end" fill="#262626" stroke="#262626" stroke-width="0.32">0.6</text>
<text x="914.8" y="1099.48" font-size="16.0" text-anchor="end" fill="#262626" stroke="#262626" stroke-width="0.32">0.8</text>
<text x="914.8" y="1045.76" font-size="16.0" text-anchor="end" fill="#262626" stroke="#262626" stroke-width="0.32">1</text>
<text x="1100.65" y="1357.9" font-size="17.8" text-anchor="middle" fill="#262626" stroke="#262626" stroke-width="0.36">frequency (min<tspan dx="1.5" dy="-7" font-size="14.24">-1</tspan><tspan dx="2.4" dy="7">)</tspan></text>
<text transform="translate(886 1174.3) rotate(-90)" font-size="18.0" text-anchor="middle" fill="#262626" stroke="#262626" stroke-width="0.36">magnitude-squared coherence</text>
<text x="886" y="1031" font-size="18.4" text-anchor="start" fill="#000" stroke="#000" stroke-width="0.37">o</text>
<path d="M483.9 1039.4H853.7V1307.3H483.9ZM514.72 1307.3v-4.4M514.72 1039.4v4.4M576.35 1307.3v-4.4M576.35 1039.4v4.4M637.98 1307.3v-4.4M637.98 1039.4v4.4M699.62 1307.3v-4.4M699.62 1039.4v4.4M761.25 1307.3v-4.4M761.25 1039.4v4.4M822.88 1307.3v-4.4M822.88 1039.4v4.4M483.9 1269.37h4.4M483.9 1225.53h4.4M483.9 1181.68h4.4M483.9 1137.83h4.4M483.9 1093.99h4.4M483.9 1050.14h4.4M853.7 1269.37h-4.4M853.7 1225.53h-4.4M853.7 1181.68h-4.4M853.7 1137.83h-4.4M853.7 1093.99h-4.4M853.7 1050.14h-4.4" stroke="#262626" stroke-width="1.6" fill="none" stroke-linejoin="miter"/>
<text x="479.7" y="1273.97" font-size="17" text-anchor="end" fill="#262626" font-family='"Liberation Serif", serif' letter-spacing="0.3" stroke="none" stroke-width="0">0.2</text>
<text x="479.7" y="1230.13" font-size="17" text-anchor="end" fill="#262626" font-family='"Liberation Serif", serif' letter-spacing="0.3" stroke="none" stroke-width="0">0.3</text>
<text x="479.7" y="1186.28" font-size="17" text-anchor="end" fill="#262626" font-family='"Liberation Serif", serif' letter-spacing="0.3" stroke="none" stroke-width="0">0.4</text>
<text x="479.7" y="1142.43" font-size="17" text-anchor="end" fill="#262626" font-family='"Liberation Serif", serif' letter-spacing="0.3" stroke="none" stroke-width="0">0.5</text>
<text x="479.7" y="1098.59" font-size="17" text-anchor="end" fill="#262626" font-family='"Liberation Serif", serif' letter-spacing="0.3" stroke="none" stroke-width="0">0.6</text>
<text x="479.7" y="1054.74" font-size="17" text-anchor="end" fill="#262626" font-family='"Liberation Serif", serif' letter-spacing="0.3" stroke="none" stroke-width="0">0.7</text>
<text transform="translate(522.62 1324.45) rotate(-30)" font-size="16.8" text-anchor="end" fill="#262626" font-family='"Liberation Serif", serif' letter-spacing="0.75" stroke="#262626" stroke-width="0.08">1<tspan font-style="italic" font-size="12" dy="-6.5">st</tspan><tspan dy="6.5"> fission peak</tspan></text>
<text transform="translate(584.25 1324.45) rotate(-30)" font-size="16.8" text-anchor="end" fill="#262626" font-family='"Liberation Serif", serif' letter-spacing="0.75" stroke="#262626" stroke-width="0.08">2<tspan font-style="italic" font-size="12" dy="-6.5">nd</tspan><tspan dy="6.5"> fission peak</tspan></text>
<text transform="translate(645.88 1324.45) rotate(-30)" font-size="16.8" text-anchor="end" fill="#262626" font-family='"Liberation Serif", serif' letter-spacing="0.75" stroke="#262626" stroke-width="0.08">3<tspan font-style="italic" font-size="12" dy="-6.5">rd</tspan><tspan dy="6.5"> fission peak</tspan></text>
<text transform="translate(707.52 1324.45) rotate(-30)" font-size="16.8" text-anchor="end" fill="#262626" font-family='"Liberation Serif", serif' letter-spacing="0.75" stroke="#262626" stroke-width="0.08">1<tspan font-style="italic" font-size="12" dy="-6.5">st</tspan><tspan dy="6.5"> fusion peak</tspan></text>
<text transform="translate(769.15 1324.45) rotate(-30)" font-size="16.8" text-anchor="end" fill="#262626" font-family='"Liberation Serif", serif' letter-spacing="0.75" stroke="#262626" stroke-width="0.08">2<tspan font-style="italic" font-size="12" dy="-6.5">nd</tspan><tspan dy="6.5"> fusion peak</tspan></text>
<text transform="translate(830.78 1324.45) rotate(-30)" font-size="16.8" text-anchor="end" fill="#262626" font-family='"Liberation Serif", serif' letter-spacing="0.75" stroke="#262626" stroke-width="0.08">3<tspan font-style="italic" font-size="12" dy="-6.5">rd</tspan><tspan dy="6.5"> fusion peak</tspan></text>
<text transform="translate(451 1173.35) rotate(-90)" font-size="18.4" text-anchor="middle" fill="#262626" stroke="#262626" stroke-width="0.37">frequency (min<tspan dx="1.2" dy="-8.6" font-size="14.6">-1</tspan><tspan dx="3" dy="8.6">)</tspan></text>
<text x="445" y="1031" font-size="18.4" text-anchor="start" fill="#000" stroke="#000" stroke-width="0.37">n</text>
<path d="M498.9 1288L531.19 1288L531.19 1286.43L522.92 1282.49L531.19 1277.57L531.19 1282.49L498.9 1282.49L498.9 1277.57L507.17 1282.49L498.9 1286.43Z" fill="none" stroke="#0000ff" stroke-width="2.9" stroke-linejoin="round" stroke-linecap="butt"/>
<path d="M507.17 1282.49L522.92 1282.49" stroke="#ff0000" stroke-width="2.9" fill="none"/>
<path d="M507.17 1294.89L522.92 1294.89" stroke="#ff0000" stroke-width="2.9" fill="none"/>
<path d="M515.05 1288.99L515.05 1294.89" stroke="#ff0000" stroke-width="2.9" fill="none"/>
<path d="M560.33 1207.87L592.62 1207.87L592.62 1204.72L584.35 1214.76L592.62 1225L592.62 1221.06L560.33 1221.06L560.33 1225L568.6 1214.76L560.33 1204.72Z" fill="none" stroke="#0000ff" stroke-width="2.9" stroke-linejoin="round" stroke-linecap="butt"/>
<path d="M568.6 1214.76L584.35 1214.76" stroke="#ff0000" stroke-width="2.9" fill="none"/>
<path d="M622.74 1103.91L654.25 1103.91L645.98 1141.32L654.25 1180.3L654.25 1153.13L622.74 1153.13L622.74 1180.3L630.62 1141.32Z" fill="none" stroke="#0000ff" stroke-width="2.9" stroke-linejoin="round" stroke-linecap="butt"/>
<path d="M630.62 1141.32L645.98 1141.32" stroke="#ff0000" stroke-width="2.9" fill="none"/>
<path d="M630.62 1159.43L645.98 1159.43" stroke="#ff0000" stroke-width="2.9" fill="none"/>
<path d="M638.3 1154.12L638.3 1159.43" stroke="#ff0000" stroke-width="2.9" fill="none"/>
<path d="M630.62 1073.79L645.98 1073.79" stroke="#0000ff" stroke-width="2.9" fill="none"/>
<path d="M638.3 1073.79L638.3 1081.66" stroke="#0000ff" stroke-width="2.9" fill="none"/>
<path d="M638.3 1093.48L638.3 1103.91" stroke="#0000ff" stroke-width="2.9" fill="none"/>
<path d="M683.7 1288L715.99 1288L715.99 1286.43L707.72 1282.49L715.99 1277.57L715.99 1282.49L683.7 1282.49L683.7 1277.57L691.97 1282.49L683.7 1286.43Z" fill="none" stroke="#0000ff" stroke-width="2.9" stroke-linejoin="round" stroke-linecap="butt"/>
<path d="M691.97 1282.49L707.72 1282.49" stroke="#ff0000" stroke-width="2.9" fill="none"/>
<path d="M691.97 1294.89L707.72 1294.89" stroke="#ff0000" stroke-width="2.9" fill="none"/>
<path d="M699.85 1288.99L699.85 1294.89" stroke="#ff0000" stroke-width="2.9" fill="none"/>
<path d="M745.33 1214.17L777.62 1214.17L777.62 1212.59L769.35 1208.85L777.62 1203.93L777.62 1208.85L745.33 1208.85L745.33 1203.93L753.6 1208.85L745.33 1212.59Z" fill="none" stroke="#0000ff" stroke-width="2.9" stroke-linejoin="round" stroke-linecap="butt"/>
<path d="M753.6 1208.85L769.35 1208.85" stroke="#ff0000" stroke-width="2.9" fill="none"/>
<path d="M753.6 1221.06L769.35 1221.06" stroke="#ff0000" stroke-width="2.9" fill="none"/>
<path d="M761.48 1215.15L761.48 1221.06" stroke="#ff0000" stroke-width="2.9" fill="none"/>
<path d="M807.74 1067.09L838.66 1067.09L838.66 1051.74L830.98 1104.3L838.66 1157.47L838.66 1135.02L807.74 1135.02L807.74 1157.47L815.62 1104.3L807.74 1051.74Z" fill="none" stroke="#0000ff" stroke-width="2.9" stroke-linejoin="round" stroke-linecap="butt"/>
<path d="M815.62 1104.3L830.98 1104.3" stroke="#ff0000" stroke-width="2.9" fill="none"/>
<path d="M815.62 1061.19L830.58 1061.19" stroke="#0000ff" stroke-width="2.9" fill="none"/>
<path d="M823.1 1061.19L823.1 1067.09" stroke="#0000ff" stroke-width="2.9" fill="none"/>
<path d="M1340.9 1039.9H1713.6V1309.4H1340.9ZM1371.96 1309.4v-4.4M1371.96 1039.9v4.4M1434.08 1309.4v-4.4M1434.08 1039.9v4.4M1496.19 1309.4v-4.4M1496.19 1039.9v4.4M1558.31 1309.4v-4.4M1558.31 1039.9v4.4M1620.42 1309.4v-4.4M1620.42 1039.9v4.4M1682.54 1309.4v-4.4M1682.54 1039.9v4.4M1340.9 1308.8h4.4M1340.9 1269.08h4.4M1340.9 1229.36h4.4M1340.9 1189.64h4.4M1340.9 1149.92h4.4M1340.9 1110.2h4.4M1340.9 1070.48h4.4M1713.6 1308.8h-4.4M1713.6 1269.08h-4.4M1713.6 1229.36h-4.4M1713.6 1189.64h-4.4M1713.6 1149.92h-4.4M1713.6 1110.2h-4.4M1713.6 1070.48h-4.4" stroke="#262626" stroke-width="1.6" fill="none" stroke-linejoin="miter"/>
<text x="1336.7" y="1313.4" font-size="17" text-anchor="end" fill="#262626" font-family='"Liberation Serif", serif' letter-spacing="0.3" stroke="none" stroke-width="0">0.1</text>
<text x="1336.7" y="1273.68" font-size="17" text-anchor="end" fill="#262626" font-family='"Liberation Serif", serif' letter-spacing="0.3" stroke="none" stroke-width="0">0.2</text>
<text x="1336.7" y="1233.96" font-size="17" text-anchor="end" fill="#262626" font-family='"Liberation Serif", serif' letter-spacing="0.3" stroke="none" stroke-width="0">0.3</text>
<text x="1336.7" y="1194.24" font-size="17" text-anchor="end" fill="#262626" font-family='"Liberation Serif", serif' letter-spacing="0.3" stroke="none" stroke-width="0">0.4</text>
<text x="1336.7" y="1154.52" font-size="17" text-anchor="end" fill="#262626" font-family='"Liberation Serif", serif' letter-spacing="0.3" stroke="none" stroke-width="0">0.5</text>
<text x="1336.7" y="1114.8" font-size="17" text-anchor="end" fill="#262626" font-family='"Liberation Serif", serif' letter-spacing="0.3" stroke="none" stroke-width="0">0.6</text>
<text x="1336.7" y="1075.08" font-size="17" text-anchor="end" fill="#262626" font-family='"Liberation Serif", serif' letter-spacing="0.3" stroke="none" stroke-width="0">0.7</text>
<text transform="translate(1379.86 1326.55) rotate(-30)" font-size="16.8" text-anchor="end" fill="#262626" font-family='"Liberation Serif", serif' letter-spacing="0.75" stroke="#262626" stroke-width="0.08">1<tspan font-style="italic" font-size="12" dy="-6.5">st</tspan><tspan dy="6.5"> fission peak</tspan></text>
<text transform="translate(1441.98 1326.55) rotate(-30)" font-size="16.8" text-anchor="end" fill="#262626" font-family='"Liberation Serif", serif' letter-spacing="0.75" stroke="#262626" stroke-width="0.08">2<tspan font-style="italic" font-size="12" dy="-6.5">nd</tspan><tspan dy="6.5"> fission peak</tspan></text>
<text transform="translate(1504.09 1326.55) rotate(-30)" font-size="16.8" text-anchor="end" fill="#262626" font-family='"Liberation Serif", serif' letter-spacing="0.75" stroke="#262626" stroke-width="0.08">3<tspan font-style="italic" font-size="12" dy="-6.5">rd</tspan><tspan dy="6.5"> fission peak</tspan></text>
<text transform="translate(1566.21 1326.55) rotate(-30)" font-size="16.8" text-anchor="end" fill="#262626" font-family='"Liberation Serif", serif' letter-spacing="0.75" stroke="#262626" stroke-width="0.08">1<tspan font-style="italic" font-size="12" dy="-6.5">st</tspan><tspan dy="6.5"> fusion peak</tspan></text>
<text transform="translate(1628.33 1326.55) rotate(-30)" font-size="16.8" text-anchor="end" fill="#262626" font-family='"Liberation Serif", serif' letter-spacing="0.75" stroke="#262626" stroke-width="0.08">2<tspan font-style="italic" font-size="12" dy="-6.5">nd</tspan><tspan dy="6.5"> fusion peak</tspan></text>
<text transform="translate(1690.44 1326.55) rotate(-30)" font-size="16.8" text-anchor="end" fill="#262626" font-family='"Liberation Serif", serif' letter-spacing="0.75" stroke="#262626" stroke-width="0.08">3<tspan font-style="italic" font-size="12" dy="-6.5">rd</tspan><tspan dy="6.5"> fusion peak</tspan></text>
<text transform="translate(1307 1174.65) rotate(-90)" font-size="18.4" text-anchor="middle" fill="#262626" stroke="#262626" stroke-width="0.37">frequency (min<tspan dx="1.2" dy="-8.6" font-size="14.6">-1</tspan><tspan dx="3" dy="8.6">)</tspan></text>
<text x="1309" y="1031" font-size="18.4" text-anchor="start" fill="#000" stroke="#000" stroke-width="0.37">p</text>
<path d="M1356.1 1281.7L1388.19 1281.7L1379.92 1287.41L1388.19 1292.92L1388.19 1290.37L1356.1 1290.37L1356.1 1292.92L1364.17 1287.41Z" fill="none" stroke="#0000ff" stroke-width="2.9" stroke-linejoin="round" stroke-linecap="butt"/>
<path d="M1364.17 1287.41L1379.92 1287.41" stroke="#ff0000" stroke-width="2.9" fill="none"/>
<path d="M1364.17 1297.26L1379.53 1297.26" stroke="#ff0000" stroke-width="2.9" fill="none"/>
<path d="M1371.85 1291.55L1371.85 1297.26" stroke="#ff0000" stroke-width="2.9" fill="none"/>
<path d="M1369.85 1266.54h4.4M1372.05 1264.34v4.4" stroke="#ff0000" stroke-width="0.8" fill="none"/>
<path d="M1417.92 1225.59L1450.21 1225.59L1450.21 1222.04L1441.94 1230.9L1450.21 1239.76L1450.21 1235.83L1417.92 1235.83L1417.92 1239.76L1426.19 1230.9L1417.92 1222.04Z" fill="none" stroke="#0000ff" stroke-width="2.9" stroke-linejoin="round" stroke-linecap="butt"/>
<path d="M1426.19 1230.9L1441.94 1230.9" stroke="#ff0000" stroke-width="2.9" fill="none"/>
<path d="M1480.14 1082.25L1512.63 1082.25L1512.63 1094.07L1503.96 1154.51L1512.23 1214.17L1512.63 1166.33L1480.14 1166.33L1480.53 1214.17L1488.21 1154.51L1480.14 1094.07Z" fill="none" stroke="#0000ff" stroke-width="2.9" stroke-linejoin="round" stroke-linecap="butt"/>
<path d="M1488.21 1154.51L1503.96 1154.51" stroke="#ff0000" stroke-width="2.9" fill="none"/>
<path d="M1488.21 1174.79L1503.96 1174.79" stroke="#ff0000" stroke-width="2.9" fill="none"/>
<path d="M1496.09 1167.31L1496.09 1174.79" stroke="#ff0000" stroke-width="2.9" fill="none"/>
<path d="M1488.21 1052.33L1503.96 1052.33" stroke="#0000ff" stroke-width="2.9" fill="none"/>
<path d="M1496.09 1052.33L1496.09 1060" stroke="#0000ff" stroke-width="2.9" fill="none"/>
<path d="M1496.09 1071.42L1496.09 1082.25" stroke="#0000ff" stroke-width="2.9" fill="none"/>
<path d="M1542.21 1289.97L1574.89 1289.97L1574.89 1285.44L1566.42 1287.41L1574.89 1289.38L1542.21 1289.38L1550.28 1287.41L1542.21 1285.44Z" fill="none" stroke="#0000ff" stroke-width="2.9" stroke-linejoin="round" stroke-linecap="butt"/>
<path d="M1550.28 1287.41L1566.03 1287.41" stroke="#ff0000" stroke-width="2.9" fill="none"/>
<path d="M1555.96 1297.45h4.4M1558.16 1295.25v4.4" stroke="#ff0000" stroke-width="0.8" fill="none"/>
<path d="M1604.23 1230.51L1636.52 1230.51L1636.52 1228.94L1628.25 1225.98L1636.52 1221.65L1636.52 1225.98L1604.23 1225.98L1604.23 1221.65L1612.5 1225.98L1604.23 1228.94Z" fill="none" stroke="#0000ff" stroke-width="2.9" stroke-linejoin="round" stroke-linecap="butt"/>
<path d="M1612.5 1225.98L1628.25 1225.98" stroke="#ff0000" stroke-width="2.9" fill="none"/>
<path d="M1612.5 1236.22L1628.25 1236.22" stroke="#ff0000" stroke-width="2.9" fill="none"/>
<path d="M1620.37 1231.5L1620.37 1236.22" stroke="#ff0000" stroke-width="2.9" fill="none"/>
<path d="M1666.25 1113.16L1698.93 1113.16L1698.93 1121.63L1689.87 1164.55L1698.34 1207.87L1698.93 1174.4L1666.25 1174.4L1666.84 1207.87L1674.71 1164.55L1666.25 1121.63Z" fill="none" stroke="#0000ff" stroke-width="2.9" stroke-linejoin="round" stroke-linecap="butt"/>
<path d="M1674.71 1164.55L1689.87 1164.55" stroke="#ff0000" stroke-width="2.9" fill="none"/>
<path d="M1674.71 1052.33L1689.87 1052.33" stroke="#0000ff" stroke-width="2.9" fill="none"/>
<path d="M1682.39 1052.33L1682.39 1066.5" stroke="#0000ff" stroke-width="2.9" fill="none"/>
<path d="M1682.39 1075.36L1682.39 1090.13" stroke="#0000ff" stroke-width="2.9" fill="none"/>
<path d="M1682.39 1102.93L1682.39 1113.16" stroke="#0000ff" stroke-width="2.9" fill="none"/>
<path d="M933 1400.4v2M1028.95 1400.4v2M1124.9 1400.4v2M1220.85 1400.4v2M1316.8 1400.4v2M1412.75 1400.4v2" stroke="#d0d0d0" stroke-width="1" fill="none"/>
<rect x="132.3" y="1406.7" width="366.8" height="29.7" fill="#fff" stroke="#262626" stroke-width="2.5"/>
<path d="M136.8 1421.25H172.2" stroke="#0072bd" stroke-width="3.1"/>
<text x="175.8" y="1428.9" font-size="20.4" text-anchor="start" fill="#000" stroke="#000" stroke-width="0.41">cell1</text>
<path d="M228.5 1421.25H263.9" stroke="#d95319" stroke-width="3.1"/>
<text x="267.5" y="1428.9" font-size="20.4" text-anchor="start" fill="#000" stroke="#000" stroke-width="0.41">cell2</text>
<path d="M320.2 1421.25H355.6" stroke="#edb120" stroke-width="3.1"/>
<text x="359.2" y="1428.9" font-size="20.4" text-anchor="start" fill="#000" stroke="#000" stroke-width="0.41">cell3</text>
<path d="M411.9 1421.25H447.3" stroke="#7e2f8e" stroke-width="3.1"/>
<text x="450.9" y="1428.9" font-size="20.4" text-anchor="start" fill="#000" stroke="#000" stroke-width="0.41">cell4</text>
<text x="519.7" y="1429.4" font-size="26.2" text-anchor="start" fill="#000" stroke="#000" stroke-width="0.52">group1 cells</text>
<rect x="876.5" y="1404.5" width="592.2" height="32.1" fill="#fff" stroke="#262626" stroke-width="2.5"/>
<path d="M881.8 1420.25H919.2" stroke="#0072bd" stroke-width="3.1"/>
<text x="922.8" y="1429.3" font-size="22.7" text-anchor="start" fill="#000" stroke="#000" stroke-width="0.45">cell1</text>
<path d="M980.4 1420.25H1017.8" stroke="#d95319" stroke-width="3.1"/>
<text x="1021.4" y="1429.3" font-size="22.7" text-anchor="start" fill="#000" stroke="#000" stroke-width="0.45">cell2</text>
<path d="M1079 1420.25H1116.4" stroke="#edb120" stroke-width="3.1"/>
<text x="1120" y="1429.3" font-size="22.7" text-anchor="start" fill="#000" stroke="#000" stroke-width="0.45">cell3</text>
<path d="M1177.6 1420.25H1215" stroke="#7e2f8e" stroke-width="3.1"/>
<text x="1218.6" y="1429.3" font-size="22.7" text-anchor="start" fill="#000" stroke="#000" stroke-width="0.45">cell4</text>
<path d="M1276.2 1420.25H1313.6" stroke="#77ac30" stroke-width="3.1"/>
<text x="1317.2" y="1429.3" font-size="22.7" text-anchor="start" fill="#000" stroke="#000" stroke-width="0.45">cell5</text>
<path d="M1374.8 1420.25H1412.2" stroke="#4dbeee" stroke-width="3.1"/>
<text x="1415.8" y="1429.3" font-size="22.7" text-anchor="start" fill="#000" stroke="#000" stroke-width="0.45">cell6</text>
<text x="1489.7" y="1429.4" font-size="26.2" text-anchor="start" fill="#000" stroke="#000" stroke-width="0.52">group2 cells</text>
</svg>
</body>
</html>
